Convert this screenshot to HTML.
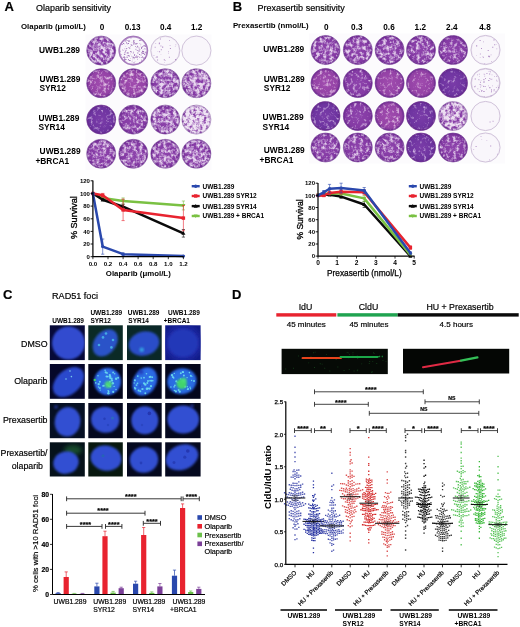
<!DOCTYPE html><html><head><meta charset="utf-8"><title>Figure</title><style>html,body{margin:0;padding:0;background:#fff}svg{display:block}text{font-family:"Liberation Sans",Arial,sans-serif}</style></head><body><svg width="520" height="627" viewBox="0 0 520 627">
<defs>
<filter id="wd0" x="-5%" y="-5%" width="110%" height="110%" color-interpolation-filters="sRGB"><feTurbulence type="fractalNoise" baseFrequency="0.3" numOctaves="3" seed="3" result="n"/><feColorMatrix in="n" type="matrix" values="0 0 0 0 0 0 0 0 0 0 0 0 0 0 0 3.0 0 0 0 -1.750" result="a"/><feComposite in="SourceGraphic" in2="a" operator="in" result="c"/><feGaussianBlur in="c" stdDeviation="0.55"/></filter>
<filter id="wd1" x="-5%" y="-5%" width="110%" height="110%" color-interpolation-filters="sRGB"><feTurbulence type="fractalNoise" baseFrequency="0.3" numOctaves="3" seed="3" result="n"/><feColorMatrix in="n" type="matrix" values="0 0 0 0 0 0 0 0 0 0 0 0 0 0 0 3.0 0 0 0 -1.675" result="a"/><feComposite in="SourceGraphic" in2="a" operator="in" result="c"/><feGaussianBlur in="c" stdDeviation="0.55"/></filter>
<filter id="wd2" x="-5%" y="-5%" width="110%" height="110%" color-interpolation-filters="sRGB"><feTurbulence type="fractalNoise" baseFrequency="0.3" numOctaves="3" seed="3" result="n"/><feColorMatrix in="n" type="matrix" values="0 0 0 0 0 0 0 0 0 0 0 0 0 0 0 3.0 0 0 0 -1.600" result="a"/><feComposite in="SourceGraphic" in2="a" operator="in" result="c"/><feGaussianBlur in="c" stdDeviation="0.55"/></filter>
<filter id="wd3" x="-5%" y="-5%" width="110%" height="110%" color-interpolation-filters="sRGB"><feTurbulence type="fractalNoise" baseFrequency="0.3" numOctaves="3" seed="3" result="n"/><feColorMatrix in="n" type="matrix" values="0 0 0 0 0 0 0 0 0 0 0 0 0 0 0 3.0 0 0 0 -1.525" result="a"/><feComposite in="SourceGraphic" in2="a" operator="in" result="c"/><feGaussianBlur in="c" stdDeviation="0.55"/></filter>
<filter id="wd4" x="-5%" y="-5%" width="110%" height="110%" color-interpolation-filters="sRGB"><feTurbulence type="fractalNoise" baseFrequency="0.3" numOctaves="3" seed="3" result="n"/><feColorMatrix in="n" type="matrix" values="0 0 0 0 0 0 0 0 0 0 0 0 0 0 0 3.0 0 0 0 -1.450" result="a"/><feComposite in="SourceGraphic" in2="a" operator="in" result="c"/><feGaussianBlur in="c" stdDeviation="0.55"/></filter>
<filter id="wd5" x="-5%" y="-5%" width="110%" height="110%" color-interpolation-filters="sRGB"><feTurbulence type="fractalNoise" baseFrequency="0.3" numOctaves="3" seed="3" result="n"/><feColorMatrix in="n" type="matrix" values="0 0 0 0 0 0 0 0 0 0 0 0 0 0 0 3.0 0 0 0 -1.375" result="a"/><feComposite in="SourceGraphic" in2="a" operator="in" result="c"/><feGaussianBlur in="c" stdDeviation="0.55"/></filter>
<filter id="wd6" x="-5%" y="-5%" width="110%" height="110%" color-interpolation-filters="sRGB"><feTurbulence type="fractalNoise" baseFrequency="0.3" numOctaves="3" seed="3" result="n"/><feColorMatrix in="n" type="matrix" values="0 0 0 0 0 0 0 0 0 0 0 0 0 0 0 3.0 0 0 0 -1.300" result="a"/><feComposite in="SourceGraphic" in2="a" operator="in" result="c"/><feGaussianBlur in="c" stdDeviation="0.55"/></filter>
<filter id="wd7" x="-5%" y="-5%" width="110%" height="110%" color-interpolation-filters="sRGB"><feTurbulence type="fractalNoise" baseFrequency="0.3" numOctaves="3" seed="3" result="n"/><feColorMatrix in="n" type="matrix" values="0 0 0 0 0 0 0 0 0 0 0 0 0 0 0 3.0 0 0 0 -1.225" result="a"/><feComposite in="SourceGraphic" in2="a" operator="in" result="c"/><feGaussianBlur in="c" stdDeviation="0.55"/></filter>
<filter id="wd8" x="-5%" y="-5%" width="110%" height="110%" color-interpolation-filters="sRGB"><feTurbulence type="fractalNoise" baseFrequency="0.3" numOctaves="3" seed="3" result="n"/><feColorMatrix in="n" type="matrix" values="0 0 0 0 0 0 0 0 0 0 0 0 0 0 0 3.0 0 0 0 -1.150" result="a"/><feComposite in="SourceGraphic" in2="a" operator="in" result="c"/><feGaussianBlur in="c" stdDeviation="0.55"/></filter>
<filter id="wd9" x="-5%" y="-5%" width="110%" height="110%" color-interpolation-filters="sRGB"><feTurbulence type="fractalNoise" baseFrequency="0.3" numOctaves="3" seed="3" result="n"/><feColorMatrix in="n" type="matrix" values="0 0 0 0 0 0 0 0 0 0 0 0 0 0 0 3.0 0 0 0 -1.075" result="a"/><feComposite in="SourceGraphic" in2="a" operator="in" result="c"/><feGaussianBlur in="c" stdDeviation="0.55"/></filter>
<filter id="wd10" x="-5%" y="-5%" width="110%" height="110%" color-interpolation-filters="sRGB"><feTurbulence type="fractalNoise" baseFrequency="0.3" numOctaves="3" seed="3" result="n"/><feColorMatrix in="n" type="matrix" values="0 0 0 0 0 0 0 0 0 0 0 0 0 0 0 3.0 0 0 0 -1.000" result="a"/><feComposite in="SourceGraphic" in2="a" operator="in" result="c"/><feGaussianBlur in="c" stdDeviation="0.55"/></filter>
<filter id="wd11" x="-5%" y="-5%" width="110%" height="110%" color-interpolation-filters="sRGB"><feTurbulence type="fractalNoise" baseFrequency="0.3" numOctaves="3" seed="3" result="n"/><feColorMatrix in="n" type="matrix" values="0 0 0 0 0 0 0 0 0 0 0 0 0 0 0 3.0 0 0 0 -0.925" result="a"/><feComposite in="SourceGraphic" in2="a" operator="in" result="c"/><feGaussianBlur in="c" stdDeviation="0.55"/></filter>
<filter id="wd12" x="-5%" y="-5%" width="110%" height="110%" color-interpolation-filters="sRGB"><feTurbulence type="fractalNoise" baseFrequency="0.3" numOctaves="3" seed="3" result="n"/><feColorMatrix in="n" type="matrix" values="0 0 0 0 0 0 0 0 0 0 0 0 0 0 0 3.0 0 0 0 -0.850" result="a"/><feComposite in="SourceGraphic" in2="a" operator="in" result="c"/><feGaussianBlur in="c" stdDeviation="0.55"/></filter>
<filter id="wd13" x="-5%" y="-5%" width="110%" height="110%" color-interpolation-filters="sRGB"><feTurbulence type="fractalNoise" baseFrequency="0.3" numOctaves="3" seed="3" result="n"/><feColorMatrix in="n" type="matrix" values="0 0 0 0 0 0 0 0 0 0 0 0 0 0 0 3.0 0 0 0 -0.775" result="a"/><feComposite in="SourceGraphic" in2="a" operator="in" result="c"/><feGaussianBlur in="c" stdDeviation="0.55"/></filter>
<filter id="wd14" x="-5%" y="-5%" width="110%" height="110%" color-interpolation-filters="sRGB"><feTurbulence type="fractalNoise" baseFrequency="0.3" numOctaves="3" seed="3" result="n"/><feColorMatrix in="n" type="matrix" values="0 0 0 0 0 0 0 0 0 0 0 0 0 0 0 3.0 0 0 0 -0.700" result="a"/><feComposite in="SourceGraphic" in2="a" operator="in" result="c"/><feGaussianBlur in="c" stdDeviation="0.55"/></filter>
<filter id="wd15" x="-5%" y="-5%" width="110%" height="110%" color-interpolation-filters="sRGB"><feTurbulence type="fractalNoise" baseFrequency="0.3" numOctaves="3" seed="3" result="n"/><feColorMatrix in="n" type="matrix" values="0 0 0 0 0 0 0 0 0 0 0 0 0 0 0 3.0 0 0 0 -0.625" result="a"/><feComposite in="SourceGraphic" in2="a" operator="in" result="c"/><feGaussianBlur in="c" stdDeviation="0.55"/></filter>
<filter id="wd16" x="-5%" y="-5%" width="110%" height="110%" color-interpolation-filters="sRGB"><feTurbulence type="fractalNoise" baseFrequency="0.3" numOctaves="3" seed="3" result="n"/><feColorMatrix in="n" type="matrix" values="0 0 0 0 0 0 0 0 0 0 0 0 0 0 0 3.0 0 0 0 -0.550" result="a"/><feComposite in="SourceGraphic" in2="a" operator="in" result="c"/><feGaussianBlur in="c" stdDeviation="0.55"/></filter>
<filter id="wd17" x="-5%" y="-5%" width="110%" height="110%" color-interpolation-filters="sRGB"><feTurbulence type="fractalNoise" baseFrequency="0.3" numOctaves="3" seed="3" result="n"/><feColorMatrix in="n" type="matrix" values="0 0 0 0 0 0 0 0 0 0 0 0 0 0 0 3.0 0 0 0 -0.475" result="a"/><feComposite in="SourceGraphic" in2="a" operator="in" result="c"/><feGaussianBlur in="c" stdDeviation="0.55"/></filter>
<filter id="wd18" x="-5%" y="-5%" width="110%" height="110%" color-interpolation-filters="sRGB"><feTurbulence type="fractalNoise" baseFrequency="0.3" numOctaves="3" seed="3" result="n"/><feColorMatrix in="n" type="matrix" values="0 0 0 0 0 0 0 0 0 0 0 0 0 0 0 3.0 0 0 0 -0.400" result="a"/><feComposite in="SourceGraphic" in2="a" operator="in" result="c"/><feGaussianBlur in="c" stdDeviation="0.55"/></filter>
<filter id="wd19" x="-5%" y="-5%" width="110%" height="110%" color-interpolation-filters="sRGB"><feTurbulence type="fractalNoise" baseFrequency="0.3" numOctaves="3" seed="3" result="n"/><feColorMatrix in="n" type="matrix" values="0 0 0 0 0 0 0 0 0 0 0 0 0 0 0 3.0 0 0 0 -0.325" result="a"/><feComposite in="SourceGraphic" in2="a" operator="in" result="c"/><feGaussianBlur in="c" stdDeviation="0.55"/></filter>
<filter id="wd20" x="-5%" y="-5%" width="110%" height="110%" color-interpolation-filters="sRGB"><feTurbulence type="fractalNoise" baseFrequency="0.3" numOctaves="3" seed="3" result="n"/><feColorMatrix in="n" type="matrix" values="0 0 0 0 0 0 0 0 0 0 0 0 0 0 0 3.0 0 0 0 -0.250" result="a"/><feComposite in="SourceGraphic" in2="a" operator="in" result="c"/><feGaussianBlur in="c" stdDeviation="0.55"/></filter>
<radialGradient id="pg" cx="50%" cy="50%" r="50%"><stop offset="0" stop-color="#8e44ac"/><stop offset="0.8" stop-color="#843aa4"/><stop offset="1" stop-color="#723094"/></radialGradient>
<radialGradient id="pgd" cx="50%" cy="50%" r="50%"><stop offset="0" stop-color="#7a3ca8"/><stop offset="0.8" stop-color="#6e34a0"/><stop offset="1" stop-color="#602c92"/></radialGradient>
<radialGradient id="nuc" cx="50%" cy="50%" r="50%"><stop offset="0" stop-color="#3d5cf0"/><stop offset="0.75" stop-color="#3048dc"/><stop offset="1" stop-color="#2233b8"/></radialGradient>
<filter id="b1" x="-20%" y="-20%" width="140%" height="140%"><feGaussianBlur stdDeviation="1"/></filter>
<filter id="b05" x="-20%" y="-20%" width="140%" height="140%"><feGaussianBlur stdDeviation="0.6"/></filter>
<filter id="b2" x="-30%" y="-30%" width="160%" height="160%"><feGaussianBlur stdDeviation="2"/></filter>
</defs>
<defs><radialGradient id="pgm" cx="50%" cy="50%" r="50%"><stop offset="0" stop-color="#a04cae"/><stop offset="0.8" stop-color="#9442a6"/><stop offset="1" stop-color="#7e3698"/></radialGradient></defs>
<rect x="85.5" y="34.5" width="126" height="135.5" fill="#fcfbfd"/>
<circle cx="101.2" cy="50.6" r="14.6" fill="#f9f6fb" stroke="#bfaccb" stroke-width="0.7"/>
<circle cx="101.2" cy="50.6" r="14.299999999999999" fill="#cda6dc" opacity="0.41"/>
<circle cx="101.2" cy="50.6" r="14.4" fill="url(#pg)" filter="url(#wd11)"/>
<circle cx="101.2" cy="50.6" r="14.0" fill="none" stroke="#6c2c90" stroke-width="1.6" opacity="0.39" filter="url(#b05)"/>
<circle cx="133.3" cy="50.6" r="14.6" fill="#f9f6fb" stroke="#bfaccb" stroke-width="0.7"/>
<path d="M144.1 53.9h1.0v1.0h-1.0zM123.9 59.4h0.8v0.8h-0.8zM143.9 47.9h0.6v0.6h-0.6zM132.9 44.3h0.7v0.7h-0.7zM141.4 59.5h0.5v0.5h-0.5zM121.7 43.9h1.0v1.0h-1.0zM143.9 52.7h0.7v0.7h-0.7zM133.5 62.2h1.0v1.0h-1.0zM135.6 49.2h0.7v0.7h-0.7zM138.2 50.6h0.9v0.9h-0.9zM128.9 55.0h0.6v0.6h-0.6zM139.4 48.9h0.9v0.9h-0.9zM136.3 44.4h0.7v0.7h-0.7zM125.5 50.0h0.9v0.9h-0.9zM136.9 46.8h0.7v0.7h-0.7zM120.1 50.8h0.8v0.8h-0.8zM124.9 51.4h0.8v0.8h-0.8zM131.7 61.6h0.7v0.7h-0.7zM124.7 58.9h0.9v0.9h-0.9zM134.5 43.4h1.1v1.1h-1.1zM129.1 40.4h1.0v1.0h-1.0zM126.1 42.2h0.8v0.8h-0.8zM122.7 50.0h0.7v0.7h-0.7zM139.2 62.3h0.8v0.8h-0.8zM146.3 51.7h0.6v0.6h-0.6zM130.7 44.2h1.0v1.0h-1.0zM138.8 47.8h0.7v0.7h-0.7zM135.6 48.7h0.7v0.7h-0.7zM127.7 52.4h1.1v1.1h-1.1zM130.2 51.0h1.0v1.0h-1.0zM136.6 57.0h1.0v1.0h-1.0zM126.6 56.9h1.0v1.0h-1.0zM128.1 59.1h0.8v0.8h-0.8zM142.2 56.0h0.8v0.8h-0.8zM138.6 47.3h0.6v0.6h-0.6zM142.9 52.9h1.0v1.0h-1.0zM132.6 57.7h0.9v0.9h-0.9zM124.5 48.4h0.8v0.8h-0.8zM123.9 53.7h0.9v0.9h-0.9zM139.2 50.6h0.9v0.9h-0.9zM124.3 60.2h1.0v1.0h-1.0zM145.2 51.8h0.9v0.9h-0.9zM124.3 43.7h0.6v0.6h-0.6zM123.0 42.9h1.0v1.0h-1.0zM125.8 61.4h0.5v0.5h-0.5zM133.6 39.9h0.9v0.9h-0.9zM125.6 46.2h0.5v0.5h-0.5zM139.7 39.9h0.9v0.9h-0.9zM141.8 46.2h1.1v1.1h-1.1zM132.8 52.7h0.8v0.8h-0.8zM126.3 39.6h0.7v0.7h-0.7zM140.8 57.1h0.7v0.7h-0.7zM126.4 42.5h0.6v0.6h-0.6zM141.5 52.7h0.8v0.8h-0.8zM128.8 60.1h0.9v0.9h-0.9zM127.0 43.4h0.9v0.9h-0.9zM145.6 52.6h0.9v0.9h-0.9zM141.8 57.1h0.8v0.8h-0.8zM127.5 55.2h1.0v1.0h-1.0zM137.2 43.1h0.7v0.7h-0.7zM137.1 59.3h0.6v0.6h-0.6zM141.2 60.4h0.8v0.8h-0.8zM137.4 46.2h0.8v0.8h-0.8zM142.9 57.4h1.1v1.1h-1.1zM130.4 53.7h0.6v0.6h-0.6zM132.5 56.6h1.0v1.0h-1.0zM139.1 43.5h0.6v0.6h-0.6zM138.5 56.3h0.7v0.7h-0.7zM124.5 53.8h0.9v0.9h-0.9zM134.0 54.3h1.1v1.1h-1.1zM129.4 47.6h0.8v0.8h-0.8zM135.3 43.6h0.7v0.7h-0.7zM140.4 43.7h0.8v0.8h-0.8zM141.7 52.6h1.1v1.1h-1.1zM135.8 43.0h1.0v1.0h-1.0zM125.6 59.0h0.9v0.9h-0.9zM128.4 47.3h0.8v0.8h-0.8zM134.3 57.8h0.6v0.6h-0.6zM139.2 57.2h0.7v0.7h-0.7zM133.2 51.7h0.8v0.8h-0.8zM136.9 57.5h0.7v0.7h-0.7zM128.4 55.1h0.9v0.9h-0.9zM144.4 45.1h1.1v1.1h-1.1zM135.1 45.9h0.9v0.9h-0.9zM138.7 48.7h0.6v0.6h-0.6zM126.6 55.8h0.6v0.6h-0.6zM126.2 48.0h1.0v1.0h-1.0zM124.5 52.2h0.8v0.8h-0.8zM133.3 43.2h0.8v0.8h-0.8zM137.1 45.8h0.8v0.8h-0.8zM139.0 54.1h1.0v1.0h-1.0zM144.9 46.0h0.9v0.9h-0.9zM124.2 57.1h1.1v1.1h-1.1zM121.2 55.8h0.5v0.5h-0.5zM143.1 51.1h1.0v1.0h-1.0zM122.4 48.9h0.7v0.7h-0.7zM122.8 57.0h0.9v0.9h-0.9zM129.7 60.0h0.9v0.9h-0.9zM133.6 42.1h1.1v1.1h-1.1zM133.2 41.5h1.0v1.0h-1.0zM136.5 55.4h0.5v0.5h-0.5zM129.5 48.2h0.7v0.7h-0.7zM139.2 40.3h0.8v0.8h-0.8zM142.8 49.2h0.6v0.6h-0.6zM126.3 48.7h0.6v0.6h-0.6zM141.1 47.0h1.1v1.1h-1.1zM128.8 55.9h0.7v0.7h-0.7zM129.4 48.3h0.5v0.5h-0.5zM126.8 51.9h0.9v0.9h-0.9zM136.2 55.6h1.0v1.0h-1.0zM144.7 57.3h1.1v1.1h-1.1zM144.6 48.6h0.9v0.9h-0.9zM134.7 60.9h0.6v0.6h-0.6zM142.0 50.8h1.1v1.1h-1.1zM128.3 41.1h0.9v0.9h-0.9zM136.8 50.0h0.9v0.9h-0.9zM130.0 45.9h0.7v0.7h-0.7zM125.3 40.2h1.0v1.0h-1.0zM124.1 58.5h1.1v1.1h-1.1zM140.6 40.3h0.7v0.7h-0.7zM131.0 55.8h0.6v0.6h-0.6zM124.2 54.2h0.7v0.7h-0.7zM141.1 48.0h0.9v0.9h-0.9zM139.0 40.2h0.9v0.9h-0.9zM129.4 55.9h0.6v0.6h-0.6zM136.1 47.4h0.6v0.6h-0.6zM130.1 58.0h0.6v0.6h-0.6zM126.4 43.3h0.6v0.6h-0.6zM124.7 41.1h0.7v0.7h-0.7zM133.5 57.1h1.0v1.0h-1.0zM143.3 45.5h1.0v1.0h-1.0zM133.9 58.7h0.5v0.5h-0.5zM128.0 42.9h1.0v1.0h-1.0zM130.5 37.5h0.9v0.9h-0.9zM134.1 55.3h0.6v0.6h-0.6zM126.8 53.0h0.7v0.7h-0.7zM140.0 45.7h0.6v0.6h-0.6zM130.8 51.6h0.9v0.9h-0.9zM137.3 56.3h0.6v0.6h-0.6zM143.0 45.4h0.6v0.6h-0.6zM125.4 51.3h0.6v0.6h-0.6zM135.2 56.6h1.1v1.1h-1.1zM142.7 52.6h1.0v1.0h-1.0zM133.2 40.3h1.1v1.1h-1.1zM123.6 56.2h1.1v1.1h-1.1zM141.3 51.9h0.7v0.7h-0.7zM140.6 54.5h0.9v0.9h-0.9zM132.0 59.7h0.6v0.6h-0.6zM127.5 39.9h1.0v1.0h-1.0zM131.4 44.9h1.0v1.0h-1.0zM139.1 50.5h0.6v0.6h-0.6zM137.3 52.4h1.1v1.1h-1.1zM131.7 42.0h0.5v0.5h-0.5zM120.8 53.9h0.8v0.8h-0.8z" fill="#7e42a0" opacity="0.7" filter="url(#b05)"/>
<circle cx="133.3" cy="50.6" r="14.0" fill="none" stroke="#8a4ea8" stroke-width="1.6" opacity="0.66" filter="url(#b05)"/>
<circle cx="165.3" cy="50.6" r="14.6" fill="#f9f6fb" stroke="#bfaccb" stroke-width="0.7"/>
<path d="M175.5 44.6h0.7v0.7h-0.7zM157.6 51.5h0.6v0.6h-0.6zM175.1 59.1h1.1v1.1h-1.1zM154.7 46.8h0.9v0.9h-0.9zM169.7 45.0h0.7v0.7h-0.7zM158.8 43.2h1.1v1.1h-1.1zM174.9 46.5h0.6v0.6h-0.6zM157.0 56.5h0.9v0.9h-0.9zM160.7 54.6h0.5v0.5h-0.5zM159.9 38.4h1.0v1.0h-1.0zM156.3 56.6h0.8v0.8h-0.8zM158.9 42.6h0.9v0.9h-0.9zM157.1 59.5h1.0v1.0h-1.0zM164.4 62.5h0.5v0.5h-0.5zM163.8 59.2h1.0v1.0h-1.0zM169.0 40.0h0.8v0.8h-0.8zM169.9 47.9h1.0v1.0h-1.0zM168.9 56.8h0.9v0.9h-0.9zM159.1 51.2h1.0v1.0h-1.0zM153.6 55.1h0.7v0.7h-0.7zM155.6 57.4h0.6v0.6h-0.6zM168.0 52.8h0.6v0.6h-0.6zM160.5 45.6h0.9v0.9h-0.9zM155.5 43.1h0.6v0.6h-0.6zM162.1 46.6h1.1v1.1h-1.1zM160.8 49.2h1.0v1.0h-1.0zM168.3 51.3h0.6v0.6h-0.6zM164.8 60.0h0.7v0.7h-0.7z" fill="#7e42a0" opacity="0.6" filter="url(#b05)"/>
<circle cx="165.3" cy="50.6" r="14.0" fill="none" stroke="#9a78b0" stroke-width="0.9" opacity="0.12" filter="url(#b05)"/>
<circle cx="196.4" cy="50.6" r="14.6" fill="#f9f6fb" stroke="#bfaccb" stroke-width="0.7"/>
<circle cx="101.2" cy="83.2" r="14.6" fill="#f9f6fb" stroke="#bfaccb" stroke-width="0.7"/>
<circle cx="101.2" cy="83.2" r="14.299999999999999" fill="#d4a4d8" opacity="0.60"/>
<circle cx="101.2" cy="83.2" r="14.4" fill="url(#pgm)" filter="url(#wd16)"/>
<circle cx="101.2" cy="83.2" r="14.0" fill="none" stroke="#6c2c90" stroke-width="1.6" opacity="0.56" filter="url(#b05)"/>
<circle cx="133.3" cy="83.2" r="14.6" fill="#f9f6fb" stroke="#bfaccb" stroke-width="0.7"/>
<circle cx="133.3" cy="83.2" r="14.299999999999999" fill="#d4a4d8" opacity="0.56"/>
<circle cx="133.3" cy="83.2" r="14.4" fill="url(#pgm)" filter="url(#wd15)"/>
<circle cx="133.3" cy="83.2" r="14.0" fill="none" stroke="#6c2c90" stroke-width="1.6" opacity="0.52" filter="url(#b05)"/>
<circle cx="165.3" cy="83.2" r="14.6" fill="#f9f6fb" stroke="#bfaccb" stroke-width="0.7"/>
<circle cx="165.3" cy="83.2" r="14.299999999999999" fill="#cda6dc" opacity="0.41"/>
<circle cx="165.3" cy="83.2" r="14.4" fill="url(#pg)" filter="url(#wd11)"/>
<circle cx="165.3" cy="83.2" r="14.0" fill="none" stroke="#6c2c90" stroke-width="1.6" opacity="0.39" filter="url(#b05)"/>
<circle cx="196.4" cy="83.2" r="14.6" fill="#f9f6fb" stroke="#bfaccb" stroke-width="0.7"/>
<circle cx="196.4" cy="83.2" r="14.299999999999999" fill="#cda6dc" opacity="0.38"/>
<circle cx="196.4" cy="83.2" r="14.4" fill="url(#pg)" filter="url(#wd10)"/>
<circle cx="196.4" cy="83.2" r="14.0" fill="none" stroke="#6c2c90" stroke-width="1.6" opacity="0.35" filter="url(#b05)"/>
<circle cx="101.2" cy="119.6" r="14.6" fill="#f9f6fb" stroke="#bfaccb" stroke-width="0.7"/>
<circle cx="101.2" cy="119.6" r="14.299999999999999" fill="#b48ad0" opacity="0.68"/>
<circle cx="101.2" cy="119.6" r="14.4" fill="url(#pgd)" filter="url(#wd18)"/>
<circle cx="101.2" cy="119.6" r="14.0" fill="none" stroke="#6c2c90" stroke-width="1.6" opacity="0.63" filter="url(#b05)"/>
<circle cx="133.3" cy="119.6" r="14.6" fill="#f9f6fb" stroke="#bfaccb" stroke-width="0.7"/>
<circle cx="133.3" cy="119.6" r="14.299999999999999" fill="#cda6dc" opacity="0.52"/>
<circle cx="133.3" cy="119.6" r="14.4" fill="url(#pg)" filter="url(#wd14)"/>
<circle cx="133.3" cy="119.6" r="14.0" fill="none" stroke="#6c2c90" stroke-width="1.6" opacity="0.49" filter="url(#b05)"/>
<circle cx="165.3" cy="119.6" r="14.6" fill="#f9f6fb" stroke="#bfaccb" stroke-width="0.7"/>
<circle cx="165.3" cy="119.6" r="14.299999999999999" fill="#cda6dc" opacity="0.41"/>
<circle cx="165.3" cy="119.6" r="14.4" fill="url(#pg)" filter="url(#wd11)"/>
<circle cx="165.3" cy="119.6" r="14.0" fill="none" stroke="#6c2c90" stroke-width="1.6" opacity="0.39" filter="url(#b05)"/>
<circle cx="196.4" cy="119.6" r="14.6" fill="#f9f6fb" stroke="#bfaccb" stroke-width="0.7"/>
<circle cx="196.4" cy="119.6" r="14.299999999999999" fill="#cda6dc" opacity="0.22"/>
<circle cx="196.4" cy="119.6" r="14.4" fill="url(#pg)" filter="url(#wd6)"/>
<circle cx="196.4" cy="119.6" r="14.0" fill="none" stroke="#6c2c90" stroke-width="1.6" opacity="0.21" filter="url(#b05)"/>
<circle cx="101.2" cy="153.8" r="14.6" fill="#f9f6fb" stroke="#bfaccb" stroke-width="0.7"/>
<circle cx="101.2" cy="153.8" r="14.299999999999999" fill="#cda6dc" opacity="0.49"/>
<circle cx="101.2" cy="153.8" r="14.4" fill="url(#pg)" filter="url(#wd13)"/>
<circle cx="101.2" cy="153.8" r="14.0" fill="none" stroke="#6c2c90" stroke-width="1.6" opacity="0.45" filter="url(#b05)"/>
<circle cx="133.3" cy="153.8" r="14.6" fill="#f9f6fb" stroke="#bfaccb" stroke-width="0.7"/>
<circle cx="133.3" cy="153.8" r="14.299999999999999" fill="#cda6dc" opacity="0.49"/>
<circle cx="133.3" cy="153.8" r="14.4" fill="url(#pg)" filter="url(#wd13)"/>
<circle cx="133.3" cy="153.8" r="14.0" fill="none" stroke="#6c2c90" stroke-width="1.6" opacity="0.45" filter="url(#b05)"/>
<circle cx="165.3" cy="153.8" r="14.6" fill="#f9f6fb" stroke="#bfaccb" stroke-width="0.7"/>
<circle cx="165.3" cy="153.8" r="14.299999999999999" fill="#cda6dc" opacity="0.45"/>
<circle cx="165.3" cy="153.8" r="14.4" fill="url(#pg)" filter="url(#wd12)"/>
<circle cx="165.3" cy="153.8" r="14.0" fill="none" stroke="#6c2c90" stroke-width="1.6" opacity="0.42" filter="url(#b05)"/>
<circle cx="196.4" cy="153.8" r="14.6" fill="#f9f6fb" stroke="#bfaccb" stroke-width="0.7"/>
<circle cx="196.4" cy="153.8" r="14.299999999999999" fill="#cda6dc" opacity="0.41"/>
<circle cx="196.4" cy="153.8" r="14.4" fill="url(#pg)" filter="url(#wd11)"/>
<circle cx="196.4" cy="153.8" r="14.0" fill="none" stroke="#6c2c90" stroke-width="1.6" opacity="0.39" filter="url(#b05)"/>
<rect x="309" y="33.5" width="196" height="130" fill="#fcfbfd"/>
<circle cx="325.5" cy="50" r="14.6" fill="#f9f6fb" stroke="#bfaccb" stroke-width="0.7"/>
<circle cx="325.5" cy="50" r="14.299999999999999" fill="#cda6dc" opacity="0.49"/>
<circle cx="325.5" cy="50" r="14.4" fill="url(#pg)" filter="url(#wd13)"/>
<circle cx="325.5" cy="50" r="14.0" fill="none" stroke="#6c2c90" stroke-width="1.6" opacity="0.45" filter="url(#b05)"/>
<circle cx="357.8" cy="50" r="14.6" fill="#f9f6fb" stroke="#bfaccb" stroke-width="0.7"/>
<circle cx="357.8" cy="50" r="14.299999999999999" fill="#cda6dc" opacity="0.49"/>
<circle cx="357.8" cy="50" r="14.4" fill="url(#pg)" filter="url(#wd13)"/>
<circle cx="357.8" cy="50" r="14.0" fill="none" stroke="#6c2c90" stroke-width="1.6" opacity="0.45" filter="url(#b05)"/>
<circle cx="389.6" cy="50" r="14.6" fill="#f9f6fb" stroke="#bfaccb" stroke-width="0.7"/>
<circle cx="389.6" cy="50" r="14.299999999999999" fill="#cda6dc" opacity="0.49"/>
<circle cx="389.6" cy="50" r="14.4" fill="url(#pg)" filter="url(#wd13)"/>
<circle cx="389.6" cy="50" r="14.0" fill="none" stroke="#6c2c90" stroke-width="1.6" opacity="0.45" filter="url(#b05)"/>
<circle cx="421" cy="50" r="14.6" fill="#f9f6fb" stroke="#bfaccb" stroke-width="0.7"/>
<circle cx="421" cy="50" r="14.299999999999999" fill="#cda6dc" opacity="0.52"/>
<circle cx="421" cy="50" r="14.4" fill="url(#pg)" filter="url(#wd14)"/>
<circle cx="421" cy="50" r="14.0" fill="none" stroke="#6c2c90" stroke-width="1.6" opacity="0.49" filter="url(#b05)"/>
<circle cx="453" cy="50" r="14.6" fill="#f9f6fb" stroke="#bfaccb" stroke-width="0.7"/>
<circle cx="453" cy="50" r="14.299999999999999" fill="#cda6dc" opacity="0.56"/>
<circle cx="453" cy="50" r="14.4" fill="url(#pg)" filter="url(#wd15)"/>
<circle cx="453" cy="50" r="14.0" fill="none" stroke="#6c2c90" stroke-width="1.6" opacity="0.52" filter="url(#b05)"/>
<circle cx="485.5" cy="50" r="14.6" fill="#f9f6fb" stroke="#bfaccb" stroke-width="0.7"/>
<path d="M476.1 45.3h1.1v1.1h-1.1zM487.7 50.1h1.0v1.0h-1.0zM484.5 63.2h0.7v0.7h-0.7zM482.5 56.4h0.9v0.9h-0.9zM490.7 54.6h0.7v0.7h-0.7zM495.9 44.2h0.6v0.6h-0.6zM476.3 55.4h0.5v0.5h-0.5zM493.5 39.6h1.0v1.0h-1.0zM479.6 39.9h1.0v1.0h-1.0zM488.8 56.2h1.1v1.1h-1.1zM479.9 53.6h0.8v0.8h-0.8zM479.8 57.4h0.7v0.7h-0.7zM481.0 48.0h0.9v0.9h-0.9zM496.5 48.6h0.7v0.7h-0.7zM492.2 46.7h1.1v1.1h-1.1zM483.3 41.6h0.7v0.7h-0.7zM488.0 55.7h1.1v1.1h-1.1zM491.3 61.3h0.6v0.6h-0.6zM494.2 44.2h1.0v1.0h-1.0zM483.2 57.3h0.7v0.7h-0.7zM489.4 55.7h0.7v0.7h-0.7z" fill="#7e42a0" opacity="0.6" filter="url(#b05)"/>
<circle cx="485.5" cy="50" r="14.0" fill="none" stroke="#9a78b0" stroke-width="0.9" opacity="0.09" filter="url(#b05)"/>
<circle cx="325.5" cy="83" r="14.6" fill="#f9f6fb" stroke="#bfaccb" stroke-width="0.7"/>
<circle cx="325.5" cy="83" r="14.299999999999999" fill="#d4a4d8" opacity="0.64"/>
<circle cx="325.5" cy="83" r="14.4" fill="url(#pgm)" filter="url(#wd17)"/>
<circle cx="325.5" cy="83" r="14.0" fill="none" stroke="#6c2c90" stroke-width="1.6" opacity="0.59" filter="url(#b05)"/>
<circle cx="357.8" cy="83" r="14.6" fill="#f9f6fb" stroke="#bfaccb" stroke-width="0.7"/>
<circle cx="357.8" cy="83" r="14.299999999999999" fill="#cda6dc" opacity="0.64"/>
<circle cx="357.8" cy="83" r="14.4" fill="url(#pg)" filter="url(#wd17)"/>
<circle cx="357.8" cy="83" r="14.0" fill="none" stroke="#6c2c90" stroke-width="1.6" opacity="0.59" filter="url(#b05)"/>
<circle cx="389.6" cy="83" r="14.6" fill="#f9f6fb" stroke="#bfaccb" stroke-width="0.7"/>
<circle cx="389.6" cy="83" r="14.299999999999999" fill="#d4a4d8" opacity="0.68"/>
<circle cx="389.6" cy="83" r="14.4" fill="url(#pgm)" filter="url(#wd18)"/>
<circle cx="389.6" cy="83" r="14.0" fill="none" stroke="#6c2c90" stroke-width="1.6" opacity="0.63" filter="url(#b05)"/>
<circle cx="421" cy="83" r="14.6" fill="#f9f6fb" stroke="#bfaccb" stroke-width="0.7"/>
<circle cx="421" cy="83" r="14.299999999999999" fill="#d4a4d8" opacity="0.68"/>
<circle cx="421" cy="83" r="14.4" fill="url(#pgm)" filter="url(#wd18)"/>
<circle cx="421" cy="83" r="14.0" fill="none" stroke="#6c2c90" stroke-width="1.6" opacity="0.63" filter="url(#b05)"/>
<circle cx="453" cy="83" r="14.6" fill="#f9f6fb" stroke="#bfaccb" stroke-width="0.7"/>
<circle cx="453" cy="83" r="14.299999999999999" fill="#b48ad0" opacity="0.71"/>
<circle cx="453" cy="83" r="14.4" fill="url(#pgd)" filter="url(#wd19)"/>
<circle cx="453" cy="83" r="14.0" fill="none" stroke="#6c2c90" stroke-width="1.6" opacity="0.66" filter="url(#b05)"/>
<circle cx="485.5" cy="83" r="14.6" fill="#f9f6fb" stroke="#bfaccb" stroke-width="0.7"/>
<path d="M492.1 85.6h0.6v0.6h-0.6zM488.7 71.2h0.7v0.7h-0.7zM474.7 78.4h1.1v1.1h-1.1zM490.1 71.4h0.9v0.9h-0.9zM480.6 85.4h0.8v0.8h-0.8zM483.1 86.1h0.8v0.8h-0.8zM491.5 78.7h0.8v0.8h-0.8zM486.3 88.8h0.6v0.6h-0.6zM480.8 79.9h0.6v0.6h-0.6zM484.4 81.7h0.5v0.5h-0.5zM493.7 89.3h0.9v0.9h-0.9zM496.7 80.8h0.8v0.8h-0.8zM496.2 79.8h0.7v0.7h-0.7zM486.5 73.0h0.9v0.9h-0.9zM491.0 89.0h0.8v0.8h-0.8zM479.9 89.1h0.5v0.5h-0.5zM489.4 78.0h0.9v0.9h-0.9zM495.9 87.0h0.8v0.8h-0.8zM478.9 91.2h0.8v0.8h-0.8zM491.3 90.1h0.7v0.7h-0.7zM484.1 95.9h0.6v0.6h-0.6zM491.0 91.2h0.9v0.9h-0.9zM480.1 86.7h0.7v0.7h-0.7zM474.2 86.2h1.0v1.0h-1.0zM484.6 85.9h1.0v1.0h-1.0zM490.9 91.8h0.7v0.7h-0.7zM494.1 76.3h0.6v0.6h-0.6zM482.9 91.3h0.6v0.6h-0.6zM488.8 80.3h0.7v0.7h-0.7zM490.6 94.9h0.9v0.9h-0.9zM481.6 90.2h0.9v0.9h-0.9zM496.3 76.0h0.7v0.7h-0.7zM478.4 78.9h0.5v0.5h-0.5zM477.4 88.4h0.9v0.9h-0.9zM490.6 79.1h0.7v0.7h-0.7zM484.6 74.3h0.5v0.5h-0.5zM479.3 84.4h0.7v0.7h-0.7zM489.1 73.4h1.1v1.1h-1.1zM478.9 73.8h0.8v0.8h-0.8zM483.4 81.7h1.0v1.0h-1.0zM482.7 84.9h0.6v0.6h-0.6zM488.0 85.6h0.6v0.6h-0.6zM497.6 85.7h0.6v0.6h-0.6zM488.0 80.3h0.8v0.8h-0.8zM477.3 74.6h0.7v0.7h-0.7zM483.7 73.7h0.8v0.8h-0.8zM475.1 85.7h0.7v0.7h-0.7zM481.2 89.9h0.8v0.8h-0.8zM483.5 80.7h0.9v0.9h-0.9zM498.2 87.3h0.9v0.9h-0.9zM479.0 76.5h0.6v0.6h-0.6zM481.2 91.3h0.8v0.8h-0.8zM484.4 75.7h0.7v0.7h-0.7zM480.1 81.8h0.9v0.9h-0.9zM480.2 83.9h0.9v0.9h-0.9zM483.4 79.0h1.0v1.0h-1.0zM495.4 91.4h0.9v0.9h-0.9zM493.6 90.5h0.8v0.8h-0.8zM483.7 91.1h0.9v0.9h-0.9zM485.0 78.1h0.8v0.8h-0.8zM478.6 79.4h0.9v0.9h-0.9zM489.3 87.1h1.1v1.1h-1.1zM491.7 74.6h0.6v0.6h-0.6z" fill="#7e42a0" opacity="0.6" filter="url(#b05)"/>
<circle cx="485.5" cy="83" r="14.0" fill="none" stroke="#9a78b0" stroke-width="0.9" opacity="0.27" filter="url(#b05)"/>
<circle cx="325.5" cy="116" r="14.6" fill="#f9f6fb" stroke="#bfaccb" stroke-width="0.7"/>
<circle cx="325.5" cy="116" r="14.299999999999999" fill="#b48ad0" opacity="0.68"/>
<circle cx="325.5" cy="116" r="14.4" fill="url(#pgd)" filter="url(#wd18)"/>
<circle cx="325.5" cy="116" r="14.0" fill="none" stroke="#6c2c90" stroke-width="1.6" opacity="0.63" filter="url(#b05)"/>
<circle cx="357.8" cy="116" r="14.6" fill="#f9f6fb" stroke="#bfaccb" stroke-width="0.7"/>
<circle cx="357.8" cy="116" r="14.299999999999999" fill="#cda6dc" opacity="0.68"/>
<circle cx="357.8" cy="116" r="14.4" fill="url(#pg)" filter="url(#wd18)"/>
<circle cx="357.8" cy="116" r="14.0" fill="none" stroke="#6c2c90" stroke-width="1.6" opacity="0.63" filter="url(#b05)"/>
<circle cx="389.6" cy="116" r="14.6" fill="#f9f6fb" stroke="#bfaccb" stroke-width="0.7"/>
<circle cx="389.6" cy="116" r="14.299999999999999" fill="#d4a4d8" opacity="0.64"/>
<circle cx="389.6" cy="116" r="14.4" fill="url(#pgm)" filter="url(#wd17)"/>
<circle cx="389.6" cy="116" r="14.0" fill="none" stroke="#6c2c90" stroke-width="1.6" opacity="0.59" filter="url(#b05)"/>
<circle cx="421" cy="116" r="14.6" fill="#f9f6fb" stroke="#bfaccb" stroke-width="0.7"/>
<circle cx="421" cy="116" r="14.299999999999999" fill="#b48ad0" opacity="0.71"/>
<circle cx="421" cy="116" r="14.4" fill="url(#pgd)" filter="url(#wd19)"/>
<circle cx="421" cy="116" r="14.0" fill="none" stroke="#6c2c90" stroke-width="1.6" opacity="0.66" filter="url(#b05)"/>
<circle cx="453" cy="116" r="14.6" fill="#f9f6fb" stroke="#bfaccb" stroke-width="0.7"/>
<circle cx="453" cy="116" r="14.299999999999999" fill="#cda6dc" opacity="0.30"/>
<circle cx="453" cy="116" r="14.4" fill="url(#pg)" filter="url(#wd8)"/>
<circle cx="453" cy="116" r="14.0" fill="none" stroke="#6c2c90" stroke-width="1.6" opacity="0.28" filter="url(#b05)"/>
<circle cx="485.5" cy="116" r="14.6" fill="#f9f6fb" stroke="#bfaccb" stroke-width="0.7"/>
<path d="M489.6 121.5h0.9v0.9h-0.9zM492.6 120.8h0.9v0.9h-0.9z" fill="#7e42a0" opacity="0.6" filter="url(#b05)"/>
<circle cx="485.5" cy="116" r="14.0" fill="none" stroke="#9a78b0" stroke-width="0.9" opacity="0.01" filter="url(#b05)"/>
<circle cx="325.5" cy="147.5" r="14.6" fill="#f9f6fb" stroke="#bfaccb" stroke-width="0.7"/>
<circle cx="325.5" cy="147.5" r="14.299999999999999" fill="#cda6dc" opacity="0.52"/>
<circle cx="325.5" cy="147.5" r="14.4" fill="url(#pg)" filter="url(#wd14)"/>
<circle cx="325.5" cy="147.5" r="14.0" fill="none" stroke="#6c2c90" stroke-width="1.6" opacity="0.49" filter="url(#b05)"/>
<circle cx="357.8" cy="147.5" r="14.6" fill="#f9f6fb" stroke="#bfaccb" stroke-width="0.7"/>
<circle cx="357.8" cy="147.5" r="14.299999999999999" fill="#cda6dc" opacity="0.52"/>
<circle cx="357.8" cy="147.5" r="14.4" fill="url(#pg)" filter="url(#wd14)"/>
<circle cx="357.8" cy="147.5" r="14.0" fill="none" stroke="#6c2c90" stroke-width="1.6" opacity="0.49" filter="url(#b05)"/>
<circle cx="389.6" cy="147.5" r="14.6" fill="#f9f6fb" stroke="#bfaccb" stroke-width="0.7"/>
<circle cx="389.6" cy="147.5" r="14.299999999999999" fill="#cda6dc" opacity="0.52"/>
<circle cx="389.6" cy="147.5" r="14.4" fill="url(#pg)" filter="url(#wd14)"/>
<circle cx="389.6" cy="147.5" r="14.0" fill="none" stroke="#6c2c90" stroke-width="1.6" opacity="0.49" filter="url(#b05)"/>
<circle cx="421" cy="147.5" r="14.6" fill="#f9f6fb" stroke="#bfaccb" stroke-width="0.7"/>
<circle cx="421" cy="147.5" r="14.299999999999999" fill="#b48ad0" opacity="0.68"/>
<circle cx="421" cy="147.5" r="14.4" fill="url(#pgd)" filter="url(#wd18)"/>
<circle cx="421" cy="147.5" r="14.0" fill="none" stroke="#6c2c90" stroke-width="1.6" opacity="0.63" filter="url(#b05)"/>
<circle cx="453" cy="147.5" r="14.6" fill="#f9f6fb" stroke="#bfaccb" stroke-width="0.7"/>
<circle cx="453" cy="147.5" r="14.299999999999999" fill="#cda6dc" opacity="0.56"/>
<circle cx="453" cy="147.5" r="14.4" fill="url(#pg)" filter="url(#wd15)"/>
<circle cx="453" cy="147.5" r="14.0" fill="none" stroke="#6c2c90" stroke-width="1.6" opacity="0.52" filter="url(#b05)"/>
<circle cx="485.5" cy="147.5" r="14.6" fill="#f9f6fb" stroke="#bfaccb" stroke-width="0.7"/>
<path d="M473.5 149.1h0.6v0.6h-0.6zM480.6 136.0h0.8v0.8h-0.8zM475.6 145.9h1.0v1.0h-1.0zM489.1 159.5h0.7v0.7h-0.7zM497.3 153.7h0.7v0.7h-0.7zM481.5 139.4h0.6v0.6h-0.6zM486.5 139.9h0.7v0.7h-0.7zM490.2 145.5h1.0v1.0h-1.0z" fill="#7e42a0" opacity="0.6" filter="url(#b05)"/>
<circle cx="485.5" cy="147.5" r="14.0" fill="none" stroke="#9a78b0" stroke-width="0.9" opacity="0.04" filter="url(#b05)"/>
<text x="4.5" y="10.5" font-size="13" text-anchor="start" font-weight="bold" fill="#000" stroke="#000" stroke-width="0.18">A</text>
<text x="36" y="11" font-size="8.95" text-anchor="start" fill="#000" stroke="#000" stroke-width="0.18">Olaparib sensitivity</text>
<text x="21" y="28.6" font-size="7.85" text-anchor="start" font-weight="bold" fill="#000">Olaparib (μmol/L)</text>
<text x="102" y="30.3" font-size="8.2" text-anchor="middle" font-weight="bold" fill="#000">0</text>
<text x="132.6" y="30.3" font-size="8.2" text-anchor="middle" font-weight="bold" fill="#000">0.13</text>
<text x="165.7" y="30.3" font-size="8.2" text-anchor="middle" font-weight="bold" fill="#000">0.4</text>
<text x="196.7" y="30.3" font-size="8.2" text-anchor="middle" font-weight="bold" fill="#000">1.2</text>
<text x="39" y="53.3" font-size="8.4" text-anchor="start" font-weight="bold" fill="#000">UWB1.289</text>
<text x="39.4" y="82" font-size="8.4" text-anchor="start" font-weight="bold" fill="#000">UWB1.289</text>
<text x="39.4" y="90.8" font-size="8.4" text-anchor="start" font-weight="bold" fill="#000">SYR12</text>
<text x="38.4" y="121" font-size="8.4" text-anchor="start" font-weight="bold" fill="#000">UWB1.289</text>
<text x="38.4" y="130.3" font-size="8.4" text-anchor="start" font-weight="bold" fill="#000">SYR14</text>
<text x="39.6" y="154" font-size="8.4" text-anchor="start" font-weight="bold" fill="#000">UWB1.289</text>
<text x="35.4" y="164" font-size="8.4" text-anchor="start" font-weight="bold" fill="#000">+BRCA1</text>
<text x="232.7" y="10.5" font-size="13" text-anchor="start" font-weight="bold" fill="#000" stroke="#000" stroke-width="0.18">B</text>
<text x="257.4" y="11" font-size="9.05" text-anchor="start" fill="#000" stroke="#000" stroke-width="0.18">Prexasertib sensitivity</text>
<text x="232.9" y="28.3" font-size="7.85" text-anchor="start" font-weight="bold" fill="#000">Prexasertib (nmol/L)</text>
<text x="326.3" y="30" font-size="8.2" text-anchor="middle" font-weight="bold" fill="#000">0</text>
<text x="356.8" y="30" font-size="8.2" text-anchor="middle" font-weight="bold" fill="#000">0.3</text>
<text x="389" y="30" font-size="8.2" text-anchor="middle" font-weight="bold" fill="#000">0.6</text>
<text x="420.3" y="30" font-size="8.2" text-anchor="middle" font-weight="bold" fill="#000">1.2</text>
<text x="451.8" y="30" font-size="8.2" text-anchor="middle" font-weight="bold" fill="#000">2.4</text>
<text x="485" y="30" font-size="8.2" text-anchor="middle" font-weight="bold" fill="#000">4.8</text>
<text x="263.3" y="52.3" font-size="8.4" text-anchor="start" font-weight="bold" fill="#000">UWB1.289</text>
<text x="263.8" y="81.8" font-size="8.4" text-anchor="start" font-weight="bold" fill="#000">UWB1.289</text>
<text x="263.8" y="90.5" font-size="8.4" text-anchor="start" font-weight="bold" fill="#000">SYR12</text>
<text x="262.6" y="120.2" font-size="8.4" text-anchor="start" font-weight="bold" fill="#000">UWB1.289</text>
<text x="262.6" y="129.6" font-size="8.4" text-anchor="start" font-weight="bold" fill="#000">SYR14</text>
<text x="263.8" y="153.2" font-size="8.4" text-anchor="start" font-weight="bold" fill="#000">UWB1.289</text>
<text x="259.6" y="163.4" font-size="8.4" text-anchor="start" font-weight="bold" fill="#000">+BRCA1</text>
<path d="M102.7 199.1V196.6M101.1 196.6h3.2M101.1 199.1h3.2" stroke="#7ac143" stroke-width="0.6" fill="none"/>
<path d="M123.1 204.2V197.9M121.5 197.9h3.2M121.5 204.2h3.2" stroke="#7ac143" stroke-width="0.6" fill="none"/>
<path d="M183.4 209.9V201.0M181.8 201.0h3.2M181.8 209.9h3.2" stroke="#7ac143" stroke-width="0.6" fill="none"/>
<path d="M92.9 193.4 L102.7 197.9 L123.1 201.0 L183.4 205.5" stroke="#7ac143" stroke-width="2.5" fill="none" stroke-linejoin="round"/>
<path d="M92.9 195.5l2.04 -3.57h-4.08z" fill="#7ac143"/>
<path d="M102.7 199.9l2.04 -3.57h-4.08z" fill="#7ac143"/>
<path d="M123.1 203.1l2.04 -3.57h-4.08z" fill="#7ac143"/>
<path d="M183.4 207.5l2.04 -3.57h-4.08z" fill="#7ac143"/>
<path d="M102.7 201.0V198.5M101.1 198.5h3.2M101.1 201.0h3.2" stroke="#0a0a0a" stroke-width="0.6" fill="none"/>
<path d="M123.1 209.3V204.2M121.5 204.2h3.2M121.5 209.3h3.2" stroke="#0a0a0a" stroke-width="0.6" fill="none"/>
<path d="M183.4 237.1V229.5M181.8 229.5h3.2M181.8 237.1h3.2" stroke="#0a0a0a" stroke-width="0.6" fill="none"/>
<path d="M92.9 193.4 L102.7 199.8 L123.1 206.7 L183.4 233.3" stroke="#0a0a0a" stroke-width="2.5" fill="none" stroke-linejoin="round"/>
<path d="M92.9 191.4l2.04 3.57h-4.08z" fill="#0a0a0a"/>
<path d="M102.7 197.7l2.04 3.57h-4.08z" fill="#0a0a0a"/>
<path d="M123.1 204.7l2.04 3.57h-4.08z" fill="#0a0a0a"/>
<path d="M183.4 231.3l2.04 3.57h-4.08z" fill="#0a0a0a"/>
<path d="M102.7 197.2V193.4M101.1 193.4h3.2M101.1 197.2h3.2" stroke="#e8232f" stroke-width="0.6" fill="none"/>
<path d="M123.1 220.6V199.1M121.5 199.1h3.2M121.5 220.6h3.2" stroke="#e8232f" stroke-width="0.6" fill="none"/>
<path d="M183.4 230.8V205.5M181.8 205.5h3.2M181.8 230.8h3.2" stroke="#e8232f" stroke-width="0.6" fill="none"/>
<path d="M92.9 193.4 L102.7 195.3 L123.1 209.9 L183.4 218.1" stroke="#e8232f" stroke-width="2.5" fill="none" stroke-linejoin="round"/>
<rect x="91.2" y="191.8" width="3.4" height="3.4" fill="#e8232f"/>
<rect x="101.0" y="193.6" width="3.4" height="3.4" fill="#e8232f"/>
<rect x="121.4" y="208.2" width="3.4" height="3.4" fill="#e8232f"/>
<rect x="181.7" y="216.4" width="3.4" height="3.4" fill="#e8232f"/>
<path d="M102.7 254.2V239.0M101.1 239.0h3.2M101.1 254.2h3.2" stroke="#2a48ad" stroke-width="0.6" fill="none"/>
<path d="M123.1 255.4V252.9M121.5 252.9h3.2M121.5 255.4h3.2" stroke="#2a48ad" stroke-width="0.6" fill="none"/>
<path d="M92.9 193.4 L102.7 246.6 L123.1 254.2 L183.4 256.1" stroke="#2a48ad" stroke-width="2.5" fill="none" stroke-linejoin="round"/>
<circle cx="92.9" cy="193.4" r="1.7" fill="#2a48ad"/>
<circle cx="102.7" cy="246.6" r="1.7" fill="#2a48ad"/>
<circle cx="123.1" cy="254.2" r="1.7" fill="#2a48ad"/>
<circle cx="183.4" cy="256.1" r="1.7" fill="#2a48ad"/>
<path d="M92.9 180.5V256.7H183.7" stroke="#000" stroke-width="1.2" fill="none"/>
<path d="M90.60000000000001 256.7H92.9" stroke="#000" stroke-width="0.9"/>
<text x="89.9" y="258.9" font-size="6.0" text-anchor="end" font-weight="bold" fill="#000">0</text>
<path d="M90.60000000000001 244.0H92.9" stroke="#000" stroke-width="0.9"/>
<text x="89.9" y="246.2" font-size="6.0" text-anchor="end" font-weight="bold" fill="#000">20</text>
<path d="M90.60000000000001 231.4H92.9" stroke="#000" stroke-width="0.9"/>
<text x="89.9" y="233.6" font-size="6.0" text-anchor="end" font-weight="bold" fill="#000">40</text>
<path d="M90.60000000000001 218.8H92.9" stroke="#000" stroke-width="0.9"/>
<text x="89.9" y="220.9" font-size="6.0" text-anchor="end" font-weight="bold" fill="#000">60</text>
<path d="M90.60000000000001 206.1H92.9" stroke="#000" stroke-width="0.9"/>
<text x="89.9" y="208.3" font-size="6.0" text-anchor="end" font-weight="bold" fill="#000">80</text>
<path d="M90.60000000000001 193.4H92.9" stroke="#000" stroke-width="0.9"/>
<text x="89.9" y="195.6" font-size="6.0" text-anchor="end" font-weight="bold" fill="#000">100</text>
<path d="M90.60000000000001 180.8H92.9" stroke="#000" stroke-width="0.9"/>
<text x="89.9" y="183.0" font-size="6.0" text-anchor="end" font-weight="bold" fill="#000">120</text>
<path d="M92.9 256.7v2.5" stroke="#000" stroke-width="0.8"/>
<text x="92.9" y="265.7" font-size="6.1" text-anchor="middle" font-weight="bold" fill="#000">0.0</text>
<path d="M108.0 256.7v2.5" stroke="#000" stroke-width="0.8"/>
<text x="108.0" y="265.7" font-size="6.1" text-anchor="middle" font-weight="bold" fill="#000">0.2</text>
<path d="M123.1 256.7v2.5" stroke="#000" stroke-width="0.8"/>
<text x="123.1" y="265.7" font-size="6.1" text-anchor="middle" font-weight="bold" fill="#000">0.4</text>
<path d="M138.1 256.7v2.5" stroke="#000" stroke-width="0.8"/>
<text x="138.1" y="265.7" font-size="6.1" text-anchor="middle" font-weight="bold" fill="#000">0.6</text>
<path d="M153.2 256.7v2.5" stroke="#000" stroke-width="0.8"/>
<text x="153.2" y="265.7" font-size="6.1" text-anchor="middle" font-weight="bold" fill="#000">0.8</text>
<path d="M168.3 256.7v2.5" stroke="#000" stroke-width="0.8"/>
<text x="168.3" y="265.7" font-size="6.1" text-anchor="middle" font-weight="bold" fill="#000">1.0</text>
<path d="M183.4 256.7v2.5" stroke="#000" stroke-width="0.8"/>
<text x="183.4" y="265.7" font-size="6.1" text-anchor="middle" font-weight="bold" fill="#000">1.2</text>
<text x="77" y="217.6" font-size="9.1" text-anchor="middle" fill="#000" stroke="#000" stroke-width="0.3" transform="rotate(-90 77 217.6)">% Survival</text>
<text x="138.3" y="276.2" font-size="7.85" text-anchor="middle" font-weight="bold" fill="#000">Olaparib (μmol/L)</text>
<path d="M191.7 186.2h8" stroke="#2a48ad" stroke-width="2.4"/>
<circle cx="195.7" cy="186.2" r="1.7" fill="#2a48ad"/>
<text x="202.5" y="188.6" font-size="6.5" text-anchor="start" font-weight="bold" fill="#000">UWB1.289</text>
<path d="M191.7 196h8" stroke="#e8232f" stroke-width="2.4"/>
<rect x="194.0" y="194.3" width="3.4" height="3.4" fill="#e8232f"/>
<text x="202.5" y="198.4" font-size="6.5" text-anchor="start" font-weight="bold" fill="#000">UWB1.289 SYR12</text>
<path d="M191.7 206.1h8" stroke="#0a0a0a" stroke-width="2.4"/>
<path d="M195.7 204.1l2.04 3.57h-4.08z" fill="#0a0a0a"/>
<text x="202.5" y="208.5" font-size="6.5" text-anchor="start" font-weight="bold" fill="#000">UWB1.289 SYR14</text>
<path d="M191.7 216h8" stroke="#7ac143" stroke-width="2.4"/>
<path d="M195.7 218.0l2.04 -3.57h-4.08z" fill="#7ac143"/>
<text x="202.5" y="218.4" font-size="6.5" text-anchor="start" font-weight="bold" fill="#000">UWB1.289 + BRCA1</text>
<path d="M323.8 196.0V193.5M322.2 193.5h3.2M322.2 196.0h3.2" stroke="#0a0a0a" stroke-width="0.6" fill="none"/>
<path d="M329.6 196.0V193.5M327.9 193.5h3.2M327.9 196.0h3.2" stroke="#0a0a0a" stroke-width="0.6" fill="none"/>
<path d="M341.1 198.4V194.7M339.5 194.7h3.2M339.5 198.4h3.2" stroke="#0a0a0a" stroke-width="0.6" fill="none"/>
<path d="M364.2 207.5V201.4M362.6 201.4h3.2M362.6 207.5h3.2" stroke="#0a0a0a" stroke-width="0.6" fill="none"/>
<path d="M318.0 195.4 L323.8 194.7 L329.6 194.7 L341.1 196.6 L364.2 204.5 L410.4 256.1" stroke="#0a0a0a" stroke-width="2.5" fill="none" stroke-linejoin="round"/>
<path d="M318.0 193.3l2.04 3.57h-4.08z" fill="#0a0a0a"/>
<path d="M323.8 192.7l2.04 3.57h-4.08z" fill="#0a0a0a"/>
<path d="M329.6 192.7l2.04 3.57h-4.08z" fill="#0a0a0a"/>
<path d="M341.1 194.5l2.04 3.57h-4.08z" fill="#0a0a0a"/>
<path d="M364.2 202.4l2.04 3.57h-4.08z" fill="#0a0a0a"/>
<path d="M410.4 254.1l2.04 3.57h-4.08z" fill="#0a0a0a"/>
<path d="M323.8 195.4V192.9M322.2 192.9h3.2M322.2 195.4h3.2" stroke="#7ac143" stroke-width="0.6" fill="none"/>
<path d="M329.6 194.7V192.3M327.9 192.3h3.2M327.9 194.7h3.2" stroke="#7ac143" stroke-width="0.6" fill="none"/>
<path d="M341.1 195.4V191.7M339.5 191.7h3.2M339.5 195.4h3.2" stroke="#7ac143" stroke-width="0.6" fill="none"/>
<path d="M364.2 201.4V195.4M362.6 195.4h3.2M362.6 201.4h3.2" stroke="#7ac143" stroke-width="0.6" fill="none"/>
<path d="M318.0 195.4 L323.8 194.1 L329.6 193.5 L341.1 193.5 L364.2 198.4 L410.4 254.9" stroke="#7ac143" stroke-width="2.5" fill="none" stroke-linejoin="round"/>
<path d="M318.0 197.4l2.04 -3.57h-4.08z" fill="#7ac143"/>
<path d="M323.8 196.2l2.04 -3.57h-4.08z" fill="#7ac143"/>
<path d="M329.6 195.6l2.04 -3.57h-4.08z" fill="#7ac143"/>
<path d="M341.1 195.6l2.04 -3.57h-4.08z" fill="#7ac143"/>
<path d="M364.2 200.4l2.04 -3.57h-4.08z" fill="#7ac143"/>
<path d="M410.4 256.9l2.04 -3.57h-4.08z" fill="#7ac143"/>
<path d="M323.8 196.6V194.1M322.2 194.1h3.2M322.2 196.6h3.2" stroke="#e8232f" stroke-width="0.6" fill="none"/>
<path d="M329.6 194.7V191.1M327.9 191.1h3.2M327.9 194.7h3.2" stroke="#e8232f" stroke-width="0.6" fill="none"/>
<path d="M341.1 194.1V189.3M339.5 189.3h3.2M339.5 194.1h3.2" stroke="#e8232f" stroke-width="0.6" fill="none"/>
<path d="M364.2 194.7V189.9M362.6 189.9h3.2M362.6 194.7h3.2" stroke="#e8232f" stroke-width="0.6" fill="none"/>
<path d="M410.4 249.4V245.8M408.8 245.8h3.2M408.8 249.4h3.2" stroke="#e8232f" stroke-width="0.6" fill="none"/>
<path d="M318.0 195.4 L323.8 195.4 L329.6 192.9 L341.1 191.7 L364.2 192.3 L410.4 247.6" stroke="#e8232f" stroke-width="2.5" fill="none" stroke-linejoin="round"/>
<rect x="316.3" y="193.7" width="3.4" height="3.4" fill="#e8232f"/>
<rect x="322.1" y="193.7" width="3.4" height="3.4" fill="#e8232f"/>
<rect x="327.9" y="191.2" width="3.4" height="3.4" fill="#e8232f"/>
<rect x="339.4" y="190.0" width="3.4" height="3.4" fill="#e8232f"/>
<rect x="362.5" y="190.6" width="3.4" height="3.4" fill="#e8232f"/>
<rect x="408.7" y="245.9" width="3.4" height="3.4" fill="#e8232f"/>
<path d="M323.8 194.1V190.5M322.2 190.5h3.2M322.2 194.1h3.2" stroke="#2a48ad" stroke-width="0.6" fill="none"/>
<path d="M329.6 192.9V184.4M327.9 184.4h3.2M327.9 192.9h3.2" stroke="#2a48ad" stroke-width="0.6" fill="none"/>
<path d="M341.1 192.9V183.2M339.5 183.2h3.2M339.5 192.9h3.2" stroke="#2a48ad" stroke-width="0.6" fill="none"/>
<path d="M364.2 193.5V187.5M362.6 187.5h3.2M362.6 193.5h3.2" stroke="#2a48ad" stroke-width="0.6" fill="none"/>
<path d="M410.4 254.3V251.8M408.8 251.8h3.2M408.8 254.3h3.2" stroke="#2a48ad" stroke-width="0.6" fill="none"/>
<path d="M318.0 195.4 L323.8 192.3 L329.6 188.7 L341.1 188.1 L364.2 190.5 L410.4 253.1" stroke="#2a48ad" stroke-width="2.5" fill="none" stroke-linejoin="round"/>
<circle cx="318.0" cy="195.4" r="1.7" fill="#2a48ad"/>
<circle cx="323.8" cy="192.3" r="1.7" fill="#2a48ad"/>
<circle cx="329.6" cy="188.7" r="1.7" fill="#2a48ad"/>
<circle cx="341.1" cy="188.1" r="1.7" fill="#2a48ad"/>
<circle cx="364.2" cy="190.5" r="1.7" fill="#2a48ad"/>
<circle cx="410.4" cy="253.1" r="1.7" fill="#2a48ad"/>
<path d="M318 182.9V256.1H414.6" stroke="#000" stroke-width="1.2" fill="none"/>
<path d="M315.7 256.1H318" stroke="#000" stroke-width="0.9"/>
<text x="315" y="258.3" font-size="6.0" text-anchor="end" font-weight="bold" fill="#000">0</text>
<path d="M315.7 244.0H318" stroke="#000" stroke-width="0.9"/>
<text x="315" y="246.2" font-size="6.0" text-anchor="end" font-weight="bold" fill="#000">20</text>
<path d="M315.7 231.8H318" stroke="#000" stroke-width="0.9"/>
<text x="315" y="234.0" font-size="6.0" text-anchor="end" font-weight="bold" fill="#000">40</text>
<path d="M315.7 219.7H318" stroke="#000" stroke-width="0.9"/>
<text x="315" y="221.9" font-size="6.0" text-anchor="end" font-weight="bold" fill="#000">60</text>
<path d="M315.7 207.5H318" stroke="#000" stroke-width="0.9"/>
<text x="315" y="209.7" font-size="6.0" text-anchor="end" font-weight="bold" fill="#000">80</text>
<path d="M315.7 195.4H318" stroke="#000" stroke-width="0.9"/>
<text x="315" y="197.6" font-size="6.0" text-anchor="end" font-weight="bold" fill="#000">100</text>
<path d="M315.7 183.2H318" stroke="#000" stroke-width="0.9"/>
<text x="315" y="185.4" font-size="6.0" text-anchor="end" font-weight="bold" fill="#000">120</text>
<path d="M318.0 256.1v2.5" stroke="#000" stroke-width="0.8"/>
<text x="318.0" y="265.1" font-size="6.6" text-anchor="middle" font-weight="bold" fill="#000">0</text>
<path d="M337.2 256.1v2.5" stroke="#000" stroke-width="0.8"/>
<text x="337.2" y="265.1" font-size="6.6" text-anchor="middle" font-weight="bold" fill="#000">1</text>
<path d="M356.5 256.1v2.5" stroke="#000" stroke-width="0.8"/>
<text x="356.5" y="265.1" font-size="6.6" text-anchor="middle" font-weight="bold" fill="#000">2</text>
<path d="M375.8 256.1v2.5" stroke="#000" stroke-width="0.8"/>
<text x="375.8" y="265.1" font-size="6.6" text-anchor="middle" font-weight="bold" fill="#000">3</text>
<path d="M395.0 256.1v2.5" stroke="#000" stroke-width="0.8"/>
<text x="395.0" y="265.1" font-size="6.6" text-anchor="middle" font-weight="bold" fill="#000">4</text>
<path d="M414.2 256.1v2.5" stroke="#000" stroke-width="0.8"/>
<text x="414.2" y="265.1" font-size="6.6" text-anchor="middle" font-weight="bold" fill="#000">5</text>
<text x="303" y="219.4" font-size="8.5" text-anchor="middle" fill="#000" stroke="#000" stroke-width="0.3" transform="rotate(-90 303 219.4)">% Survival</text>
<text x="364.4" y="276" font-size="8.3" text-anchor="middle" fill="#000" stroke="#000" stroke-width="0.25">Prexasertib (nmol/L)</text>
<path d="M408.8 186.2h8" stroke="#2a48ad" stroke-width="2.4"/>
<circle cx="412.8" cy="186.2" r="1.7" fill="#2a48ad"/>
<text x="419.5" y="188.6" font-size="6.5" text-anchor="start" font-weight="bold" fill="#000">UWB1.289</text>
<path d="M408.8 196h8" stroke="#e8232f" stroke-width="2.4"/>
<rect x="411.1" y="194.3" width="3.4" height="3.4" fill="#e8232f"/>
<text x="419.5" y="198.4" font-size="6.5" text-anchor="start" font-weight="bold" fill="#000">UWB1.289 SYR12</text>
<path d="M408.8 206.1h8" stroke="#0a0a0a" stroke-width="2.4"/>
<path d="M412.8 204.1l2.04 3.57h-4.08z" fill="#0a0a0a"/>
<text x="419.5" y="208.5" font-size="6.5" text-anchor="start" font-weight="bold" fill="#000">UWB1.289 SYR14</text>
<path d="M408.8 216h8" stroke="#7ac143" stroke-width="2.4"/>
<path d="M412.8 218.0l2.04 -3.57h-4.08z" fill="#7ac143"/>
<text x="419.5" y="218.4" font-size="6.5" text-anchor="start" font-weight="bold" fill="#000">UWB1.289 + BRCA1</text>
<text x="3" y="298.5" font-size="13" text-anchor="start" font-weight="bold" fill="#000" stroke="#000" stroke-width="0.18">C</text>
<text x="52" y="299.3" font-size="9.1" text-anchor="start" fill="#000" stroke="#000" stroke-width="0.18">RAD51 foci</text>
<text x="52.2" y="323.4" font-size="6.5" text-anchor="start" font-weight="bold" fill="#000">UWB1.289</text>
<text x="90.4" y="315" font-size="6.5" text-anchor="start" font-weight="bold" fill="#000">UWB1.289</text>
<text x="90.4" y="323.4" font-size="6.5" text-anchor="start" font-weight="bold" fill="#000">SYR12</text>
<text x="127.7" y="315" font-size="6.5" text-anchor="start" font-weight="bold" fill="#000">UWB1.289</text>
<text x="128.3" y="323.4" font-size="6.5" text-anchor="start" font-weight="bold" fill="#000">SYR14</text>
<text x="168" y="315" font-size="6.5" text-anchor="start" font-weight="bold" fill="#000">UWB1.289</text>
<text x="163.8" y="323.4" font-size="6.5" text-anchor="start" font-weight="bold" fill="#000">+BRCA1</text>
<text x="47.5" y="347" font-size="8.8" text-anchor="end" fill="#000" stroke="#000" stroke-width="0.18">DMSO</text>
<text x="47.5" y="384" font-size="8.8" text-anchor="end" fill="#000" stroke="#000" stroke-width="0.18">Olaparib</text>
<text x="47.5" y="422.5" font-size="8.8" text-anchor="end" fill="#000" stroke="#000" stroke-width="0.18">Prexasertib</text>
<text x="47.5" y="456" font-size="8.8" text-anchor="end" fill="#000" stroke="#000" stroke-width="0.18">Prexasertib/</text>
<text x="43" y="469" font-size="8.8" text-anchor="end" fill="#000" stroke="#000" stroke-width="0.18">olaparib</text>
<clipPath id="cl00"><rect x="49.8" y="325.3" width="35.0" height="34.8"/></clipPath>
<rect x="49.8" y="325.3" width="35.0" height="34.8" fill="#070a38"/>
<g clip-path="url(#cl00)">
<ellipse cx="68.5" cy="343" rx="16.5" ry="16.5" transform="rotate(0 68.5 343)" fill="#304bcf" filter="url(#b1)"/>
</g>
<clipPath id="cl01"><rect x="88.3" y="325.3" width="34.5" height="34.8"/></clipPath>
<rect x="88.3" y="325.3" width="34.5" height="34.8" fill="#0b2a26"/>
<g clip-path="url(#cl01)">
<ellipse cx="105.2" cy="342.8" rx="15" ry="10.8" transform="rotate(-52 105.2 342.8)" fill="#2a52c8" filter="url(#b1)"/>
<circle cx="103.0" cy="337.4" r="1.3" fill="#48b8e8" opacity="0.85" filter="url(#b05)"/>
<circle cx="113.0" cy="340.0" r="1.3" fill="#48b8e8" opacity="0.85" filter="url(#b05)"/>
<circle cx="99.0" cy="345.0" r="1.3" fill="#48b8e8" opacity="0.85" filter="url(#b05)"/>
<circle cx="111.4" cy="347.4" r="1.3" fill="#48b8e8" opacity="0.85" filter="url(#b05)"/>
<circle cx="106.0" cy="333.5" r="1.3" fill="#48b8e8" opacity="0.85" filter="url(#b05)"/>
</g>
<clipPath id="cl02"><rect x="127" y="325.3" width="34.7" height="34.8"/></clipPath>
<rect x="127" y="325.3" width="34.7" height="34.8" fill="#0a2828"/>
<g clip-path="url(#cl02)">
<ellipse cx="144" cy="343.5" rx="15.5" ry="12" transform="rotate(-15 144 343.5)" fill="#2a4ec8" filter="url(#b1)"/>
<circle cx="141.7" cy="349.7" r="2.2" fill="#38b8e8" opacity="0.8" filter="url(#b1)"/>
</g>
<clipPath id="cl03"><rect x="165.2" y="325.3" width="35.4" height="34.8"/></clipPath>
<rect x="165.2" y="325.3" width="35.4" height="34.8" fill="#121c88"/>
<g clip-path="url(#cl03)">
<ellipse cx="183" cy="343" rx="19" ry="18" fill="#1a28a2" filter="url(#b2)"/>
<ellipse cx="183" cy="343" rx="15" ry="14" transform="rotate(0 183 343)" fill="#2438b8" filter="url(#b1)"/>
</g>
<clipPath id="cl10"><rect x="49.8" y="364" width="35.0" height="34.8"/></clipPath>
<rect x="49.8" y="364" width="35.0" height="34.8" fill="#05072a"/>
<g clip-path="url(#cl10)">
<ellipse cx="68.5" cy="382" rx="18" ry="12" transform="rotate(-42 68.5 382)" fill="#2c48cc" filter="url(#b1)"/>
<circle cx="70.0" cy="371.0" r="0.8" fill="#80d8f0" opacity="0.9" filter="url(#b05)"/>
<circle cx="71.4" cy="376.6" r="0.8" fill="#80d8f0" opacity="0.9" filter="url(#b05)"/>
<circle cx="66.0" cy="379.0" r="0.8" fill="#80d8f0" opacity="0.9" filter="url(#b05)"/>
</g>
<clipPath id="cl11"><rect x="88.3" y="364" width="34.5" height="34.8"/></clipPath>
<rect x="88.3" y="364" width="34.5" height="34.8" fill="#04061c"/>
<g clip-path="url(#cl11)">
<ellipse cx="107.5" cy="381.5" rx="13.5" ry="13.8" transform="rotate(0 107.5 381.5)" fill="#2a5ee0" filter="url(#b1)"/>
<ellipse cx="107.5" cy="381.5" rx="11.5" ry="11.8" transform="rotate(0 107.5 381.5)" fill="#2f7ae8" opacity="0.5" filter="url(#b1)"/>
<circle cx="110.1" cy="376.4" r="1.2" fill="#6fe4f0" opacity="0.85" filter="url(#b05)"/>
<circle cx="99.9" cy="381.8" r="1.0" fill="#6fe4f0" opacity="0.85" filter="url(#b05)"/>
<circle cx="110.1" cy="386.4" r="0.9" fill="#6fe4f0" opacity="0.85" filter="url(#b05)"/>
<circle cx="108.7" cy="391.4" r="0.8" fill="#6fe4f0" opacity="0.85" filter="url(#b05)"/>
<circle cx="102.7" cy="385.9" r="0.7" fill="#6fe4f0" opacity="0.85" filter="url(#b05)"/>
<circle cx="105.1" cy="370.2" r="0.8" fill="#6fe4f0" opacity="0.85" filter="url(#b05)"/>
<circle cx="109.8" cy="375.0" r="1.1" fill="#6fe4f0" opacity="0.85" filter="url(#b05)"/>
<circle cx="108.1" cy="390.7" r="0.8" fill="#6fe4f0" opacity="0.85" filter="url(#b05)"/>
<circle cx="114.7" cy="373.8" r="0.7" fill="#6fe4f0" opacity="0.85" filter="url(#b05)"/>
<circle cx="114.1" cy="386.4" r="0.7" fill="#6fe4f0" opacity="0.85" filter="url(#b05)"/>
<circle cx="108.4" cy="393.3" r="1.2" fill="#6fe4f0" opacity="0.85" filter="url(#b05)"/>
<circle cx="109.9" cy="381.8" r="1.0" fill="#6fe4f0" opacity="0.85" filter="url(#b05)"/>
<circle cx="118.1" cy="377.8" r="1.0" fill="#6fe4f0" opacity="0.85" filter="url(#b05)"/>
<circle cx="107.0" cy="373.0" r="0.9" fill="#6fe4f0" opacity="0.85" filter="url(#b05)"/>
<circle cx="110.1" cy="378.1" r="1.0" fill="#6fe4f0" opacity="0.85" filter="url(#b05)"/>
<circle cx="106.6" cy="376.5" r="1.1" fill="#6fe4f0" opacity="0.85" filter="url(#b05)"/>
<circle cx="113.2" cy="391.9" r="1.1" fill="#6fe4f0" opacity="0.85" filter="url(#b05)"/>
<circle cx="98.7" cy="384.1" r="1.2" fill="#6fe4f0" opacity="0.85" filter="url(#b05)"/>
<circle cx="103.8" cy="385.7" r="1.0" fill="#6fe4f0" opacity="0.85" filter="url(#b05)"/>
<circle cx="111.6" cy="378.6" r="1.1" fill="#6fe4f0" opacity="0.85" filter="url(#b05)"/>
<circle cx="99.9" cy="388.0" r="0.9" fill="#6fe4f0" opacity="0.85" filter="url(#b05)"/>
<circle cx="116.1" cy="378.7" r="1.2" fill="#6fe4f0" opacity="0.85" filter="url(#b05)"/>
<circle cx="111.9" cy="380.4" r="1.2" fill="#6fe4f0" opacity="0.85" filter="url(#b05)"/>
<circle cx="107.8" cy="376.6" r="0.9" fill="#6fe4f0" opacity="0.85" filter="url(#b05)"/>
<circle cx="107.1" cy="384.6" r="0.6" fill="#6fe4f0" opacity="0.85" filter="url(#b05)"/>
<circle cx="100.3" cy="390.1" r="0.6" fill="#6fe4f0" opacity="0.85" filter="url(#b05)"/>
<circle cx="98.0" cy="375.7" r="0.8" fill="#6fe4f0" opacity="0.85" filter="url(#b05)"/>
<circle cx="105.7" cy="372.3" r="1.1" fill="#6fe4f0" opacity="0.85" filter="url(#b05)"/>
<circle cx="95.8" cy="382.9" r="0.8" fill="#6fe4f0" opacity="0.85" filter="url(#b05)"/>
<circle cx="108.5" cy="385.9" r="0.8" fill="#6fe4f0" opacity="0.85" filter="url(#b05)"/>
<circle cx="116.0" cy="389.5" r="0.7" fill="#6fe4f0" opacity="0.85" filter="url(#b05)"/>
<circle cx="113.1" cy="372.5" r="0.9" fill="#6fe4f0" opacity="0.85" filter="url(#b05)"/>
<circle cx="112.8" cy="383.3" r="1.2" fill="#6fe4f0" opacity="0.85" filter="url(#b05)"/>
<circle cx="98.5" cy="387.0" r="0.7" fill="#6fe4f0" opacity="0.85" filter="url(#b05)"/>
<circle cx="108.3" cy="384.5" r="3.6" fill="#4fe070" opacity="0.9" filter="url(#b1)"/>
<circle cx="94.8" cy="380.0" r="1.2" fill="#40e060" opacity="0.9" filter="url(#b05)"/>
</g>
<clipPath id="cl12"><rect x="127" y="364" width="34.7" height="34.8"/></clipPath>
<rect x="127" y="364" width="34.7" height="34.8" fill="#04061c"/>
<g clip-path="url(#cl12)">
<ellipse cx="144.8" cy="381.5" rx="15" ry="11.5" transform="rotate(-60 144.8 381.5)" fill="#2a5ee0" filter="url(#b1)"/>
<ellipse cx="144.8" cy="381.5" rx="13" ry="9.5" transform="rotate(-60 144.8 381.5)" fill="#2f7ae8" opacity="0.5" filter="url(#b1)"/>
<circle cx="140.3" cy="391.3" r="1.0" fill="#6fe4f0" opacity="0.85" filter="url(#b05)"/>
<circle cx="134.9" cy="380.3" r="1.1" fill="#6fe4f0" opacity="0.85" filter="url(#b05)"/>
<circle cx="150.1" cy="380.7" r="0.9" fill="#6fe4f0" opacity="0.85" filter="url(#b05)"/>
<circle cx="145.3" cy="393.3" r="1.0" fill="#6fe4f0" opacity="0.85" filter="url(#b05)"/>
<circle cx="141.9" cy="388.9" r="0.7" fill="#6fe4f0" opacity="0.85" filter="url(#b05)"/>
<circle cx="134.7" cy="387.4" r="0.7" fill="#6fe4f0" opacity="0.85" filter="url(#b05)"/>
<circle cx="142.6" cy="388.9" r="1.0" fill="#6fe4f0" opacity="0.85" filter="url(#b05)"/>
<circle cx="147.3" cy="383.1" r="1.0" fill="#6fe4f0" opacity="0.85" filter="url(#b05)"/>
<circle cx="149.6" cy="388.6" r="1.1" fill="#6fe4f0" opacity="0.85" filter="url(#b05)"/>
<circle cx="135.2" cy="388.6" r="1.1" fill="#6fe4f0" opacity="0.85" filter="url(#b05)"/>
<circle cx="149.6" cy="377.1" r="1.0" fill="#6fe4f0" opacity="0.85" filter="url(#b05)"/>
<circle cx="144.0" cy="383.4" r="1.1" fill="#6fe4f0" opacity="0.85" filter="url(#b05)"/>
<circle cx="137.5" cy="383.3" r="0.9" fill="#6fe4f0" opacity="0.85" filter="url(#b05)"/>
<circle cx="152.9" cy="380.7" r="0.7" fill="#6fe4f0" opacity="0.85" filter="url(#b05)"/>
<circle cx="134.2" cy="383.0" r="0.7" fill="#6fe4f0" opacity="0.85" filter="url(#b05)"/>
<circle cx="151.0" cy="386.2" r="1.1" fill="#6fe4f0" opacity="0.85" filter="url(#b05)"/>
<circle cx="151.7" cy="380.8" r="1.0" fill="#6fe4f0" opacity="0.85" filter="url(#b05)"/>
<circle cx="148.0" cy="381.1" r="1.0" fill="#6fe4f0" opacity="0.85" filter="url(#b05)"/>
<circle cx="136.5" cy="385.1" r="0.9" fill="#6fe4f0" opacity="0.85" filter="url(#b05)"/>
<circle cx="152.2" cy="377.2" r="0.9" fill="#6fe4f0" opacity="0.85" filter="url(#b05)"/>
<circle cx="141.7" cy="386.1" r="0.6" fill="#6fe4f0" opacity="0.85" filter="url(#b05)"/>
<circle cx="138.6" cy="390.6" r="1.0" fill="#6fe4f0" opacity="0.85" filter="url(#b05)"/>
<circle cx="146.5" cy="373.8" r="0.8" fill="#6fe4f0" opacity="0.85" filter="url(#b05)"/>
<circle cx="148.0" cy="388.6" r="1.0" fill="#6fe4f0" opacity="0.85" filter="url(#b05)"/>
<circle cx="144.0" cy="377.7" r="0.9" fill="#6fe4f0" opacity="0.85" filter="url(#b05)"/>
<circle cx="137.8" cy="376.1" r="0.9" fill="#6fe4f0" opacity="0.85" filter="url(#b05)"/>
<circle cx="150.5" cy="376.8" r="1.0" fill="#6fe4f0" opacity="0.85" filter="url(#b05)"/>
<circle cx="141.2" cy="378.1" r="0.8" fill="#6fe4f0" opacity="0.85" filter="url(#b05)"/>
<circle cx="145.3" cy="384.5" r="1.2" fill="#6fe4f0" opacity="0.85" filter="url(#b05)"/>
<circle cx="146.9" cy="388.8" r="1.2" fill="#6fe4f0" opacity="0.85" filter="url(#b05)"/>
<circle cx="141.0" cy="372.0" r="2.4" fill="#2038b0" opacity="0.8" filter="url(#b1)"/>
<circle cx="140.5" cy="386.0" r="2.0" fill="#2440c0" opacity="0.7" filter="url(#b1)"/>
</g>
<clipPath id="cl13"><rect x="165.2" y="364" width="35.4" height="34.8"/></clipPath>
<rect x="165.2" y="364" width="35.4" height="34.8" fill="#04061c"/>
<g clip-path="url(#cl13)">
<ellipse cx="181.9" cy="381.2" rx="14.8" ry="13" transform="rotate(-10 181.9 381.2)" fill="#2860dc" filter="url(#b1)"/>
<ellipse cx="181.9" cy="381.2" rx="12.8" ry="11" transform="rotate(-10 181.9 381.2)" fill="#2f7ae8" opacity="0.5" filter="url(#b1)"/>
<circle cx="194.0" cy="381.1" r="1.0" fill="#6fe4f0" opacity="0.85" filter="url(#b05)"/>
<circle cx="191.6" cy="380.5" r="0.7" fill="#6fe4f0" opacity="0.85" filter="url(#b05)"/>
<circle cx="189.4" cy="372.6" r="0.8" fill="#6fe4f0" opacity="0.85" filter="url(#b05)"/>
<circle cx="173.7" cy="377.9" r="0.8" fill="#6fe4f0" opacity="0.85" filter="url(#b05)"/>
<circle cx="174.9" cy="385.4" r="0.9" fill="#6fe4f0" opacity="0.85" filter="url(#b05)"/>
<circle cx="191.9" cy="376.5" r="0.6" fill="#6fe4f0" opacity="0.85" filter="url(#b05)"/>
<circle cx="175.9" cy="391.4" r="1.1" fill="#6fe4f0" opacity="0.85" filter="url(#b05)"/>
<circle cx="172.8" cy="377.0" r="1.0" fill="#6fe4f0" opacity="0.85" filter="url(#b05)"/>
<circle cx="187.3" cy="386.7" r="0.8" fill="#6fe4f0" opacity="0.85" filter="url(#b05)"/>
<circle cx="187.3" cy="389.3" r="0.6" fill="#6fe4f0" opacity="0.85" filter="url(#b05)"/>
<circle cx="188.1" cy="389.0" r="1.1" fill="#6fe4f0" opacity="0.85" filter="url(#b05)"/>
<circle cx="179.8" cy="391.7" r="1.1" fill="#6fe4f0" opacity="0.85" filter="url(#b05)"/>
<circle cx="190.5" cy="388.8" r="0.7" fill="#6fe4f0" opacity="0.85" filter="url(#b05)"/>
<circle cx="178.0" cy="382.5" r="0.7" fill="#6fe4f0" opacity="0.85" filter="url(#b05)"/>
<circle cx="174.3" cy="373.4" r="0.7" fill="#6fe4f0" opacity="0.85" filter="url(#b05)"/>
<circle cx="178.6" cy="389.9" r="1.0" fill="#6fe4f0" opacity="0.85" filter="url(#b05)"/>
<circle cx="190.1" cy="387.2" r="0.7" fill="#6fe4f0" opacity="0.85" filter="url(#b05)"/>
<circle cx="190.8" cy="375.7" r="1.0" fill="#6fe4f0" opacity="0.85" filter="url(#b05)"/>
<circle cx="187.1" cy="377.6" r="0.7" fill="#6fe4f0" opacity="0.85" filter="url(#b05)"/>
<circle cx="172.0" cy="375.1" r="1.2" fill="#6fe4f0" opacity="0.85" filter="url(#b05)"/>
<circle cx="183.2" cy="372.3" r="0.8" fill="#6fe4f0" opacity="0.85" filter="url(#b05)"/>
<circle cx="182.8" cy="372.0" r="1.1" fill="#6fe4f0" opacity="0.85" filter="url(#b05)"/>
<circle cx="180.8" cy="373.2" r="1.0" fill="#6fe4f0" opacity="0.85" filter="url(#b05)"/>
<circle cx="185.0" cy="386.7" r="1.1" fill="#6fe4f0" opacity="0.85" filter="url(#b05)"/>
<circle cx="180.7" cy="379.0" r="0.7" fill="#6fe4f0" opacity="0.85" filter="url(#b05)"/>
<circle cx="174.1" cy="386.9" r="0.8" fill="#6fe4f0" opacity="0.85" filter="url(#b05)"/>
<circle cx="174.5" cy="390.5" r="0.8" fill="#6fe4f0" opacity="0.85" filter="url(#b05)"/>
<circle cx="170.9" cy="387.0" r="0.8" fill="#6fe4f0" opacity="0.85" filter="url(#b05)"/>
<circle cx="176.3" cy="381.3" r="1.1" fill="#6fe4f0" opacity="0.85" filter="url(#b05)"/>
<circle cx="183.9" cy="375.6" r="1.0" fill="#6fe4f0" opacity="0.85" filter="url(#b05)"/>
<circle cx="181.7" cy="383.8" r="5.2" fill="#44e060" opacity="0.9" filter="url(#b1)"/>
<circle cx="184.0" cy="380.0" r="2.5" fill="#50e878" opacity="0.7" filter="url(#b1)"/>
</g>
<clipPath id="cl20"><rect x="49.8" y="403" width="35.0" height="35.2"/></clipPath>
<rect x="49.8" y="403" width="35.0" height="35.2" fill="#061024"/>
<g clip-path="url(#cl20)">
<ellipse cx="67.5" cy="421.8" rx="12.8" ry="14.8" transform="rotate(10 67.5 421.8)" fill="#3350d2" filter="url(#b1)"/>
<circle cx="56.0" cy="407.0" r="2" fill="#2a40b8" opacity="0.6" filter="url(#b1)"/>
</g>
<clipPath id="cl21"><rect x="88.3" y="403" width="34.5" height="35.2"/></clipPath>
<rect x="88.3" y="403" width="34.5" height="35.2" fill="#05091f"/>
<g clip-path="url(#cl21)">
<ellipse cx="105.2" cy="419.8" rx="14.2" ry="13" transform="rotate(10 105.2 419.8)" fill="#3350d2" filter="url(#b1)"/>
<circle cx="104.5" cy="418.8" r="1.3" fill="#2038b0" opacity="0.7" filter="url(#b05)"/>
<circle cx="112.5" cy="418.0" r="1.5" fill="#2a70b8" opacity="0.8" filter="url(#b05)"/>
<circle cx="108.0" cy="425.0" r="1.2" fill="#2440b8" opacity="0.6" filter="url(#b05)"/>
</g>
<clipPath id="cl22"><rect x="127" y="403" width="34.7" height="35.2"/></clipPath>
<rect x="127" y="403" width="34.7" height="35.2" fill="#05091f"/>
<g clip-path="url(#cl22)">
<ellipse cx="144.8" cy="420.3" rx="13.5" ry="14" transform="rotate(0 144.8 420.3)" fill="#3350d2" filter="url(#b1)"/>
<circle cx="149.4" cy="413.4" r="1.8" fill="#2030a8" opacity="0.8" filter="url(#b05)"/>
<circle cx="142.0" cy="425.0" r="1.2" fill="#2840b8" opacity="0.6" filter="url(#b05)"/>
</g>
<clipPath id="cl23"><rect x="165.2" y="403" width="35.4" height="35.2"/></clipPath>
<rect x="165.2" y="403" width="35.4" height="35.2" fill="#05091f"/>
<g clip-path="url(#cl23)">
<ellipse cx="183.2" cy="419.5" rx="15.8" ry="14" transform="rotate(0 183.2 419.5)" fill="#3350d2" filter="url(#b1)"/>
<circle cx="192.0" cy="406.0" r="2" fill="#2a40b8" opacity="0.6" filter="url(#b1)"/>
</g>
<clipPath id="cl30"><rect x="49.8" y="442.3" width="35.0" height="34.2"/></clipPath>
<rect x="49.8" y="442.3" width="35.0" height="34.2" fill="#06121a"/>
<g clip-path="url(#cl30)">
<ellipse cx="73" cy="450" rx="9" ry="5" fill="#1c5a30" opacity="0.8" filter="url(#b2)"/>
<ellipse cx="66" cy="462.6" rx="12.8" ry="11" transform="rotate(-15 66 462.6)" fill="#3350d2" filter="url(#b1)"/>
</g>
<clipPath id="cl31"><rect x="88.3" y="442.3" width="34.5" height="34.2"/></clipPath>
<rect x="88.3" y="442.3" width="34.5" height="34.2" fill="#08180f"/>
<g clip-path="url(#cl31)">
<ellipse cx="106" cy="458.2" rx="15.5" ry="12.6" transform="rotate(10 106 458.2)" fill="#3350d2" filter="url(#b1)"/>
<circle cx="103.0" cy="455.7" r="1.5" fill="#2468b0" opacity="0.8" filter="url(#b05)"/>
</g>
<clipPath id="cl32"><rect x="127" y="442.3" width="34.7" height="34.2"/></clipPath>
<rect x="127" y="442.3" width="34.7" height="34.2" fill="#05091f"/>
<g clip-path="url(#cl32)">
<ellipse cx="144" cy="459.8" rx="14.2" ry="13" transform="rotate(-10 144 459.8)" fill="#3350d2" filter="url(#b1)"/>
<circle cx="141.0" cy="463.0" r="1.4" fill="#2438b0" opacity="0.7" filter="url(#b05)"/>
</g>
<clipPath id="cl33"><rect x="165.2" y="442.3" width="35.4" height="34.2"/></clipPath>
<rect x="165.2" y="442.3" width="35.4" height="34.2" fill="#05091f"/>
<g clip-path="url(#cl33)">
<ellipse cx="181.9" cy="457.4" rx="16.8" ry="12.3" transform="rotate(-22 181.9 457.4)" fill="#3350d2" filter="url(#b1)"/>
<circle cx="187.8" cy="451.0" r="1.8" fill="#2030a8" opacity="0.8" filter="url(#b05)"/>
<circle cx="184.8" cy="457.2" r="1.6" fill="#2236ac" opacity="0.7" filter="url(#b05)"/>
<circle cx="174.0" cy="462.6" r="1.5" fill="#2236ac" opacity="0.7" filter="url(#b05)"/>
</g>
<rect x="55.5" y="593.2" width="5.2" height="1.3" fill="#2a48ad"/>
<path d="M58.1 593.2V592.6M56.5 592.6h3.2" stroke="#2a48ad" stroke-width="0.7" fill="none"/>
<rect x="63.6" y="577.0" width="5.2" height="17.5" fill="#e8232f"/>
<path d="M66.2 577.0V571.9M64.6 571.9h3.2" stroke="#e8232f" stroke-width="0.7" fill="none"/>
<rect x="71.7" y="593.7" width="5.2" height="0.8" fill="#6cc04a"/>
<path d="M74.3 593.7V593.4M72.7 593.4h3.2" stroke="#6cc04a" stroke-width="0.7" fill="none"/>
<rect x="79.8" y="593.7" width="5.2" height="0.8" fill="#7b3f98"/>
<path d="M82.4 593.7V593.4M80.8 593.4h3.2" stroke="#7b3f98" stroke-width="0.7" fill="none"/>
<rect x="94.3" y="586.4" width="5.2" height="8.1" fill="#2a48ad"/>
<path d="M96.9 586.4V583.2M95.3 583.2h3.2" stroke="#2a48ad" stroke-width="0.7" fill="none"/>
<rect x="102.4" y="536.2" width="5.2" height="58.3" fill="#e8232f"/>
<path d="M105.0 536.2V531.2M103.4 531.2h3.2" stroke="#e8232f" stroke-width="0.7" fill="none"/>
<rect x="110.5" y="592.6" width="5.2" height="1.9" fill="#6cc04a"/>
<path d="M113.1 592.6V591.4M111.5 591.4h3.2" stroke="#6cc04a" stroke-width="0.7" fill="none"/>
<rect x="118.6" y="588.2" width="5.2" height="6.3" fill="#7b3f98"/>
<path d="M121.2 588.2V587.2M119.6 587.2h3.2" stroke="#7b3f98" stroke-width="0.7" fill="none"/>
<rect x="133.0" y="583.7" width="5.2" height="10.8" fill="#2a48ad"/>
<path d="M135.6 583.7V581.2M134.0 581.2h3.2" stroke="#2a48ad" stroke-width="0.7" fill="none"/>
<rect x="141.1" y="535.0" width="5.2" height="59.5" fill="#e8232f"/>
<path d="M143.7 535.0V527.5M142.1 527.5h3.2" stroke="#e8232f" stroke-width="0.7" fill="none"/>
<rect x="149.2" y="592.9" width="5.2" height="1.6" fill="#6cc04a"/>
<path d="M151.8 592.9V591.9M150.2 591.9h3.2" stroke="#6cc04a" stroke-width="0.7" fill="none"/>
<rect x="157.3" y="586.4" width="5.2" height="8.1" fill="#7b3f98"/>
<path d="M159.9 586.4V583.5M158.3 583.5h3.2" stroke="#7b3f98" stroke-width="0.7" fill="none"/>
<rect x="171.9" y="575.7" width="5.2" height="18.8" fill="#2a48ad"/>
<path d="M174.5 575.7V570.1M172.9 570.1h3.2" stroke="#2a48ad" stroke-width="0.7" fill="none"/>
<rect x="180.0" y="508.0" width="5.2" height="86.5" fill="#e8232f"/>
<path d="M182.6 508.0V503.9M181.0 503.9h3.2" stroke="#e8232f" stroke-width="0.7" fill="none"/>
<rect x="188.1" y="592.0" width="5.2" height="2.5" fill="#6cc04a"/>
<path d="M190.7 592.0V591.0M189.1 591.0h3.2" stroke="#6cc04a" stroke-width="0.7" fill="none"/>
<rect x="196.2" y="588.9" width="5.2" height="5.6" fill="#7b3f98"/>
<path d="M198.8 588.9V587.2M197.2 587.2h3.2" stroke="#7b3f98" stroke-width="0.7" fill="none"/>
<path d="M52.5 494.0V594.5H205" stroke="#000" stroke-width="1" fill="none"/>
<path d="M50.0 594.5H52.5" stroke="#000" stroke-width="0.8"/>
<text x="49.0" y="596.9" font-size="6.8" text-anchor="end" font-weight="bold" fill="#000" stroke="#000" stroke-width="0.18">0</text>
<path d="M50.0 569.4H52.5" stroke="#000" stroke-width="0.8"/>
<text x="49.0" y="571.8" font-size="6.8" text-anchor="end" font-weight="bold" fill="#000" stroke="#000" stroke-width="0.18">20</text>
<path d="M50.0 544.4H52.5" stroke="#000" stroke-width="0.8"/>
<text x="49.0" y="546.8" font-size="6.8" text-anchor="end" font-weight="bold" fill="#000" stroke="#000" stroke-width="0.18">40</text>
<path d="M50.0 519.3H52.5" stroke="#000" stroke-width="0.8"/>
<text x="49.0" y="521.7" font-size="6.8" text-anchor="end" font-weight="bold" fill="#000" stroke="#000" stroke-width="0.18">60</text>
<path d="M50.0 494.3H52.5" stroke="#000" stroke-width="0.8"/>
<text x="49.0" y="496.7" font-size="6.8" text-anchor="end" font-weight="bold" fill="#000" stroke="#000" stroke-width="0.18">80</text>
<text x="38" y="543.5" font-size="7.75" text-anchor="middle" fill="#000" stroke="#000" stroke-width="0.18" transform="rotate(-90 38 543.5)">% cells with &gt;10 RAD51 foci</text>
<path d="M66.6 498.8H181.2M66.6 496.40000000000003v4.8M181.2 496.40000000000003v4.8" stroke="#222" stroke-width="0.9" fill="none"/>
<text x="130.8" y="499.0" font-size="7.3" text-anchor="middle" font-weight="bold" fill="#000" stroke="#000" stroke-width="0.18">****</text>
<path d="M183 498.8H199.3M183 496.40000000000003v4.8M199.3 496.40000000000003v4.8" stroke="#222" stroke-width="0.9" fill="none"/>
<text x="191.5" y="499.0" font-size="7.3" text-anchor="middle" font-weight="bold" fill="#000" stroke="#000" stroke-width="0.18">****</text>
<path d="M66.6 513.2H145M66.6 510.80000000000007v4.8M145 510.80000000000007v4.8" stroke="#222" stroke-width="0.9" fill="none"/>
<text x="103" y="513.4000000000001" font-size="7.3" text-anchor="middle" font-weight="bold" fill="#000" stroke="#000" stroke-width="0.18">****</text>
<path d="M66.6 526.4H102M66.6 524.0v4.8M102 524.0v4.8" stroke="#222" stroke-width="0.9" fill="none"/>
<text x="85.5" y="526.6" font-size="7.3" text-anchor="middle" font-weight="bold" fill="#000" stroke="#000" stroke-width="0.18">****</text>
<path d="M105.5 526.4H121.9M105.5 524.0v4.8M121.9 524.0v4.8" stroke="#222" stroke-width="0.9" fill="none"/>
<text x="113.8" y="526.6" font-size="7.3" text-anchor="middle" font-weight="bold" fill="#000" stroke="#000" stroke-width="0.18">****</text>
<path d="M143.3 523.3H160.5M143.3 520.9v4.8M160.5 520.9v4.8" stroke="#222" stroke-width="0.9" fill="none"/>
<text x="152" y="523.5" font-size="7.3" text-anchor="middle" font-weight="bold" fill="#000" stroke="#000" stroke-width="0.18">****</text>
<text x="70" y="603.5" font-size="6.8" text-anchor="middle" fill="#000" stroke="#000" stroke-width="0.18">UWB1.289</text>
<text x="93.3" y="603.5" font-size="6.8" text-anchor="start" fill="#000" stroke="#000" stroke-width="0.18">UWB1.289</text>
<text x="93.3" y="611.5" font-size="6.8" text-anchor="start" fill="#000" stroke="#000" stroke-width="0.18">SYR12</text>
<text x="132.5" y="603.5" font-size="6.8" text-anchor="start" fill="#000" stroke="#000" stroke-width="0.18">UWB1.289</text>
<text x="132.5" y="611.5" font-size="6.8" text-anchor="start" fill="#000" stroke="#000" stroke-width="0.18">SYR14</text>
<text x="172.5" y="603.5" font-size="6.8" text-anchor="start" fill="#000" stroke="#000" stroke-width="0.18">UWB1.289</text>
<text x="170" y="611.5" font-size="6.8" text-anchor="start" fill="#000" stroke="#000" stroke-width="0.18">+BRCA1</text>
<rect x="197.4" y="515.2" width="4.6" height="4.6" fill="#2a48ad"/>
<text x="204.5" y="520.1" font-size="7.3" text-anchor="start" fill="#000" stroke="#000" stroke-width="0.18">DMSO</text>
<rect x="197.4" y="524.0" width="4.6" height="4.6" fill="#e8232f"/>
<text x="204.5" y="528.9" font-size="7.3" text-anchor="start" fill="#000" stroke="#000" stroke-width="0.18">Olaparib</text>
<rect x="197.4" y="532.7" width="4.6" height="4.6" fill="#6cc04a"/>
<text x="204.5" y="537.6" font-size="7.3" text-anchor="start" fill="#000" stroke="#000" stroke-width="0.18">Prexasertib</text>
<rect x="197.4" y="541.5" width="4.6" height="4.6" fill="#7b3f98"/>
<text x="204.5" y="546.4" font-size="7.3" text-anchor="start" fill="#000" stroke="#000" stroke-width="0.18">Prexasertib/</text>
<text x="204.5" y="554" font-size="7.3" text-anchor="start" fill="#000" stroke="#000" stroke-width="0.18">Olaparib</text>
<text x="232" y="298.5" font-size="13" text-anchor="start" font-weight="bold" fill="#000" stroke="#000" stroke-width="0.18">D</text>
<rect x="276.3" y="313.2" width="60" height="3.4" fill="#e8232f"/>
<rect x="337.4" y="313.2" width="60.3" height="3.4" fill="#1fa350"/>
<rect x="397.7" y="313.2" width="121" height="3.4" fill="#0a0a0a"/>
<text x="305.5" y="310" font-size="8.8" text-anchor="middle" fill="#000" stroke="#000" stroke-width="0.18">IdU</text>
<text x="368.5" y="310" font-size="8.8" text-anchor="middle" fill="#000" stroke="#000" stroke-width="0.18">CldU</text>
<text x="460" y="310" font-size="8.8" text-anchor="middle" fill="#000" stroke="#000" stroke-width="0.18">HU + Prexasertib</text>
<text x="306.3" y="327.3" font-size="8" text-anchor="middle" fill="#000" stroke="#000" stroke-width="0.18">45 minutes</text>
<text x="369" y="327.3" font-size="8" text-anchor="middle" fill="#000" stroke="#000" stroke-width="0.18">45 minutes</text>
<text x="456.3" y="327.3" font-size="8" text-anchor="middle" fill="#000" stroke="#000" stroke-width="0.18">4.5 hours</text>
<rect x="281.6" y="348.8" width="106.2" height="25.3" fill="#060a06"/>
<path d="M308.3 362.4h0.9v0.9h-0.9zM321.7 363.7h0.9v0.9h-0.9zM347.8 352.4h0.9v0.9h-0.9zM285.3 368.6h0.9v0.9h-0.9zM310.5 355.9h0.9v0.9h-0.9zM385.6 360.9h0.9v0.9h-0.9zM369.3 361.0h0.9v0.9h-0.9zM349.2 354.2h0.9v0.9h-0.9zM348.8 369.2h0.9v0.9h-0.9zM337.4 366.6h0.9v0.9h-0.9zM352.5 352.3h0.9v0.9h-0.9zM361.3 363.4h0.9v0.9h-0.9zM314.7 351.7h0.9v0.9h-0.9zM372.3 360.9h0.9v0.9h-0.9zM357.3 369.5h0.9v0.9h-0.9zM356.8 370.3h0.9v0.9h-0.9zM324.3 367.8h0.9v0.9h-0.9zM329.4 370.6h0.9v0.9h-0.9zM373.6 353.0h0.9v0.9h-0.9zM297.9 355.6h0.9v0.9h-0.9zM382.5 360.2h0.9v0.9h-0.9zM347.9 357.3h0.9v0.9h-0.9zM335.7 359.1h0.9v0.9h-0.9zM319.8 363.3h0.9v0.9h-0.9zM343.6 370.0h0.9v0.9h-0.9zM353.6 370.5h0.9v0.9h-0.9zM371.4 371.8h0.9v0.9h-0.9zM352.5 354.4h0.9v0.9h-0.9zM371.8 371.3h0.9v0.9h-0.9zM376.3 363.0h0.9v0.9h-0.9zM356.8 355.4h0.9v0.9h-0.9zM368.8 363.0h0.9v0.9h-0.9zM313.1 352.3h0.9v0.9h-0.9zM371.1 371.8h0.9v0.9h-0.9zM293.0 367.8h0.9v0.9h-0.9zM325.9 354.2h0.9v0.9h-0.9zM314.0 367.1h0.9v0.9h-0.9zM373.0 351.9h0.9v0.9h-0.9zM346.7 351.9h0.9v0.9h-0.9zM357.3 358.0h0.9v0.9h-0.9z" fill="#1f6a2a" opacity="0.55"/>
<path d="M302.7 358.2L341 357.8" stroke="#e8441e" stroke-width="2.3" stroke-linecap="round" filter="url(#b05)"/>
<path d="M341 357L377.5 356.6" stroke="#1fa848" stroke-width="2.8" stroke-linecap="round" filter="url(#b05)"/>
<path d="M379 356.6h5" stroke="#1fa848" stroke-width="1.5" stroke-dasharray="1.2 1.5" opacity="0.8"/>
<rect x="403" y="348.8" width="106.2" height="24.7" fill="#040604"/>
<path d="M423 367.2L460.5 360.8" stroke="#e02a44" stroke-width="2" stroke-linecap="round" filter="url(#b05)"/>
<path d="M461 360.6L477.4 357.4" stroke="#34c058" stroke-width="2.3" stroke-linecap="round" filter="url(#b05)"/>
<path d="M294.3 538.9h1.4v1.4h-1.4zM296.2 538.2h1.4v1.4h-1.4zM294.3 534.3h1.4v1.4h-1.4zM294.3 528.4h1.4v1.4h-1.4zM296.2 528.3h1.4v1.4h-1.4zM292.4 527.1h1.4v1.4h-1.4zM298.1 526.7h1.4v1.4h-1.4zM294.3 525.6h1.4v1.4h-1.4zM295.2 523.9h1.4v1.4h-1.4zM293.4 523.5h1.4v1.4h-1.4zM297.2 523.1h1.4v1.4h-1.4zM294.3 521.2h1.4v1.4h-1.4zM296.2 521.1h1.4v1.4h-1.4zM292.4 520.0h1.4v1.4h-1.4zM295.2 519.3h1.4v1.4h-1.4zM297.2 519.0h1.4v1.4h-1.4zM290.5 519.0h1.4v1.4h-1.4zM293.4 518.2h1.4v1.4h-1.4zM299.1 518.1h1.4v1.4h-1.4zM288.6 517.9h1.4v1.4h-1.4zM294.3 516.2h1.4v1.4h-1.4zM296.2 515.8h1.4v1.4h-1.4zM292.4 515.8h1.4v1.4h-1.4zM298.1 515.3h1.4v1.4h-1.4zM290.5 515.1h1.4v1.4h-1.4zM300.0 514.8h1.4v1.4h-1.4zM288.6 514.4h1.4v1.4h-1.4zM294.3 514.2h1.4v1.4h-1.4zM296.2 513.0h1.4v1.4h-1.4zM292.4 513.0h1.4v1.4h-1.4zM298.1 512.8h1.4v1.4h-1.4zM290.5 512.8h1.4v1.4h-1.4zM300.0 512.6h1.4v1.4h-1.4zM294.3 511.8h1.4v1.4h-1.4zM288.6 511.3h1.4v1.4h-1.4zM296.2 510.8h1.4v1.4h-1.4zM292.4 510.7h1.4v1.4h-1.4zM298.1 510.2h1.4v1.4h-1.4zM290.5 510.1h1.4v1.4h-1.4zM294.3 508.9h1.4v1.4h-1.4zM295.2 507.2h1.4v1.4h-1.4zM293.4 507.0h1.4v1.4h-1.4zM297.2 506.7h1.4v1.4h-1.4zM291.4 505.7h1.4v1.4h-1.4zM299.1 505.7h1.4v1.4h-1.4zM289.6 505.7h1.4v1.4h-1.4zM300.9 505.4h1.4v1.4h-1.4zM294.3 504.8h1.4v1.4h-1.4zM296.2 504.8h1.4v1.4h-1.4zM287.7 504.6h1.4v1.4h-1.4zM302.9 504.6h1.4v1.4h-1.4zM285.8 504.3h1.4v1.4h-1.4zM292.4 504.0h1.4v1.4h-1.4zM298.1 503.7h1.4v1.4h-1.4zM290.5 503.6h1.4v1.4h-1.4zM300.0 503.3h1.4v1.4h-1.4zM295.2 503.1h1.4v1.4h-1.4zM304.8 503.1h1.4v1.4h-1.4zM283.9 503.1h1.4v1.4h-1.4zM288.6 502.7h1.4v1.4h-1.4zM293.4 502.4h1.4v1.4h-1.4zM301.9 502.0h1.4v1.4h-1.4zM297.2 502.0h1.4v1.4h-1.4zM291.4 501.8h1.4v1.4h-1.4zM299.1 501.5h1.4v1.4h-1.4zM286.7 501.3h1.4v1.4h-1.4zM295.2 501.0h1.4v1.4h-1.4zM289.6 501.0h1.4v1.4h-1.4zM293.4 500.1h1.4v1.4h-1.4zM297.2 499.7h1.4v1.4h-1.4zM295.2 499.1h1.4v1.4h-1.4zM291.4 498.9h1.4v1.4h-1.4zM293.4 497.9h1.4v1.4h-1.4zM297.2 497.4h1.4v1.4h-1.4zM299.1 497.3h1.4v1.4h-1.4zM290.5 497.2h1.4v1.4h-1.4zM295.2 497.0h1.4v1.4h-1.4zM288.6 496.9h1.4v1.4h-1.4zM300.9 496.7h1.4v1.4h-1.4zM286.7 496.3h1.4v1.4h-1.4zM302.9 496.3h1.4v1.4h-1.4zM293.4 495.4h1.4v1.4h-1.4zM296.2 495.2h1.4v1.4h-1.4zM291.4 494.7h1.4v1.4h-1.4zM298.1 494.5h1.4v1.4h-1.4zM289.6 494.4h1.4v1.4h-1.4zM300.0 494.2h1.4v1.4h-1.4zM287.7 493.9h1.4v1.4h-1.4zM294.3 493.8h1.4v1.4h-1.4zM301.9 493.7h1.4v1.4h-1.4zM285.8 493.5h1.4v1.4h-1.4zM303.8 493.3h1.4v1.4h-1.4zM296.2 493.1h1.4v1.4h-1.4zM292.4 493.0h1.4v1.4h-1.4zM298.1 492.5h1.4v1.4h-1.4zM290.5 492.5h1.4v1.4h-1.4zM300.0 492.3h1.4v1.4h-1.4zM288.6 492.1h1.4v1.4h-1.4zM283.9 492.1h1.4v1.4h-1.4zM294.3 491.8h1.4v1.4h-1.4zM301.9 491.5h1.4v1.4h-1.4zM295.2 490.1h1.4v1.4h-1.4zM293.4 490.0h1.4v1.4h-1.4zM297.2 489.8h1.4v1.4h-1.4zM291.4 489.6h1.4v1.4h-1.4zM299.1 488.9h1.4v1.4h-1.4zM289.6 488.5h1.4v1.4h-1.4zM294.3 488.2h1.4v1.4h-1.4zM296.2 488.1h1.4v1.4h-1.4zM292.4 487.1h1.4v1.4h-1.4zM298.1 487.0h1.4v1.4h-1.4zM290.5 486.7h1.4v1.4h-1.4zM300.0 486.5h1.4v1.4h-1.4zM294.3 484.9h1.4v1.4h-1.4zM296.2 484.8h1.4v1.4h-1.4zM292.4 484.7h1.4v1.4h-1.4zM298.1 484.7h1.4v1.4h-1.4zM290.5 484.6h1.4v1.4h-1.4zM300.0 484.6h1.4v1.4h-1.4zM288.6 484.1h1.4v1.4h-1.4zM301.9 483.4h1.4v1.4h-1.4zM294.3 482.7h1.4v1.4h-1.4zM296.2 482.7h1.4v1.4h-1.4zM292.4 482.5h1.4v1.4h-1.4zM298.1 481.2h1.4v1.4h-1.4zM294.3 478.1h1.4v1.4h-1.4zM296.2 476.6h1.4v1.4h-1.4zM292.4 476.5h1.4v1.4h-1.4zM298.1 476.5h1.4v1.4h-1.4zM290.5 476.4h1.4v1.4h-1.4zM294.3 475.6h1.4v1.4h-1.4zM300.0 475.3h1.4v1.4h-1.4zM296.2 474.6h1.4v1.4h-1.4zM292.4 474.4h1.4v1.4h-1.4zM298.1 474.4h1.4v1.4h-1.4zM294.3 473.5h1.4v1.4h-1.4zM296.2 472.3h1.4v1.4h-1.4zM294.3 470.9h1.4v1.4h-1.4zM292.4 470.8h1.4v1.4h-1.4zM296.2 469.6h1.4v1.4h-1.4zM298.1 469.3h1.4v1.4h-1.4zM293.4 469.2h1.4v1.4h-1.4zM294.3 460.9h1.4v1.4h-1.4zM294.3 456.3h1.4v1.4h-1.4zM294.3 451.8h1.4v1.4h-1.4zM294.3 446.6h1.4v1.4h-1.4zM294.3 435.5h1.4v1.4h-1.4z" fill="#2430a0" opacity="0.8"/>
<path d="M284.7 498.0h20.6" stroke="#111" stroke-width="1"/>
<path d="M291.8 495.7h6.4M291.8 500.3h6.4M295 495.7V500.3" stroke="#111" stroke-width="0.5" fill="none"/>
<path d="M312.8 551.9h1.3v1.3h-1.3zM312.8 547.4h1.3v1.3h-1.3zM312.8 540.0h1.3v1.3h-1.3zM314.3 539.9h1.3v1.3h-1.3zM311.2 539.6h1.3v1.3h-1.3zM312.8 537.8h1.3v1.3h-1.3zM314.3 537.5h1.3v1.3h-1.3zM311.2 537.2h1.3v1.3h-1.3zM312.8 535.3h1.3v1.3h-1.3zM314.3 534.9h1.3v1.3h-1.3zM311.2 534.6h1.3v1.3h-1.3zM315.9 534.5h1.3v1.3h-1.3zM309.6 534.0h1.3v1.3h-1.3zM317.4 533.9h1.3v1.3h-1.3zM308.1 533.7h1.3v1.3h-1.3zM312.8 533.6h1.3v1.3h-1.3zM314.3 533.4h1.3v1.3h-1.3zM311.2 532.9h1.3v1.3h-1.3zM315.9 532.8h1.3v1.3h-1.3zM318.9 532.8h1.3v1.3h-1.3zM306.6 532.7h1.3v1.3h-1.3zM320.5 532.7h1.3v1.3h-1.3zM309.6 532.4h1.3v1.3h-1.3zM312.8 532.0h1.3v1.3h-1.3zM317.4 531.9h1.3v1.3h-1.3zM314.3 531.6h1.3v1.3h-1.3zM308.1 531.5h1.3v1.3h-1.3zM305.0 531.5h1.3v1.3h-1.3zM322.1 531.4h1.3v1.3h-1.3zM311.2 531.3h1.3v1.3h-1.3zM315.9 531.1h1.3v1.3h-1.3zM318.9 530.9h1.3v1.3h-1.3zM312.8 530.5h1.3v1.3h-1.3zM309.6 530.4h1.3v1.3h-1.3zM317.4 530.2h1.3v1.3h-1.3zM314.3 530.0h1.3v1.3h-1.3zM308.1 529.9h1.3v1.3h-1.3zM306.6 529.9h1.3v1.3h-1.3zM320.5 529.8h1.3v1.3h-1.3zM311.2 529.7h1.3v1.3h-1.3zM315.9 529.5h1.3v1.3h-1.3zM305.0 529.4h1.3v1.3h-1.3zM318.9 529.4h1.3v1.3h-1.3zM322.1 529.2h1.3v1.3h-1.3zM312.8 528.9h1.3v1.3h-1.3zM309.6 528.9h1.3v1.3h-1.3zM317.4 528.7h1.3v1.3h-1.3zM303.4 528.7h1.3v1.3h-1.3zM317.7 528.6h1.3v1.3h-1.3zM314.3 528.5h1.3v1.3h-1.3zM307.3 528.4h1.3v1.3h-1.3zM308.5 528.3h1.3v1.3h-1.3zM312.5 528.3h1.3v1.3h-1.3zM320.5 528.2h1.3v1.3h-1.3zM313.3 528.1h1.3v1.3h-1.3zM315.9 527.7h1.3v1.3h-1.3zM318.9 527.6h1.3v1.3h-1.3zM311.2 527.3h1.3v1.3h-1.3zM309.6 527.0h1.3v1.3h-1.3zM314.3 526.9h1.3v1.3h-1.3zM312.8 526.6h1.3v1.3h-1.3zM317.4 526.5h1.3v1.3h-1.3zM308.1 526.5h1.3v1.3h-1.3zM306.6 526.5h1.3v1.3h-1.3zM315.9 526.2h1.3v1.3h-1.3zM311.2 525.5h1.3v1.3h-1.3zM318.9 525.5h1.3v1.3h-1.3zM314.3 525.3h1.3v1.3h-1.3zM309.6 525.1h1.3v1.3h-1.3zM312.8 524.9h1.3v1.3h-1.3zM317.4 524.9h1.3v1.3h-1.3zM308.1 524.8h1.3v1.3h-1.3zM306.6 524.8h1.3v1.3h-1.3zM320.5 524.8h1.3v1.3h-1.3zM305.0 524.7h1.3v1.3h-1.3zM315.9 524.6h1.3v1.3h-1.3zM322.1 524.5h1.3v1.3h-1.3zM311.2 524.0h1.3v1.3h-1.3zM314.3 523.7h1.3v1.3h-1.3zM318.9 523.6h1.3v1.3h-1.3zM303.4 523.6h1.3v1.3h-1.3zM312.8 523.2h1.3v1.3h-1.3zM315.9 523.0h1.3v1.3h-1.3zM309.6 522.9h1.3v1.3h-1.3zM317.4 522.9h1.3v1.3h-1.3zM308.1 522.8h1.3v1.3h-1.3zM306.6 522.7h1.3v1.3h-1.3zM311.2 522.4h1.3v1.3h-1.3zM320.5 522.3h1.3v1.3h-1.3zM305.0 522.3h1.3v1.3h-1.3zM314.3 522.1h1.3v1.3h-1.3zM312.8 521.6h1.3v1.3h-1.3zM316.6 521.5h1.3v1.3h-1.3zM308.9 521.4h1.3v1.3h-1.3zM318.2 521.2h1.3v1.3h-1.3zM307.3 521.1h1.3v1.3h-1.3zM310.4 521.0h1.3v1.3h-1.3zM319.7 520.8h1.3v1.3h-1.3zM315.1 520.7h1.3v1.3h-1.3zM305.8 520.4h1.3v1.3h-1.3zM313.5 520.1h1.3v1.3h-1.3zM312.0 519.7h1.3v1.3h-1.3zM309.6 519.6h1.3v1.3h-1.3zM316.6 519.6h1.3v1.3h-1.3zM308.1 519.5h1.3v1.3h-1.3zM318.2 519.3h1.3v1.3h-1.3zM319.7 519.3h1.3v1.3h-1.3zM315.1 519.0h1.3v1.3h-1.3zM306.6 518.9h1.3v1.3h-1.3zM305.0 518.8h1.3v1.3h-1.3zM321.3 518.7h1.3v1.3h-1.3zM303.4 518.6h1.3v1.3h-1.3zM313.5 518.5h1.3v1.3h-1.3zM311.2 518.2h1.3v1.3h-1.3zM322.8 518.2h1.3v1.3h-1.3zM309.6 517.8h1.3v1.3h-1.3zM316.6 517.8h1.3v1.3h-1.3zM308.1 517.7h1.3v1.3h-1.3zM315.1 517.3h1.3v1.3h-1.3zM318.2 517.2h1.3v1.3h-1.3zM312.8 516.2h1.3v1.3h-1.3zM314.3 515.9h1.3v1.3h-1.3zM311.2 515.8h1.3v1.3h-1.3zM315.9 515.5h1.3v1.3h-1.3zM309.6 515.4h1.3v1.3h-1.3zM317.4 515.3h1.3v1.3h-1.3zM312.8 514.5h1.3v1.3h-1.3zM314.3 514.2h1.3v1.3h-1.3zM311.2 513.8h1.3v1.3h-1.3zM315.9 513.6h1.3v1.3h-1.3zM309.6 513.5h1.3v1.3h-1.3zM317.4 513.5h1.3v1.3h-1.3zM308.1 513.5h1.3v1.3h-1.3zM318.9 513.0h1.3v1.3h-1.3zM312.8 512.4h1.3v1.3h-1.3zM314.3 511.2h1.3v1.3h-1.3zM311.2 511.2h1.3v1.3h-1.3zM312.8 510.9h1.3v1.3h-1.3zM315.9 510.3h1.3v1.3h-1.3zM309.6 510.1h1.3v1.3h-1.3zM317.4 510.0h1.3v1.3h-1.3zM312.8 508.1h1.3v1.3h-1.3zM314.3 508.1h1.3v1.3h-1.3zM311.2 508.0h1.3v1.3h-1.3zM315.9 508.0h1.3v1.3h-1.3zM309.6 507.4h1.3v1.3h-1.3zM317.4 507.4h1.3v1.3h-1.3zM308.1 507.3h1.3v1.3h-1.3zM318.9 507.2h1.3v1.3h-1.3zM313.5 506.8h1.3v1.3h-1.3zM312.0 506.7h1.3v1.3h-1.3zM315.1 505.8h1.3v1.3h-1.3zM312.8 505.0h1.3v1.3h-1.3zM311.2 504.9h1.3v1.3h-1.3zM309.6 504.7h1.3v1.3h-1.3zM316.6 504.7h1.3v1.3h-1.3zM314.3 503.9h1.3v1.3h-1.3zM312.0 503.6h1.3v1.3h-1.3zM308.1 503.4h1.3v1.3h-1.3zM312.8 500.8h1.3v1.3h-1.3zM313.5 499.5h1.3v1.3h-1.3zM312.0 499.4h1.3v1.3h-1.3zM315.1 498.3h1.3v1.3h-1.3zM312.8 496.8h1.3v1.3h-1.3zM313.5 495.2h1.3v1.3h-1.3zM312.0 495.0h1.3v1.3h-1.3zM314.3 493.8h1.3v1.3h-1.3zM312.8 486.9h1.3v1.3h-1.3zM312.8 484.3h1.3v1.3h-1.3zM312.8 480.4h1.3v1.3h-1.3z" fill="#2430a0" opacity="1"/>
<path d="M302.5 521.4h21.8" stroke="#111" stroke-width="1"/>
<path d="M310.2 519.9h6.4M310.2 522.9h6.4M313.4 519.9V522.9" stroke="#111" stroke-width="0.5" fill="none"/>
<path d="M331.2 550.6h1.3v1.3h-1.3zM332.9 549.4h1.3v1.3h-1.3zM331.2 544.8h1.3v1.3h-1.3zM332.9 543.8h1.3v1.3h-1.3zM331.2 543.0h1.3v1.3h-1.3zM329.4 542.3h1.3v1.3h-1.3zM331.2 539.9h1.3v1.3h-1.3zM332.9 539.2h1.3v1.3h-1.3zM329.4 538.9h1.3v1.3h-1.3zM334.7 538.6h1.3v1.3h-1.3zM327.7 538.6h1.3v1.3h-1.3zM336.4 538.3h1.3v1.3h-1.3zM331.2 537.8h1.3v1.3h-1.3zM332.9 537.4h1.3v1.3h-1.3zM331.2 536.0h1.3v1.3h-1.3zM332.9 535.3h1.3v1.3h-1.3zM329.4 535.3h1.3v1.3h-1.3zM334.7 535.0h1.3v1.3h-1.3zM327.7 534.7h1.3v1.3h-1.3zM336.4 534.3h1.3v1.3h-1.3zM331.2 533.5h1.3v1.3h-1.3zM332.9 533.4h1.3v1.3h-1.3zM329.4 533.4h1.3v1.3h-1.3zM334.7 533.2h1.3v1.3h-1.3zM326.8 533.0h1.3v1.3h-1.3zM325.0 532.9h1.3v1.3h-1.3zM337.3 532.8h1.3v1.3h-1.3zM339.0 532.7h1.3v1.3h-1.3zM323.3 532.6h1.3v1.3h-1.3zM340.8 532.5h1.3v1.3h-1.3zM321.5 532.4h1.3v1.3h-1.3zM342.5 532.2h1.3v1.3h-1.3zM319.8 532.2h1.3v1.3h-1.3zM332.0 531.9h1.3v1.3h-1.3zM330.3 531.7h1.3v1.3h-1.3zM333.8 531.7h1.3v1.3h-1.3zM328.5 531.5h1.3v1.3h-1.3zM335.5 531.5h1.3v1.3h-1.3zM330.0 531.5h1.3v1.3h-1.3zM325.9 531.3h1.3v1.3h-1.3zM337.3 531.0h1.3v1.3h-1.3zM324.2 530.9h1.3v1.3h-1.3zM339.0 530.7h1.3v1.3h-1.3zM322.4 530.6h1.3v1.3h-1.3zM340.8 530.4h1.3v1.3h-1.3zM320.7 530.4h1.3v1.3h-1.3zM331.2 530.1h1.3v1.3h-1.3zM332.9 530.1h1.3v1.3h-1.3zM329.4 529.7h1.3v1.3h-1.3zM334.7 529.7h1.3v1.3h-1.3zM327.7 529.6h1.3v1.3h-1.3zM336.4 529.5h1.3v1.3h-1.3zM325.9 529.3h1.3v1.3h-1.3zM342.5 529.3h1.3v1.3h-1.3zM338.2 529.1h1.3v1.3h-1.3zM324.2 529.0h1.3v1.3h-1.3zM332.0 528.6h1.3v1.3h-1.3zM330.3 528.1h1.3v1.3h-1.3zM333.8 527.7h1.3v1.3h-1.3zM328.5 527.6h1.3v1.3h-1.3zM332.0 526.7h1.3v1.3h-1.3zM335.5 526.5h1.3v1.3h-1.3zM326.8 526.4h1.3v1.3h-1.3zM330.3 526.2h1.3v1.3h-1.3zM337.3 526.2h1.3v1.3h-1.3zM325.0 526.0h1.3v1.3h-1.3zM333.8 526.0h1.3v1.3h-1.3zM339.0 525.9h1.3v1.3h-1.3zM328.5 525.8h1.3v1.3h-1.3zM323.3 525.6h1.3v1.3h-1.3zM340.8 525.5h1.3v1.3h-1.3zM321.5 525.3h1.3v1.3h-1.3zM342.5 525.1h1.3v1.3h-1.3zM332.0 524.7h1.3v1.3h-1.3zM335.5 524.5h1.3v1.3h-1.3zM330.3 524.3h1.3v1.3h-1.3zM326.8 524.3h1.3v1.3h-1.3zM337.3 524.3h1.3v1.3h-1.3zM333.8 524.2h1.3v1.3h-1.3zM325.0 524.2h1.3v1.3h-1.3zM328.5 524.1h1.3v1.3h-1.3zM339.0 523.6h1.3v1.3h-1.3zM323.3 523.6h1.3v1.3h-1.3zM340.8 523.5h1.3v1.3h-1.3zM321.5 523.1h1.3v1.3h-1.3zM331.2 522.8h1.3v1.3h-1.3zM335.5 522.8h1.3v1.3h-1.3zM332.9 522.5h1.3v1.3h-1.3zM329.4 522.5h1.3v1.3h-1.3zM327.7 522.2h1.3v1.3h-1.3zM325.9 522.1h1.3v1.3h-1.3zM337.3 521.9h1.3v1.3h-1.3zM324.2 521.7h1.3v1.3h-1.3zM339.0 521.6h1.3v1.3h-1.3zM340.8 521.6h1.3v1.3h-1.3zM322.4 521.3h1.3v1.3h-1.3zM331.2 521.0h1.3v1.3h-1.3zM333.8 521.0h1.3v1.3h-1.3zM335.5 520.9h1.3v1.3h-1.3zM329.4 520.6h1.3v1.3h-1.3zM320.7 520.6h1.3v1.3h-1.3zM342.5 520.6h1.3v1.3h-1.3zM326.8 520.5h1.3v1.3h-1.3zM337.3 520.2h1.3v1.3h-1.3zM325.0 520.1h1.3v1.3h-1.3zM339.9 520.0h1.3v1.3h-1.3zM336.8 520.0h1.3v1.3h-1.3zM323.3 519.7h1.3v1.3h-1.3zM332.0 519.3h1.3v1.3h-1.3zM334.7 519.2h1.3v1.3h-1.3zM330.3 518.7h1.3v1.3h-1.3zM328.5 518.6h1.3v1.3h-1.3zM332.0 517.5h1.3v1.3h-1.3zM330.3 516.4h1.3v1.3h-1.3zM333.8 516.3h1.3v1.3h-1.3zM328.5 516.3h1.3v1.3h-1.3zM335.5 516.1h1.3v1.3h-1.3zM332.0 515.5h1.3v1.3h-1.3zM326.8 515.5h1.3v1.3h-1.3zM337.3 515.5h1.3v1.3h-1.3zM325.0 514.8h1.3v1.3h-1.3zM329.4 514.8h1.3v1.3h-1.3zM339.0 514.6h1.3v1.3h-1.3zM333.8 514.6h1.3v1.3h-1.3zM331.2 513.7h1.3v1.3h-1.3zM327.7 513.5h1.3v1.3h-1.3zM335.5 513.5h1.3v1.3h-1.3zM332.9 512.5h1.3v1.3h-1.3zM331.2 511.8h1.3v1.3h-1.3zM332.9 510.4h1.3v1.3h-1.3zM329.4 510.4h1.3v1.3h-1.3zM334.7 510.1h1.3v1.3h-1.3zM331.2 509.6h1.3v1.3h-1.3zM327.7 509.5h1.3v1.3h-1.3zM331.2 507.6h1.3v1.3h-1.3zM332.9 507.4h1.3v1.3h-1.3zM331.2 504.5h1.3v1.3h-1.3zM332.9 504.4h1.3v1.3h-1.3zM329.4 504.4h1.3v1.3h-1.3zM334.7 504.3h1.3v1.3h-1.3zM331.2 502.1h1.3v1.3h-1.3zM332.9 502.0h1.3v1.3h-1.3zM329.4 501.7h1.3v1.3h-1.3zM332.0 500.4h1.3v1.3h-1.3zM330.3 499.8h1.3v1.3h-1.3zM333.8 499.2h1.3v1.3h-1.3zM331.2 497.1h1.3v1.3h-1.3zM331.2 488.9h1.3v1.3h-1.3zM331.2 485.6h1.3v1.3h-1.3zM332.9 484.3h1.3v1.3h-1.3zM331.2 472.6h1.3v1.3h-1.3z" fill="#2430a0" opacity="0.85"/>
<path d="M319.6 525.9h24.4" stroke="#111" stroke-width="1"/>
<path d="M328.6 524.6h6.4M328.6 527.3h6.4M331.8 524.6V527.3" stroke="#111" stroke-width="0.5" fill="none"/>
<path d="M349.5 540.2h1.4v1.4h-1.4zM349.5 536.3h1.4v1.4h-1.4zM349.5 532.6h1.4v1.4h-1.4zM349.5 526.1h1.4v1.4h-1.4zM351.4 525.2h1.4v1.4h-1.4zM347.6 524.9h1.4v1.4h-1.4zM349.5 522.9h1.4v1.4h-1.4zM350.4 521.1h1.4v1.4h-1.4zM348.6 519.9h1.4v1.4h-1.4zM351.4 519.5h1.4v1.4h-1.4zM346.6 519.0h1.4v1.4h-1.4zM349.5 517.2h1.4v1.4h-1.4zM351.4 516.1h1.4v1.4h-1.4zM347.6 516.0h1.4v1.4h-1.4zM353.3 515.7h1.4v1.4h-1.4zM345.7 515.6h1.4v1.4h-1.4zM349.5 514.5h1.4v1.4h-1.4zM351.4 513.6h1.4v1.4h-1.4zM348.6 512.7h1.4v1.4h-1.4zM346.6 512.1h1.4v1.4h-1.4zM353.3 512.0h1.4v1.4h-1.4zM350.4 511.8h1.4v1.4h-1.4zM344.8 511.3h1.4v1.4h-1.4zM355.2 510.9h1.4v1.4h-1.4zM348.6 510.7h1.4v1.4h-1.4zM352.4 510.4h1.4v1.4h-1.4zM350.4 509.9h1.4v1.4h-1.4zM346.6 509.7h1.4v1.4h-1.4zM354.2 509.1h1.4v1.4h-1.4zM344.8 508.9h1.4v1.4h-1.4zM348.6 508.6h1.4v1.4h-1.4zM350.4 507.5h1.4v1.4h-1.4zM352.4 507.2h1.4v1.4h-1.4zM347.6 506.8h1.4v1.4h-1.4zM345.7 506.7h1.4v1.4h-1.4zM354.2 506.6h1.4v1.4h-1.4zM343.8 506.1h1.4v1.4h-1.4zM349.5 505.6h1.4v1.4h-1.4zM356.1 505.6h1.4v1.4h-1.4zM351.4 505.4h1.4v1.4h-1.4zM341.9 505.2h1.4v1.4h-1.4zM347.6 504.0h1.4v1.4h-1.4zM349.5 503.6h1.4v1.4h-1.4zM351.4 502.8h1.4v1.4h-1.4zM353.3 502.7h1.4v1.4h-1.4zM348.6 501.9h1.4v1.4h-1.4zM346.6 501.6h1.4v1.4h-1.4zM344.8 501.2h1.4v1.4h-1.4zM350.4 500.9h1.4v1.4h-1.4zM352.4 500.8h1.4v1.4h-1.4zM354.2 500.5h1.4v1.4h-1.4zM348.6 499.8h1.4v1.4h-1.4zM346.6 499.6h1.4v1.4h-1.4zM351.4 499.1h1.4v1.4h-1.4zM353.3 498.3h1.4v1.4h-1.4zM349.5 498.1h1.4v1.4h-1.4zM344.8 498.1h1.4v1.4h-1.4zM355.2 498.0h1.4v1.4h-1.4zM342.9 498.0h1.4v1.4h-1.4zM347.6 497.7h1.4v1.4h-1.4zM357.1 497.4h1.4v1.4h-1.4zM340.9 497.4h1.4v1.4h-1.4zM351.4 497.2h1.4v1.4h-1.4zM359.0 496.6h1.4v1.4h-1.4zM353.3 496.3h1.4v1.4h-1.4zM349.5 495.8h1.4v1.4h-1.4zM347.6 495.8h1.4v1.4h-1.4zM345.7 495.8h1.4v1.4h-1.4zM355.2 495.7h1.4v1.4h-1.4zM351.4 495.0h1.4v1.4h-1.4zM343.8 494.5h1.4v1.4h-1.4zM348.6 494.0h1.4v1.4h-1.4zM346.6 494.0h1.4v1.4h-1.4zM353.3 493.9h1.4v1.4h-1.4zM355.2 493.5h1.4v1.4h-1.4zM357.1 493.4h1.4v1.4h-1.4zM350.4 493.0h1.4v1.4h-1.4zM341.9 493.0h1.4v1.4h-1.4zM348.6 492.0h1.4v1.4h-1.4zM352.4 492.0h1.4v1.4h-1.4zM346.6 491.4h1.4v1.4h-1.4zM354.2 491.2h1.4v1.4h-1.4zM344.8 491.1h1.4v1.4h-1.4zM350.4 490.6h1.4v1.4h-1.4zM356.1 490.3h1.4v1.4h-1.4zM342.9 490.2h1.4v1.4h-1.4zM358.1 490.2h1.4v1.4h-1.4zM348.6 489.9h1.4v1.4h-1.4zM352.4 489.9h1.4v1.4h-1.4zM340.9 489.9h1.4v1.4h-1.4zM359.9 489.8h1.4v1.4h-1.4zM339.1 489.7h1.4v1.4h-1.4zM346.6 489.2h1.4v1.4h-1.4zM354.2 489.2h1.4v1.4h-1.4zM344.8 489.2h1.4v1.4h-1.4zM361.9 489.0h1.4v1.4h-1.4zM350.4 488.6h1.4v1.4h-1.4zM356.1 488.3h1.4v1.4h-1.4zM342.9 488.1h1.4v1.4h-1.4zM348.6 488.0h1.4v1.4h-1.4zM352.4 487.9h1.4v1.4h-1.4zM358.1 487.6h1.4v1.4h-1.4zM340.9 487.6h1.4v1.4h-1.4zM345.7 487.5h1.4v1.4h-1.4zM349.5 486.0h1.4v1.4h-1.4zM351.4 485.0h1.4v1.4h-1.4zM347.6 484.8h1.4v1.4h-1.4zM353.3 484.7h1.4v1.4h-1.4zM345.7 484.3h1.4v1.4h-1.4zM349.5 483.6h1.4v1.4h-1.4zM355.2 483.4h1.4v1.4h-1.4zM343.8 483.2h1.4v1.4h-1.4zM357.1 483.2h1.4v1.4h-1.4zM351.4 483.1h1.4v1.4h-1.4zM341.9 483.1h1.4v1.4h-1.4zM359.0 483.0h1.4v1.4h-1.4zM340.0 482.9h1.4v1.4h-1.4zM347.6 482.3h1.4v1.4h-1.4zM353.3 481.7h1.4v1.4h-1.4zM349.5 480.9h1.4v1.4h-1.4zM351.4 480.1h1.4v1.4h-1.4zM347.6 480.1h1.4v1.4h-1.4zM349.5 477.4h1.4v1.4h-1.4zM351.4 476.6h1.4v1.4h-1.4zM347.6 476.1h1.4v1.4h-1.4zM353.3 475.7h1.4v1.4h-1.4zM349.5 475.5h1.4v1.4h-1.4zM351.4 474.5h1.4v1.4h-1.4zM345.7 474.5h1.4v1.4h-1.4zM349.5 473.2h1.4v1.4h-1.4zM349.5 471.2h1.4v1.4h-1.4zM351.4 470.4h1.4v1.4h-1.4zM349.5 469.2h1.4v1.4h-1.4zM349.5 463.2h1.4v1.4h-1.4zM351.4 462.3h1.4v1.4h-1.4zM349.5 460.8h1.4v1.4h-1.4zM350.4 459.1h1.4v1.4h-1.4zM349.5 454.4h1.4v1.4h-1.4zM349.5 451.8h1.4v1.4h-1.4zM349.5 447.9h1.4v1.4h-1.4z" fill="#d42a2a" opacity="0.8"/>
<path d="M339.9 496.7h20.6" stroke="#111" stroke-width="1"/>
<path d="M347.0 494.3h6.4M347.0 499.1h6.4M350.2 494.3V499.1" stroke="#111" stroke-width="0.5" fill="none"/>
<path d="M368.1 542.2h1.3v1.3h-1.3zM368.1 538.9h1.3v1.3h-1.3zM368.1 531.7h1.3v1.3h-1.3zM368.1 529.5h1.3v1.3h-1.3zM369.6 529.2h1.3v1.3h-1.3zM367.3 528.1h1.3v1.3h-1.3zM368.8 527.3h1.3v1.3h-1.3zM370.4 527.1h1.3v1.3h-1.3zM368.1 525.0h1.3v1.3h-1.3zM369.6 525.0h1.3v1.3h-1.3zM366.5 525.0h1.3v1.3h-1.3zM371.2 524.9h1.3v1.3h-1.3zM364.9 524.8h1.3v1.3h-1.3zM372.7 524.7h1.3v1.3h-1.3zM363.4 524.3h1.3v1.3h-1.3zM374.2 524.3h1.3v1.3h-1.3zM361.9 524.1h1.3v1.3h-1.3zM368.1 522.1h1.3v1.3h-1.3zM369.6 522.0h1.3v1.3h-1.3zM366.5 521.7h1.3v1.3h-1.3zM371.2 521.6h1.3v1.3h-1.3zM364.9 521.5h1.3v1.3h-1.3zM372.7 521.5h1.3v1.3h-1.3zM363.4 521.4h1.3v1.3h-1.3zM368.8 520.6h1.3v1.3h-1.3zM374.2 520.5h1.3v1.3h-1.3zM367.3 520.3h1.3v1.3h-1.3zM370.4 519.8h1.3v1.3h-1.3zM365.7 519.3h1.3v1.3h-1.3zM368.8 519.0h1.3v1.3h-1.3zM371.9 519.0h1.3v1.3h-1.3zM367.3 518.7h1.3v1.3h-1.3zM364.2 518.3h1.3v1.3h-1.3zM370.4 518.1h1.3v1.3h-1.3zM373.5 517.8h1.3v1.3h-1.3zM365.7 517.5h1.3v1.3h-1.3zM368.1 517.2h1.3v1.3h-1.3zM371.9 517.2h1.3v1.3h-1.3zM369.6 516.4h1.3v1.3h-1.3zM364.2 516.2h1.3v1.3h-1.3zM368.1 515.6h1.3v1.3h-1.3zM366.5 515.6h1.3v1.3h-1.3zM371.2 515.4h1.3v1.3h-1.3zM369.6 514.5h1.3v1.3h-1.3zM364.9 514.5h1.3v1.3h-1.3zM367.3 514.2h1.3v1.3h-1.3zM371.9 514.1h1.3v1.3h-1.3zM363.4 513.8h1.3v1.3h-1.3zM373.5 513.8h1.3v1.3h-1.3zM361.9 513.8h1.3v1.3h-1.3zM375.0 513.7h1.3v1.3h-1.3zM368.8 512.9h1.3v1.3h-1.3zM366.5 512.8h1.3v1.3h-1.3zM370.4 512.7h1.3v1.3h-1.3zM364.9 512.5h1.3v1.3h-1.3zM368.1 511.0h1.3v1.3h-1.3zM369.6 510.7h1.3v1.3h-1.3zM366.5 510.3h1.3v1.3h-1.3zM371.2 510.2h1.3v1.3h-1.3zM364.9 510.0h1.3v1.3h-1.3zM372.7 510.0h1.3v1.3h-1.3zM363.4 510.0h1.3v1.3h-1.3zM374.2 509.5h1.3v1.3h-1.3zM361.9 509.4h1.3v1.3h-1.3zM368.1 509.4h1.3v1.3h-1.3zM369.6 509.1h1.3v1.3h-1.3zM375.8 509.1h1.3v1.3h-1.3zM360.3 509.1h1.3v1.3h-1.3zM377.4 509.0h1.3v1.3h-1.3zM366.5 508.5h1.3v1.3h-1.3zM371.2 508.2h1.3v1.3h-1.3zM364.9 508.2h1.3v1.3h-1.3zM372.7 508.1h1.3v1.3h-1.3zM363.4 508.0h1.3v1.3h-1.3zM368.1 507.9h1.3v1.3h-1.3zM374.2 507.8h1.3v1.3h-1.3zM361.9 507.6h1.3v1.3h-1.3zM369.6 506.5h1.3v1.3h-1.3zM367.3 506.5h1.3v1.3h-1.3zM365.7 506.4h1.3v1.3h-1.3zM371.2 505.7h1.3v1.3h-1.3zM364.2 505.7h1.3v1.3h-1.3zM372.7 505.5h1.3v1.3h-1.3zM362.6 505.4h1.3v1.3h-1.3zM368.1 504.9h1.3v1.3h-1.3zM369.6 504.7h1.3v1.3h-1.3zM366.5 504.6h1.3v1.3h-1.3zM364.9 504.3h1.3v1.3h-1.3zM371.2 504.1h1.3v1.3h-1.3zM363.4 504.0h1.3v1.3h-1.3zM373.5 504.0h1.3v1.3h-1.3zM361.9 504.0h1.3v1.3h-1.3zM375.0 503.8h1.3v1.3h-1.3zM360.3 503.8h1.3v1.3h-1.3zM376.6 503.5h1.3v1.3h-1.3zM368.1 502.5h1.3v1.3h-1.3zM369.6 502.1h1.3v1.3h-1.3zM366.5 501.8h1.3v1.3h-1.3zM371.2 501.4h1.3v1.3h-1.3zM364.9 501.1h1.3v1.3h-1.3zM372.7 501.0h1.3v1.3h-1.3zM368.1 500.3h1.3v1.3h-1.3zM369.6 499.4h1.3v1.3h-1.3zM366.5 499.2h1.3v1.3h-1.3zM371.2 498.9h1.3v1.3h-1.3zM364.9 498.9h1.3v1.3h-1.3zM368.1 498.7h1.3v1.3h-1.3zM372.7 498.5h1.3v1.3h-1.3zM363.4 498.4h1.3v1.3h-1.3zM374.2 498.3h1.3v1.3h-1.3zM369.6 497.6h1.3v1.3h-1.3zM366.5 497.6h1.3v1.3h-1.3zM361.9 497.4h1.3v1.3h-1.3zM368.1 496.7h1.3v1.3h-1.3zM371.2 496.6h1.3v1.3h-1.3zM364.9 496.3h1.3v1.3h-1.3zM372.7 496.2h1.3v1.3h-1.3zM363.4 496.2h1.3v1.3h-1.3zM374.2 496.1h1.3v1.3h-1.3zM369.6 496.0h1.3v1.3h-1.3zM366.5 495.6h1.3v1.3h-1.3zM361.9 495.5h1.3v1.3h-1.3zM368.1 494.6h1.3v1.3h-1.3zM370.4 494.6h1.3v1.3h-1.3zM364.9 494.5h1.3v1.3h-1.3zM366.5 494.0h1.3v1.3h-1.3zM371.9 494.0h1.3v1.3h-1.3zM363.4 493.9h1.3v1.3h-1.3zM373.5 493.7h1.3v1.3h-1.3zM361.9 493.5h1.3v1.3h-1.3zM368.8 493.2h1.3v1.3h-1.3zM370.4 492.9h1.3v1.3h-1.3zM364.9 492.8h1.3v1.3h-1.3zM375.0 492.8h1.3v1.3h-1.3zM367.3 492.6h1.3v1.3h-1.3zM371.9 492.4h1.3v1.3h-1.3zM363.4 492.1h1.3v1.3h-1.3zM368.8 491.6h1.3v1.3h-1.3zM367.3 490.8h1.3v1.3h-1.3zM370.4 490.8h1.3v1.3h-1.3zM365.7 490.4h1.3v1.3h-1.3zM371.9 490.1h1.3v1.3h-1.3zM368.1 489.0h1.3v1.3h-1.3zM369.6 489.0h1.3v1.3h-1.3zM366.5 488.8h1.3v1.3h-1.3zM368.1 487.3h1.3v1.3h-1.3zM369.6 487.0h1.3v1.3h-1.3zM366.5 487.0h1.3v1.3h-1.3zM371.2 486.9h1.3v1.3h-1.3zM364.9 486.7h1.3v1.3h-1.3zM368.1 485.3h1.3v1.3h-1.3zM369.6 484.8h1.3v1.3h-1.3zM366.5 484.6h1.3v1.3h-1.3zM371.2 483.9h1.3v1.3h-1.3zM368.1 482.6h1.3v1.3h-1.3zM369.6 481.9h1.3v1.3h-1.3zM366.5 481.9h1.3v1.3h-1.3zM371.2 481.3h1.3v1.3h-1.3zM368.1 480.6h1.3v1.3h-1.3zM365.7 480.4h1.3v1.3h-1.3zM369.6 479.7h1.3v1.3h-1.3zM371.2 479.4h1.3v1.3h-1.3zM367.3 479.2h1.3v1.3h-1.3zM365.7 478.4h1.3v1.3h-1.3zM368.8 478.3h1.3v1.3h-1.3zM368.1 474.0h1.3v1.3h-1.3zM368.1 470.6h1.3v1.3h-1.3zM368.1 464.8h1.3v1.3h-1.3zM368.1 462.9h1.3v1.3h-1.3zM368.1 456.4h1.3v1.3h-1.3zM368.1 436.9h1.3v1.3h-1.3z" fill="#d42a2a" opacity="1"/>
<path d="M359.4 503.2h18.7" stroke="#111" stroke-width="1"/>
<path d="M365.5 501.1h6.4M365.5 505.3h6.4M368.7 501.1V505.3" stroke="#111" stroke-width="0.5" fill="none"/>
<path d="M386.6 555.2h1.3v1.3h-1.3zM386.6 550.6h1.3v1.3h-1.3zM386.6 546.8h1.3v1.3h-1.3zM388.3 546.1h1.3v1.3h-1.3zM386.6 544.9h1.3v1.3h-1.3zM388.3 544.3h1.3v1.3h-1.3zM384.8 544.1h1.3v1.3h-1.3zM390.1 544.0h1.3v1.3h-1.3zM383.1 543.2h1.3v1.3h-1.3zM386.6 542.3h1.3v1.3h-1.3zM387.4 540.7h1.3v1.3h-1.3zM385.7 540.6h1.3v1.3h-1.3zM389.2 539.5h1.3v1.3h-1.3zM383.9 539.1h1.3v1.3h-1.3zM386.6 539.1h1.3v1.3h-1.3zM390.9 538.6h1.3v1.3h-1.3zM387.4 537.5h1.3v1.3h-1.3zM385.7 537.5h1.3v1.3h-1.3zM389.2 536.8h1.3v1.3h-1.3zM383.9 536.7h1.3v1.3h-1.3zM390.9 536.5h1.3v1.3h-1.3zM382.2 536.4h1.3v1.3h-1.3zM392.7 536.1h1.3v1.3h-1.3zM386.6 534.9h1.3v1.3h-1.3zM388.3 534.8h1.3v1.3h-1.3zM384.8 534.5h1.3v1.3h-1.3zM390.1 534.1h1.3v1.3h-1.3zM383.1 533.7h1.3v1.3h-1.3zM391.8 533.6h1.3v1.3h-1.3zM381.3 533.6h1.3v1.3h-1.3zM393.6 533.5h1.3v1.3h-1.3zM386.6 532.5h1.3v1.3h-1.3zM388.3 532.3h1.3v1.3h-1.3zM384.8 532.0h1.3v1.3h-1.3zM390.1 531.9h1.3v1.3h-1.3zM383.1 531.8h1.3v1.3h-1.3zM391.8 531.1h1.3v1.3h-1.3zM381.3 531.1h1.3v1.3h-1.3zM386.6 530.2h1.3v1.3h-1.3zM388.3 530.1h1.3v1.3h-1.3zM384.8 529.3h1.3v1.3h-1.3zM386.6 528.3h1.3v1.3h-1.3zM388.3 528.2h1.3v1.3h-1.3zM390.1 528.1h1.3v1.3h-1.3zM384.8 526.9h1.3v1.3h-1.3zM383.1 526.9h1.3v1.3h-1.3zM391.8 526.7h1.3v1.3h-1.3zM386.6 526.1h1.3v1.3h-1.3zM388.3 526.0h1.3v1.3h-1.3zM390.1 526.0h1.3v1.3h-1.3zM381.3 525.9h1.3v1.3h-1.3zM383.9 525.4h1.3v1.3h-1.3zM392.7 525.0h1.3v1.3h-1.3zM379.6 525.0h1.3v1.3h-1.3zM394.4 525.0h1.3v1.3h-1.3zM385.7 524.6h1.3v1.3h-1.3zM387.4 524.4h1.3v1.3h-1.3zM389.2 524.3h1.3v1.3h-1.3zM390.9 524.1h1.3v1.3h-1.3zM382.2 524.0h1.3v1.3h-1.3zM377.8 524.0h1.3v1.3h-1.3zM383.9 523.5h1.3v1.3h-1.3zM392.7 523.2h1.3v1.3h-1.3zM380.4 523.0h1.3v1.3h-1.3zM386.6 522.9h1.3v1.3h-1.3zM388.3 522.5h1.3v1.3h-1.3zM390.1 522.2h1.3v1.3h-1.3zM384.8 521.8h1.3v1.3h-1.3zM383.1 521.7h1.3v1.3h-1.3zM394.4 521.7h1.3v1.3h-1.3zM391.8 521.6h1.3v1.3h-1.3zM378.7 521.6h1.3v1.3h-1.3zM381.3 521.5h1.3v1.3h-1.3zM396.2 521.4h1.3v1.3h-1.3zM376.9 521.4h1.3v1.3h-1.3zM386.6 521.1h1.3v1.3h-1.3zM397.9 521.0h1.3v1.3h-1.3zM388.3 520.6h1.3v1.3h-1.3zM383.9 520.2h1.3v1.3h-1.3zM390.1 520.1h1.3v1.3h-1.3zM392.7 520.1h1.3v1.3h-1.3zM385.7 519.4h1.3v1.3h-1.3zM382.2 519.1h1.3v1.3h-1.3zM380.4 519.1h1.3v1.3h-1.3zM387.4 519.0h1.3v1.3h-1.3zM394.4 518.9h1.3v1.3h-1.3zM378.7 518.7h1.3v1.3h-1.3zM389.2 518.2h1.3v1.3h-1.3zM383.9 518.1h1.3v1.3h-1.3zM385.7 517.6h1.3v1.3h-1.3zM390.9 517.5h1.3v1.3h-1.3zM387.4 517.3h1.3v1.3h-1.3zM382.2 516.9h1.3v1.3h-1.3zM392.7 516.8h1.3v1.3h-1.3zM380.4 516.7h1.3v1.3h-1.3zM394.4 516.6h1.3v1.3h-1.3zM389.2 516.3h1.3v1.3h-1.3zM386.6 515.7h1.3v1.3h-1.3zM384.8 515.2h1.3v1.3h-1.3zM383.1 515.2h1.3v1.3h-1.3zM390.9 514.9h1.3v1.3h-1.3zM388.3 514.8h1.3v1.3h-1.3zM381.3 514.8h1.3v1.3h-1.3zM392.7 514.4h1.3v1.3h-1.3zM379.6 514.1h1.3v1.3h-1.3zM386.6 513.3h1.3v1.3h-1.3zM388.3 513.0h1.3v1.3h-1.3zM384.8 512.1h1.3v1.3h-1.3zM390.1 512.1h1.3v1.3h-1.3zM383.1 512.1h1.3v1.3h-1.3zM391.8 512.1h1.3v1.3h-1.3zM381.3 511.9h1.3v1.3h-1.3zM386.6 511.1h1.3v1.3h-1.3zM388.3 510.6h1.3v1.3h-1.3zM383.9 510.6h1.3v1.3h-1.3zM390.1 509.7h1.3v1.3h-1.3zM386.6 509.1h1.3v1.3h-1.3zM384.8 509.0h1.3v1.3h-1.3zM383.1 508.9h1.3v1.3h-1.3zM388.3 508.4h1.3v1.3h-1.3zM390.1 507.8h1.3v1.3h-1.3zM386.6 507.3h1.3v1.3h-1.3zM384.8 507.2h1.3v1.3h-1.3zM383.1 506.9h1.3v1.3h-1.3zM391.8 506.8h1.3v1.3h-1.3zM381.3 506.7h1.3v1.3h-1.3zM388.3 506.4h1.3v1.3h-1.3zM390.1 505.9h1.3v1.3h-1.3zM385.7 505.6h1.3v1.3h-1.3zM383.9 505.2h1.3v1.3h-1.3zM382.2 505.1h1.3v1.3h-1.3zM386.6 503.3h1.3v1.3h-1.3zM388.3 502.8h1.3v1.3h-1.3zM384.8 502.0h1.3v1.3h-1.3zM390.1 501.9h1.3v1.3h-1.3zM383.1 501.8h1.3v1.3h-1.3zM391.8 501.6h1.3v1.3h-1.3zM386.6 500.9h1.3v1.3h-1.3zM386.6 498.7h1.3v1.3h-1.3zM388.3 497.3h1.3v1.3h-1.3zM385.7 497.0h1.3v1.3h-1.3zM383.9 495.9h1.3v1.3h-1.3zM387.4 495.6h1.3v1.3h-1.3zM386.6 492.7h1.3v1.3h-1.3zM388.3 492.7h1.3v1.3h-1.3zM384.8 492.0h1.3v1.3h-1.3zM390.1 491.5h1.3v1.3h-1.3zM386.6 482.4h1.3v1.3h-1.3zM386.6 479.1h1.3v1.3h-1.3zM386.6 471.3h1.3v1.3h-1.3z" fill="#d42a2a" opacity="0.85"/>
<path d="M375.0 523.3h24.4" stroke="#111" stroke-width="1"/>
<path d="M384.0 521.9h6.4M384.0 524.8h6.4M387.2 521.9V524.8" stroke="#111" stroke-width="0.5" fill="none"/>
<path d="M404.9 549.3h1.4v1.4h-1.4zM404.9 537.6h1.4v1.4h-1.4zM404.9 534.3h1.4v1.4h-1.4zM404.9 530.3h1.4v1.4h-1.4zM404.9 525.9h1.4v1.4h-1.4zM406.8 524.8h1.4v1.4h-1.4zM404.9 521.9h1.4v1.4h-1.4zM405.9 520.1h1.4v1.4h-1.4zM404.0 519.4h1.4v1.4h-1.4zM407.8 518.6h1.4v1.4h-1.4zM402.1 518.5h1.4v1.4h-1.4zM409.7 518.4h1.4v1.4h-1.4zM405.9 517.8h1.4v1.4h-1.4zM404.0 516.4h1.4v1.4h-1.4zM405.9 515.6h1.4v1.4h-1.4zM407.8 515.1h1.4v1.4h-1.4zM404.0 514.5h1.4v1.4h-1.4zM402.1 514.1h1.4v1.4h-1.4zM405.9 513.4h1.4v1.4h-1.4zM404.0 512.1h1.4v1.4h-1.4zM405.9 511.1h1.4v1.4h-1.4zM407.8 511.0h1.4v1.4h-1.4zM402.1 510.7h1.4v1.4h-1.4zM404.9 508.2h1.4v1.4h-1.4zM406.8 507.2h1.4v1.4h-1.4zM403.0 507.2h1.4v1.4h-1.4zM404.9 505.8h1.4v1.4h-1.4zM406.8 505.2h1.4v1.4h-1.4zM403.0 505.2h1.4v1.4h-1.4zM408.7 504.5h1.4v1.4h-1.4zM401.1 504.4h1.4v1.4h-1.4zM404.9 503.4h1.4v1.4h-1.4zM406.8 503.1h1.4v1.4h-1.4zM403.0 502.7h1.4v1.4h-1.4zM408.7 502.4h1.4v1.4h-1.4zM401.1 502.1h1.4v1.4h-1.4zM404.9 501.3h1.4v1.4h-1.4zM406.8 501.0h1.4v1.4h-1.4zM403.0 500.8h1.4v1.4h-1.4zM409.7 500.5h1.4v1.4h-1.4zM400.2 500.4h1.4v1.4h-1.4zM411.6 500.3h1.4v1.4h-1.4zM398.3 499.6h1.4v1.4h-1.4zM404.9 498.9h1.4v1.4h-1.4zM406.8 498.2h1.4v1.4h-1.4zM404.9 496.9h1.4v1.4h-1.4zM403.0 496.9h1.4v1.4h-1.4zM408.7 496.9h1.4v1.4h-1.4zM401.1 496.4h1.4v1.4h-1.4zM404.9 494.1h1.4v1.4h-1.4zM406.8 493.8h1.4v1.4h-1.4zM403.0 493.3h1.4v1.4h-1.4zM408.7 493.1h1.4v1.4h-1.4zM401.1 492.9h1.4v1.4h-1.4zM410.6 492.5h1.4v1.4h-1.4zM404.9 492.2h1.4v1.4h-1.4zM406.8 491.5h1.4v1.4h-1.4zM403.0 491.2h1.4v1.4h-1.4zM408.7 491.1h1.4v1.4h-1.4zM401.1 490.8h1.4v1.4h-1.4zM404.9 489.8h1.4v1.4h-1.4zM410.6 489.6h1.4v1.4h-1.4zM406.8 488.9h1.4v1.4h-1.4zM403.0 488.7h1.4v1.4h-1.4zM404.9 487.5h1.4v1.4h-1.4zM408.7 487.3h1.4v1.4h-1.4zM406.8 486.6h1.4v1.4h-1.4zM403.0 486.2h1.4v1.4h-1.4zM401.1 486.0h1.4v1.4h-1.4zM404.9 484.9h1.4v1.4h-1.4zM406.8 484.4h1.4v1.4h-1.4zM403.0 484.2h1.4v1.4h-1.4zM408.7 484.1h1.4v1.4h-1.4zM404.9 482.6h1.4v1.4h-1.4zM406.8 481.6h1.4v1.4h-1.4zM404.9 480.6h1.4v1.4h-1.4zM403.0 480.2h1.4v1.4h-1.4zM408.7 480.1h1.4v1.4h-1.4zM401.1 479.8h1.4v1.4h-1.4zM404.9 476.9h1.4v1.4h-1.4zM406.8 476.6h1.4v1.4h-1.4zM404.0 475.2h1.4v1.4h-1.4zM404.9 472.9h1.4v1.4h-1.4zM406.8 472.5h1.4v1.4h-1.4zM404.0 471.2h1.4v1.4h-1.4zM404.9 467.3h1.4v1.4h-1.4zM405.9 465.6h1.4v1.4h-1.4zM404.9 462.8h1.4v1.4h-1.4zM404.9 456.3h1.4v1.4h-1.4zM404.9 451.8h1.4v1.4h-1.4zM404.9 449.8h1.4v1.4h-1.4zM404.9 440.1h1.4v1.4h-1.4zM404.9 436.8h1.4v1.4h-1.4zM404.9 434.9h1.4v1.4h-1.4zM406.8 433.6h1.4v1.4h-1.4z" fill="#111" opacity="0.8"/>
<path d="M398.2 498.0h14.9" stroke="#111" stroke-width="1"/>
<path d="M402.40000000000003 495.7h6.4M402.40000000000003 500.3h6.4M405.6 495.7V500.3" stroke="#111" stroke-width="0.5" fill="none"/>
<path d="M423.4 532.4h1.3v1.3h-1.3zM423.4 528.6h1.3v1.3h-1.3zM424.9 527.5h1.3v1.3h-1.3zM423.4 526.4h1.3v1.3h-1.3zM424.9 525.4h1.3v1.3h-1.3zM423.4 522.1h1.3v1.3h-1.3zM424.9 521.3h1.3v1.3h-1.3zM423.4 520.5h1.3v1.3h-1.3zM421.8 520.4h1.3v1.3h-1.3zM424.9 519.3h1.3v1.3h-1.3zM426.5 519.2h1.3v1.3h-1.3zM423.4 518.8h1.3v1.3h-1.3zM421.8 518.1h1.3v1.3h-1.3zM424.9 517.7h1.3v1.3h-1.3zM423.4 517.3h1.3v1.3h-1.3zM426.5 517.2h1.3v1.3h-1.3zM420.2 517.1h1.3v1.3h-1.3zM428.0 517.0h1.3v1.3h-1.3zM418.7 516.7h1.3v1.3h-1.3zM429.6 516.7h1.3v1.3h-1.3zM421.8 516.4h1.3v1.3h-1.3zM417.2 516.4h1.3v1.3h-1.3zM431.1 516.4h1.3v1.3h-1.3zM423.4 515.5h1.3v1.3h-1.3zM424.9 515.3h1.3v1.3h-1.3zM421.8 514.8h1.3v1.3h-1.3zM423.4 513.9h1.3v1.3h-1.3zM425.7 513.8h1.3v1.3h-1.3zM420.2 513.7h1.3v1.3h-1.3zM427.2 513.7h1.3v1.3h-1.3zM418.7 513.5h1.3v1.3h-1.3zM428.8 513.3h1.3v1.3h-1.3zM424.1 512.4h1.3v1.3h-1.3zM422.6 512.1h1.3v1.3h-1.3zM425.7 512.1h1.3v1.3h-1.3zM421.0 511.2h1.3v1.3h-1.3zM427.2 511.2h1.3v1.3h-1.3zM419.5 511.0h1.3v1.3h-1.3zM423.4 510.6h1.3v1.3h-1.3zM424.9 510.6h1.3v1.3h-1.3zM428.8 510.5h1.3v1.3h-1.3zM417.9 510.0h1.3v1.3h-1.3zM421.8 509.8h1.3v1.3h-1.3zM426.5 509.6h1.3v1.3h-1.3zM420.2 509.6h1.3v1.3h-1.3zM430.3 509.4h1.3v1.3h-1.3zM423.4 508.8h1.3v1.3h-1.3zM424.9 508.7h1.3v1.3h-1.3zM428.0 508.4h1.3v1.3h-1.3zM422.6 507.5h1.3v1.3h-1.3zM424.1 507.3h1.3v1.3h-1.3zM425.7 506.8h1.3v1.3h-1.3zM421.0 506.7h1.3v1.3h-1.3zM427.2 506.7h1.3v1.3h-1.3zM419.5 506.7h1.3v1.3h-1.3zM423.4 505.8h1.3v1.3h-1.3zM428.8 505.7h1.3v1.3h-1.3zM417.9 505.6h1.3v1.3h-1.3zM424.9 505.3h1.3v1.3h-1.3zM421.8 505.2h1.3v1.3h-1.3zM426.5 504.6h1.3v1.3h-1.3zM420.2 504.5h1.3v1.3h-1.3zM423.4 504.1h1.3v1.3h-1.3zM424.9 503.3h1.3v1.3h-1.3zM421.8 503.1h1.3v1.3h-1.3zM427.2 503.1h1.3v1.3h-1.3zM419.5 503.0h1.3v1.3h-1.3zM428.8 503.0h1.3v1.3h-1.3zM417.9 502.8h1.3v1.3h-1.3zM423.4 502.4h1.3v1.3h-1.3zM430.3 502.2h1.3v1.3h-1.3zM416.4 502.1h1.3v1.3h-1.3zM423.4 500.8h1.3v1.3h-1.3zM424.9 500.7h1.3v1.3h-1.3zM421.8 500.4h1.3v1.3h-1.3zM426.5 500.2h1.3v1.3h-1.3zM420.2 500.1h1.3v1.3h-1.3zM424.1 499.4h1.3v1.3h-1.3zM428.0 499.4h1.3v1.3h-1.3zM418.7 499.3h1.3v1.3h-1.3zM422.6 499.0h1.3v1.3h-1.3zM424.9 498.0h1.3v1.3h-1.3zM421.0 497.7h1.3v1.3h-1.3zM426.5 497.7h1.3v1.3h-1.3zM423.4 497.6h1.3v1.3h-1.3zM419.5 497.1h1.3v1.3h-1.3zM428.0 497.0h1.3v1.3h-1.3zM417.9 496.9h1.3v1.3h-1.3zM429.6 496.9h1.3v1.3h-1.3zM416.4 496.6h1.3v1.3h-1.3zM431.1 496.5h1.3v1.3h-1.3zM414.8 496.4h1.3v1.3h-1.3zM424.1 496.2h1.3v1.3h-1.3zM422.6 494.9h1.3v1.3h-1.3zM425.7 494.9h1.3v1.3h-1.3zM424.1 494.6h1.3v1.3h-1.3zM421.0 494.5h1.3v1.3h-1.3zM427.2 494.2h1.3v1.3h-1.3zM419.5 494.1h1.3v1.3h-1.3zM428.8 494.1h1.3v1.3h-1.3zM423.4 492.3h1.3v1.3h-1.3zM424.9 492.1h1.3v1.3h-1.3zM421.8 492.0h1.3v1.3h-1.3zM426.5 491.6h1.3v1.3h-1.3zM420.2 491.5h1.3v1.3h-1.3zM428.0 491.1h1.3v1.3h-1.3zM418.7 490.8h1.3v1.3h-1.3zM424.1 490.8h1.3v1.3h-1.3zM422.6 490.3h1.3v1.3h-1.3zM425.7 489.6h1.3v1.3h-1.3zM424.1 489.2h1.3v1.3h-1.3zM421.0 489.1h1.3v1.3h-1.3zM427.2 488.8h1.3v1.3h-1.3zM422.6 488.7h1.3v1.3h-1.3zM419.5 488.6h1.3v1.3h-1.3zM428.8 488.6h1.3v1.3h-1.3zM417.9 488.4h1.3v1.3h-1.3zM423.4 487.1h1.3v1.3h-1.3zM424.9 486.9h1.3v1.3h-1.3zM421.8 486.9h1.3v1.3h-1.3zM423.4 485.3h1.3v1.3h-1.3zM424.9 485.3h1.3v1.3h-1.3zM423.4 483.0h1.3v1.3h-1.3zM424.1 481.5h1.3v1.3h-1.3zM423.4 475.6h1.3v1.3h-1.3zM424.9 474.6h1.3v1.3h-1.3zM423.4 467.4h1.3v1.3h-1.3zM424.9 466.1h1.3v1.3h-1.3zM423.4 462.9h1.3v1.3h-1.3zM423.4 459.6h1.3v1.3h-1.3z" fill="#111" opacity="1"/>
<path d="M416.2 504.5h15.6" stroke="#111" stroke-width="1"/>
<path d="M420.8 502.4h6.4M420.8 506.6h6.4M424 502.4V506.6" stroke="#111" stroke-width="0.5" fill="none"/>
<path d="M441.9 550.6h1.3v1.3h-1.3zM441.9 547.4h1.3v1.3h-1.3zM441.9 540.1h1.3v1.3h-1.3zM443.6 540.0h1.3v1.3h-1.3zM440.1 539.8h1.3v1.3h-1.3zM445.4 539.8h1.3v1.3h-1.3zM438.4 539.5h1.3v1.3h-1.3zM441.9 538.1h1.3v1.3h-1.3zM443.6 537.8h1.3v1.3h-1.3zM440.1 537.7h1.3v1.3h-1.3zM445.4 537.5h1.3v1.3h-1.3zM438.4 537.3h1.3v1.3h-1.3zM447.1 537.2h1.3v1.3h-1.3zM441.9 536.1h1.3v1.3h-1.3zM443.6 535.9h1.3v1.3h-1.3zM440.1 535.9h1.3v1.3h-1.3zM436.6 535.8h1.3v1.3h-1.3zM445.4 535.3h1.3v1.3h-1.3zM438.4 535.3h1.3v1.3h-1.3zM447.1 535.2h1.3v1.3h-1.3zM448.9 534.9h1.3v1.3h-1.3zM434.9 534.6h1.3v1.3h-1.3zM450.6 534.6h1.3v1.3h-1.3zM441.9 533.8h1.3v1.3h-1.3zM443.6 533.8h1.3v1.3h-1.3zM440.1 533.7h1.3v1.3h-1.3zM445.4 533.3h1.3v1.3h-1.3zM438.4 533.2h1.3v1.3h-1.3zM447.1 533.1h1.3v1.3h-1.3zM436.6 532.3h1.3v1.3h-1.3zM442.7 532.2h1.3v1.3h-1.3zM441.0 532.0h1.3v1.3h-1.3zM444.5 531.6h1.3v1.3h-1.3zM439.2 531.5h1.3v1.3h-1.3zM446.2 531.1h1.3v1.3h-1.3zM437.5 530.6h1.3v1.3h-1.3zM441.9 530.2h1.3v1.3h-1.3zM443.6 529.8h1.3v1.3h-1.3zM440.1 529.7h1.3v1.3h-1.3zM448.0 529.7h1.3v1.3h-1.3zM445.4 528.9h1.3v1.3h-1.3zM438.4 528.6h1.3v1.3h-1.3zM436.6 528.6h1.3v1.3h-1.3zM434.9 528.5h1.3v1.3h-1.3zM441.9 528.3h1.3v1.3h-1.3zM443.6 527.9h1.3v1.3h-1.3zM440.1 527.4h1.3v1.3h-1.3zM445.4 526.9h1.3v1.3h-1.3zM438.4 526.7h1.3v1.3h-1.3zM447.1 526.6h1.3v1.3h-1.3zM441.9 526.1h1.3v1.3h-1.3zM443.6 526.0h1.3v1.3h-1.3zM436.6 526.0h1.3v1.3h-1.3zM440.1 525.6h1.3v1.3h-1.3zM448.9 525.2h1.3v1.3h-1.3zM445.4 525.1h1.3v1.3h-1.3zM442.7 524.5h1.3v1.3h-1.3zM441.0 523.9h1.3v1.3h-1.3zM439.2 523.7h1.3v1.3h-1.3zM444.5 523.4h1.3v1.3h-1.3zM446.2 523.4h1.3v1.3h-1.3zM437.5 523.3h1.3v1.3h-1.3zM448.0 523.3h1.3v1.3h-1.3zM435.7 523.1h1.3v1.3h-1.3zM449.7 523.0h1.3v1.3h-1.3zM434.0 522.8h1.3v1.3h-1.3zM451.5 522.8h1.3v1.3h-1.3zM442.7 522.7h1.3v1.3h-1.3zM432.2 522.4h1.3v1.3h-1.3zM441.0 522.0h1.3v1.3h-1.3zM439.2 521.9h1.3v1.3h-1.3zM443.6 521.0h1.3v1.3h-1.3zM445.4 520.8h1.3v1.3h-1.3zM437.5 520.8h1.3v1.3h-1.3zM447.1 520.6h1.3v1.3h-1.3zM441.9 520.5h1.3v1.3h-1.3zM440.1 520.4h1.3v1.3h-1.3zM442.7 519.0h1.3v1.3h-1.3zM441.0 518.7h1.3v1.3h-1.3zM444.5 518.5h1.3v1.3h-1.3zM439.2 518.4h1.3v1.3h-1.3zM446.2 517.8h1.3v1.3h-1.3zM437.5 517.4h1.3v1.3h-1.3zM448.0 517.4h1.3v1.3h-1.3zM435.7 517.3h1.3v1.3h-1.3zM441.9 517.2h1.3v1.3h-1.3zM449.7 517.1h1.3v1.3h-1.3zM443.6 516.4h1.3v1.3h-1.3zM440.1 516.0h1.3v1.3h-1.3zM445.4 515.8h1.3v1.3h-1.3zM438.4 515.7h1.3v1.3h-1.3zM447.1 515.5h1.3v1.3h-1.3zM441.9 515.4h1.3v1.3h-1.3zM436.6 515.1h1.3v1.3h-1.3zM448.9 515.1h1.3v1.3h-1.3zM434.9 515.0h1.3v1.3h-1.3zM443.6 514.3h1.3v1.3h-1.3zM441.0 513.8h1.3v1.3h-1.3zM439.2 513.3h1.3v1.3h-1.3zM442.7 512.6h1.3v1.3h-1.3zM441.0 511.7h1.3v1.3h-1.3zM442.7 510.7h1.3v1.3h-1.3zM440.1 510.2h1.3v1.3h-1.3zM444.5 510.1h1.3v1.3h-1.3zM438.4 509.9h1.3v1.3h-1.3zM446.2 509.7h1.3v1.3h-1.3zM441.9 508.8h1.3v1.3h-1.3zM436.6 508.8h1.3v1.3h-1.3zM443.6 508.4h1.3v1.3h-1.3zM440.1 507.8h1.3v1.3h-1.3zM441.9 505.6h1.3v1.3h-1.3zM442.7 503.9h1.3v1.3h-1.3zM441.0 503.2h1.3v1.3h-1.3zM443.6 502.4h1.3v1.3h-1.3zM441.9 496.2h1.3v1.3h-1.3zM443.6 495.7h1.3v1.3h-1.3zM440.1 494.8h1.3v1.3h-1.3zM441.9 488.9h1.3v1.3h-1.3zM441.9 485.6h1.3v1.3h-1.3zM443.6 484.3h1.3v1.3h-1.3zM441.9 482.4h1.3v1.3h-1.3z" fill="#111" opacity="0.85"/>
<path d="M432.1 523.3h20.9" stroke="#111" stroke-width="1"/>
<path d="M439.3 521.9h6.4M439.3 524.8h6.4M442.5 521.9V524.8" stroke="#111" stroke-width="0.5" fill="none"/>
<path d="M460.5 544.1h1.4v1.4h-1.4zM460.5 537.6h1.4v1.4h-1.4zM460.5 530.5h1.4v1.4h-1.4zM460.5 525.8h1.4v1.4h-1.4zM462.4 525.5h1.4v1.4h-1.4zM458.6 524.9h1.4v1.4h-1.4zM460.5 523.4h1.4v1.4h-1.4zM462.4 522.2h1.4v1.4h-1.4zM460.5 521.4h1.4v1.4h-1.4zM458.6 521.3h1.4v1.4h-1.4zM461.4 519.6h1.4v1.4h-1.4zM459.6 519.4h1.4v1.4h-1.4zM460.5 517.3h1.4v1.4h-1.4zM462.4 515.9h1.4v1.4h-1.4zM458.6 515.7h1.4v1.4h-1.4zM460.5 515.0h1.4v1.4h-1.4zM464.3 514.9h1.4v1.4h-1.4zM456.7 514.9h1.4v1.4h-1.4zM466.2 514.9h1.4v1.4h-1.4zM454.8 514.5h1.4v1.4h-1.4zM468.1 514.2h1.4v1.4h-1.4zM452.9 514.2h1.4v1.4h-1.4zM462.4 514.0h1.4v1.4h-1.4zM458.6 513.5h1.4v1.4h-1.4zM460.5 511.7h1.4v1.4h-1.4zM462.4 511.7h1.4v1.4h-1.4zM458.6 511.1h1.4v1.4h-1.4zM464.3 511.1h1.4v1.4h-1.4zM456.7 510.8h1.4v1.4h-1.4zM466.2 510.7h1.4v1.4h-1.4zM454.8 510.5h1.4v1.4h-1.4zM468.1 510.5h1.4v1.4h-1.4zM460.5 509.8h1.4v1.4h-1.4zM462.4 509.6h1.4v1.4h-1.4zM452.9 509.4h1.4v1.4h-1.4zM470.0 509.3h1.4v1.4h-1.4zM458.6 509.2h1.4v1.4h-1.4zM464.3 509.1h1.4v1.4h-1.4zM451.0 509.0h1.4v1.4h-1.4zM456.7 508.7h1.4v1.4h-1.4zM466.2 508.0h1.4v1.4h-1.4zM460.5 507.8h1.4v1.4h-1.4zM462.4 506.8h1.4v1.4h-1.4zM458.6 506.4h1.4v1.4h-1.4zM460.5 505.8h1.4v1.4h-1.4zM464.3 505.6h1.4v1.4h-1.4zM456.7 505.6h1.4v1.4h-1.4zM462.4 504.8h1.4v1.4h-1.4zM459.6 504.1h1.4v1.4h-1.4zM466.2 504.0h1.4v1.4h-1.4zM457.6 503.9h1.4v1.4h-1.4zM455.8 503.8h1.4v1.4h-1.4zM464.3 503.7h1.4v1.4h-1.4zM453.9 503.3h1.4v1.4h-1.4zM460.5 501.9h1.4v1.4h-1.4zM462.4 501.5h1.4v1.4h-1.4zM458.6 501.4h1.4v1.4h-1.4zM464.3 500.9h1.4v1.4h-1.4zM456.7 500.8h1.4v1.4h-1.4zM466.2 500.8h1.4v1.4h-1.4zM454.8 500.6h1.4v1.4h-1.4zM460.5 500.0h1.4v1.4h-1.4zM468.1 500.0h1.4v1.4h-1.4zM452.9 499.7h1.4v1.4h-1.4zM462.4 499.1h1.4v1.4h-1.4zM459.6 498.2h1.4v1.4h-1.4zM457.6 497.8h1.4v1.4h-1.4zM461.4 496.7h1.4v1.4h-1.4zM459.6 496.3h1.4v1.4h-1.4zM463.4 496.0h1.4v1.4h-1.4zM456.7 496.0h1.4v1.4h-1.4zM465.2 495.6h1.4v1.4h-1.4zM454.8 495.5h1.4v1.4h-1.4zM467.1 495.1h1.4v1.4h-1.4zM460.5 494.3h1.4v1.4h-1.4zM462.4 493.3h1.4v1.4h-1.4zM458.6 492.8h1.4v1.4h-1.4zM464.3 492.6h1.4v1.4h-1.4zM460.5 492.2h1.4v1.4h-1.4zM456.7 491.8h1.4v1.4h-1.4zM466.2 491.7h1.4v1.4h-1.4zM462.4 490.9h1.4v1.4h-1.4zM460.5 490.0h1.4v1.4h-1.4zM458.6 489.9h1.4v1.4h-1.4zM463.4 489.1h1.4v1.4h-1.4zM456.7 488.6h1.4v1.4h-1.4zM461.4 488.3h1.4v1.4h-1.4zM459.6 488.3h1.4v1.4h-1.4zM465.2 488.1h1.4v1.4h-1.4zM454.8 487.9h1.4v1.4h-1.4zM467.1 487.4h1.4v1.4h-1.4zM452.9 487.2h1.4v1.4h-1.4zM463.4 487.2h1.4v1.4h-1.4zM457.6 486.7h1.4v1.4h-1.4zM460.5 486.6h1.4v1.4h-1.4zM469.1 486.5h1.4v1.4h-1.4zM465.2 486.2h1.4v1.4h-1.4zM462.4 485.3h1.4v1.4h-1.4zM459.6 484.9h1.4v1.4h-1.4zM457.6 484.1h1.4v1.4h-1.4zM461.4 483.6h1.4v1.4h-1.4zM463.4 483.1h1.4v1.4h-1.4zM465.2 483.0h1.4v1.4h-1.4zM459.6 482.0h1.4v1.4h-1.4zM461.4 481.5h1.4v1.4h-1.4zM463.4 481.1h1.4v1.4h-1.4zM457.6 481.0h1.4v1.4h-1.4zM465.2 480.9h1.4v1.4h-1.4zM455.8 480.8h1.4v1.4h-1.4zM467.1 480.8h1.4v1.4h-1.4zM460.5 479.3h1.4v1.4h-1.4zM462.4 478.8h1.4v1.4h-1.4zM459.6 477.7h1.4v1.4h-1.4zM460.5 475.6h1.4v1.4h-1.4zM460.5 473.0h1.4v1.4h-1.4zM462.4 471.9h1.4v1.4h-1.4zM458.6 471.6h1.4v1.4h-1.4zM460.5 471.0h1.4v1.4h-1.4zM464.3 470.9h1.4v1.4h-1.4zM456.7 470.5h1.4v1.4h-1.4zM462.4 469.9h1.4v1.4h-1.4zM460.5 467.9h1.4v1.4h-1.4zM460.5 465.7h1.4v1.4h-1.4zM462.4 465.5h1.4v1.4h-1.4zM460.5 462.6h1.4v1.4h-1.4zM460.5 460.1h1.4v1.4h-1.4zM460.5 457.4h1.4v1.4h-1.4zM460.5 451.8h1.4v1.4h-1.4zM460.5 446.6h1.4v1.4h-1.4zM460.5 443.3h1.4v1.4h-1.4zM460.5 441.4h1.4v1.4h-1.4z" fill="#38b838" opacity="0.8"/>
<path d="M452.8 498.0h16.8" stroke="#111" stroke-width="1"/>
<path d="M458.0 495.7h6.4M458.0 500.3h6.4M461.2 495.7V500.3" stroke="#111" stroke-width="0.5" fill="none"/>
<path d="M478.7 537.6h1.3v1.3h-1.3zM478.7 531.1h1.3v1.3h-1.3zM478.7 528.0h1.3v1.3h-1.3zM480.2 526.8h1.3v1.3h-1.3zM478.7 525.7h1.3v1.3h-1.3zM478.7 523.0h1.3v1.3h-1.3zM480.2 523.0h1.3v1.3h-1.3zM477.1 522.7h1.3v1.3h-1.3zM481.8 522.5h1.3v1.3h-1.3zM475.6 522.2h1.3v1.3h-1.3zM483.3 522.1h1.3v1.3h-1.3zM479.4 521.6h1.3v1.3h-1.3zM477.9 521.1h1.3v1.3h-1.3zM481.0 521.0h1.3v1.3h-1.3zM476.3 520.1h1.3v1.3h-1.3zM479.4 520.1h1.3v1.3h-1.3zM482.5 519.9h1.3v1.3h-1.3zM474.8 519.6h1.3v1.3h-1.3zM477.9 519.1h1.3v1.3h-1.3zM481.0 518.8h1.3v1.3h-1.3zM479.4 518.3h1.3v1.3h-1.3zM476.3 518.2h1.3v1.3h-1.3zM482.5 518.1h1.3v1.3h-1.3zM474.8 517.9h1.3v1.3h-1.3zM484.1 517.8h1.3v1.3h-1.3zM477.9 517.2h1.3v1.3h-1.3zM479.4 516.3h1.3v1.3h-1.3zM477.9 515.6h1.3v1.3h-1.3zM481.0 515.4h1.3v1.3h-1.3zM476.3 514.8h1.3v1.3h-1.3zM479.4 514.7h1.3v1.3h-1.3zM482.5 514.4h1.3v1.3h-1.3zM474.8 514.2h1.3v1.3h-1.3zM477.9 514.0h1.3v1.3h-1.3zM481.0 513.7h1.3v1.3h-1.3zM484.1 513.6h1.3v1.3h-1.3zM473.2 513.4h1.3v1.3h-1.3zM479.4 512.9h1.3v1.3h-1.3zM476.3 512.8h1.3v1.3h-1.3zM482.5 512.8h1.3v1.3h-1.3zM477.9 512.5h1.3v1.3h-1.3zM474.8 512.2h1.3v1.3h-1.3zM481.0 512.1h1.3v1.3h-1.3zM484.1 511.8h1.3v1.3h-1.3zM478.7 510.4h1.3v1.3h-1.3zM480.2 510.0h1.3v1.3h-1.3zM477.1 509.6h1.3v1.3h-1.3zM481.8 509.5h1.3v1.3h-1.3zM475.6 509.5h1.3v1.3h-1.3zM483.3 509.4h1.3v1.3h-1.3zM478.7 508.9h1.3v1.3h-1.3zM480.2 508.3h1.3v1.3h-1.3zM474.0 508.2h1.3v1.3h-1.3zM476.3 508.1h1.3v1.3h-1.3zM484.9 508.1h1.3v1.3h-1.3zM481.8 507.9h1.3v1.3h-1.3zM483.3 507.8h1.3v1.3h-1.3zM477.9 507.5h1.3v1.3h-1.3zM479.4 506.9h1.3v1.3h-1.3zM475.6 506.8h1.3v1.3h-1.3zM473.2 506.8h1.3v1.3h-1.3zM481.0 506.4h1.3v1.3h-1.3zM478.7 505.6h1.3v1.3h-1.3zM480.2 504.8h1.3v1.3h-1.3zM477.1 504.6h1.3v1.3h-1.3zM481.8 504.5h1.3v1.3h-1.3zM475.6 504.5h1.3v1.3h-1.3zM483.3 504.5h1.3v1.3h-1.3zM474.0 504.3h1.3v1.3h-1.3zM484.9 504.2h1.3v1.3h-1.3zM478.7 504.0h1.3v1.3h-1.3zM472.5 503.8h1.3v1.3h-1.3zM486.4 503.6h1.3v1.3h-1.3zM470.9 503.4h1.3v1.3h-1.3zM480.2 503.0h1.3v1.3h-1.3zM477.1 502.7h1.3v1.3h-1.3zM481.8 502.5h1.3v1.3h-1.3zM478.7 502.3h1.3v1.3h-1.3zM475.6 502.3h1.3v1.3h-1.3zM483.3 501.6h1.3v1.3h-1.3zM474.0 501.6h1.3v1.3h-1.3zM480.2 501.5h1.3v1.3h-1.3zM477.9 501.0h1.3v1.3h-1.3zM476.3 500.9h1.3v1.3h-1.3zM481.8 500.9h1.3v1.3h-1.3zM484.9 500.7h1.3v1.3h-1.3zM472.5 500.7h1.3v1.3h-1.3zM486.4 500.4h1.3v1.3h-1.3zM470.9 500.4h1.3v1.3h-1.3zM474.8 500.2h1.3v1.3h-1.3zM479.4 499.9h1.3v1.3h-1.3zM483.3 499.9h1.3v1.3h-1.3zM488.0 499.7h1.3v1.3h-1.3zM477.9 499.4h1.3v1.3h-1.3zM481.0 499.3h1.3v1.3h-1.3zM476.3 499.2h1.3v1.3h-1.3zM473.2 498.9h1.3v1.3h-1.3zM478.7 498.0h1.3v1.3h-1.3zM480.2 497.7h1.3v1.3h-1.3zM477.1 497.2h1.3v1.3h-1.3zM481.8 496.7h1.3v1.3h-1.3zM475.6 496.6h1.3v1.3h-1.3zM478.7 496.2h1.3v1.3h-1.3zM483.3 496.2h1.3v1.3h-1.3zM480.2 495.8h1.3v1.3h-1.3zM474.0 495.8h1.3v1.3h-1.3zM477.1 495.5h1.3v1.3h-1.3zM484.9 495.2h1.3v1.3h-1.3zM481.8 495.1h1.3v1.3h-1.3zM478.7 494.4h1.3v1.3h-1.3zM480.2 493.4h1.3v1.3h-1.3zM477.1 493.2h1.3v1.3h-1.3zM481.8 493.1h1.3v1.3h-1.3zM475.6 493.0h1.3v1.3h-1.3zM483.3 492.9h1.3v1.3h-1.3zM478.7 492.1h1.3v1.3h-1.3zM480.2 491.8h1.3v1.3h-1.3zM478.7 490.4h1.3v1.3h-1.3zM477.1 490.3h1.3v1.3h-1.3zM480.2 490.2h1.3v1.3h-1.3zM481.8 489.9h1.3v1.3h-1.3zM475.6 489.3h1.3v1.3h-1.3zM483.3 489.2h1.3v1.3h-1.3zM474.0 489.0h1.3v1.3h-1.3zM477.9 489.0h1.3v1.3h-1.3zM479.4 488.8h1.3v1.3h-1.3zM481.0 488.4h1.3v1.3h-1.3zM484.9 488.2h1.3v1.3h-1.3zM472.5 487.9h1.3v1.3h-1.3zM478.7 487.3h1.3v1.3h-1.3zM477.1 487.1h1.3v1.3h-1.3zM480.2 486.5h1.3v1.3h-1.3zM481.8 486.2h1.3v1.3h-1.3zM475.6 486.1h1.3v1.3h-1.3zM483.3 486.1h1.3v1.3h-1.3zM478.7 485.7h1.3v1.3h-1.3zM477.1 485.5h1.3v1.3h-1.3zM474.0 485.2h1.3v1.3h-1.3zM480.2 485.0h1.3v1.3h-1.3zM481.8 484.6h1.3v1.3h-1.3zM475.6 484.5h1.3v1.3h-1.3zM478.7 483.7h1.3v1.3h-1.3zM477.1 483.6h1.3v1.3h-1.3zM483.3 483.5h1.3v1.3h-1.3zM480.2 483.4h1.3v1.3h-1.3zM481.8 482.8h1.3v1.3h-1.3zM475.6 482.6h1.3v1.3h-1.3zM474.0 482.5h1.3v1.3h-1.3zM478.7 481.9h1.3v1.3h-1.3zM480.2 481.2h1.3v1.3h-1.3zM477.1 480.8h1.3v1.3h-1.3zM478.7 480.2h1.3v1.3h-1.3zM480.2 479.4h1.3v1.3h-1.3zM478.7 476.1h1.3v1.3h-1.3zM480.2 476.0h1.3v1.3h-1.3zM477.1 475.0h1.3v1.3h-1.3zM478.7 474.4h1.3v1.3h-1.3zM478.7 469.4h1.3v1.3h-1.3zM478.7 466.1h1.3v1.3h-1.3zM478.7 460.9h1.3v1.3h-1.3z" fill="#38b838" opacity="1"/>
<path d="M470.8 504.5h17.1" stroke="#111" stroke-width="1"/>
<path d="M476.1 502.4h6.4M476.1 506.6h6.4M479.3 502.4V506.6" stroke="#111" stroke-width="0.5" fill="none"/>
<path d="M497.4 555.9h1.3v1.3h-1.3zM497.4 551.9h1.3v1.3h-1.3zM497.4 548.0h1.3v1.3h-1.3zM499.1 547.4h1.3v1.3h-1.3zM495.6 547.2h1.3v1.3h-1.3zM500.9 546.8h1.3v1.3h-1.3zM493.9 546.5h1.3v1.3h-1.3zM497.4 544.2h1.3v1.3h-1.3zM499.1 543.9h1.3v1.3h-1.3zM495.6 543.8h1.3v1.3h-1.3zM497.4 542.0h1.3v1.3h-1.3zM499.1 540.7h1.3v1.3h-1.3zM495.6 540.6h1.3v1.3h-1.3zM500.9 540.3h1.3v1.3h-1.3zM497.4 540.2h1.3v1.3h-1.3zM493.9 539.6h1.3v1.3h-1.3zM502.6 539.1h1.3v1.3h-1.3zM499.1 538.8h1.3v1.3h-1.3zM497.4 538.3h1.3v1.3h-1.3zM495.6 538.2h1.3v1.3h-1.3zM500.9 538.1h1.3v1.3h-1.3zM493.0 538.0h1.3v1.3h-1.3zM491.2 538.0h1.3v1.3h-1.3zM503.5 537.6h1.3v1.3h-1.3zM505.2 537.5h1.3v1.3h-1.3zM489.5 537.2h1.3v1.3h-1.3zM498.2 536.7h1.3v1.3h-1.3zM496.5 536.3h1.3v1.3h-1.3zM500.0 536.1h1.3v1.3h-1.3zM494.7 535.8h1.3v1.3h-1.3zM501.7 535.3h1.3v1.3h-1.3zM493.0 535.2h1.3v1.3h-1.3zM498.2 534.8h1.3v1.3h-1.3zM503.5 534.8h1.3v1.3h-1.3zM491.2 534.6h1.3v1.3h-1.3zM496.5 534.3h1.3v1.3h-1.3zM500.0 533.9h1.3v1.3h-1.3zM494.7 533.7h1.3v1.3h-1.3zM501.7 533.3h1.3v1.3h-1.3zM498.2 533.1h1.3v1.3h-1.3zM493.0 533.0h1.3v1.3h-1.3zM503.5 532.9h1.3v1.3h-1.3zM490.4 532.9h1.3v1.3h-1.3zM496.5 532.4h1.3v1.3h-1.3zM500.0 531.6h1.3v1.3h-1.3zM498.2 531.3h1.3v1.3h-1.3zM494.7 531.3h1.3v1.3h-1.3zM501.7 531.2h1.3v1.3h-1.3zM493.0 531.1h1.3v1.3h-1.3zM496.5 530.5h1.3v1.3h-1.3zM503.5 530.4h1.3v1.3h-1.3zM491.2 530.1h1.3v1.3h-1.3zM505.2 530.1h1.3v1.3h-1.3zM499.1 529.6h1.3v1.3h-1.3zM494.7 529.2h1.3v1.3h-1.3zM500.9 529.0h1.3v1.3h-1.3zM497.4 528.7h1.3v1.3h-1.3zM493.0 528.4h1.3v1.3h-1.3zM502.6 528.3h1.3v1.3h-1.3zM491.2 528.0h1.3v1.3h-1.3zM504.4 528.0h1.3v1.3h-1.3zM499.1 527.5h1.3v1.3h-1.3zM495.6 527.3h1.3v1.3h-1.3zM500.9 527.1h1.3v1.3h-1.3zM489.5 527.0h1.3v1.3h-1.3zM497.4 526.7h1.3v1.3h-1.3zM493.9 526.0h1.3v1.3h-1.3zM502.6 526.0h1.3v1.3h-1.3zM499.1 525.6h1.3v1.3h-1.3zM495.6 525.2h1.3v1.3h-1.3zM497.4 524.8h1.3v1.3h-1.3zM500.9 524.8h1.3v1.3h-1.3zM492.1 524.7h1.3v1.3h-1.3zM504.4 524.7h1.3v1.3h-1.3zM493.9 524.0h1.3v1.3h-1.3zM499.1 523.9h1.3v1.3h-1.3zM502.6 523.7h1.3v1.3h-1.3zM495.6 523.3h1.3v1.3h-1.3zM490.4 523.2h1.3v1.3h-1.3zM505.2 523.1h1.3v1.3h-1.3zM488.6 523.0h1.3v1.3h-1.3zM497.4 522.8h1.3v1.3h-1.3zM500.9 522.4h1.3v1.3h-1.3zM493.9 522.2h1.3v1.3h-1.3zM499.1 522.1h1.3v1.3h-1.3zM502.6 521.7h1.3v1.3h-1.3zM492.1 521.7h1.3v1.3h-1.3zM495.6 521.5h1.3v1.3h-1.3zM504.4 521.5h1.3v1.3h-1.3zM490.4 521.5h1.3v1.3h-1.3zM506.1 521.4h1.3v1.3h-1.3zM488.6 521.3h1.3v1.3h-1.3zM497.4 520.3h1.3v1.3h-1.3zM499.1 519.9h1.3v1.3h-1.3zM495.6 519.1h1.3v1.3h-1.3zM500.9 518.8h1.3v1.3h-1.3zM497.4 517.4h1.3v1.3h-1.3zM499.1 517.3h1.3v1.3h-1.3zM495.6 517.0h1.3v1.3h-1.3zM500.9 516.7h1.3v1.3h-1.3zM493.9 516.4h1.3v1.3h-1.3zM502.6 516.1h1.3v1.3h-1.3zM492.1 515.9h1.3v1.3h-1.3zM497.4 515.6h1.3v1.3h-1.3zM499.1 514.4h1.3v1.3h-1.3zM496.5 514.0h1.3v1.3h-1.3zM494.7 513.4h1.3v1.3h-1.3zM498.2 512.7h1.3v1.3h-1.3zM500.0 512.6h1.3v1.3h-1.3zM496.5 512.1h1.3v1.3h-1.3zM494.7 511.4h1.3v1.3h-1.3zM501.7 511.2h1.3v1.3h-1.3zM498.2 510.7h1.3v1.3h-1.3zM496.5 509.8h1.3v1.3h-1.3zM500.0 509.7h1.3v1.3h-1.3zM493.9 509.6h1.3v1.3h-1.3zM501.7 509.3h1.3v1.3h-1.3zM492.1 509.2h1.3v1.3h-1.3zM498.2 508.4h1.3v1.3h-1.3zM496.5 507.8h1.3v1.3h-1.3zM500.0 507.1h1.3v1.3h-1.3zM498.2 506.4h1.3v1.3h-1.3zM496.5 505.4h1.3v1.3h-1.3zM500.0 505.1h1.3v1.3h-1.3zM497.4 503.8h1.3v1.3h-1.3zM497.4 501.8h1.3v1.3h-1.3zM497.4 499.7h1.3v1.3h-1.3zM499.1 499.0h1.3v1.3h-1.3zM495.6 498.7h1.3v1.3h-1.3zM500.9 498.5h1.3v1.3h-1.3zM493.9 498.0h1.3v1.3h-1.3zM497.4 496.1h1.3v1.3h-1.3zM499.1 496.0h1.3v1.3h-1.3zM495.6 495.7h1.3v1.3h-1.3zM497.4 493.5h1.3v1.3h-1.3zM497.4 489.4h1.3v1.3h-1.3zM499.1 489.4h1.3v1.3h-1.3zM497.4 479.1h1.3v1.3h-1.3zM497.4 472.6h1.3v1.3h-1.3zM497.4 466.1h1.3v1.3h-1.3zM497.4 455.8h1.3v1.3h-1.3z" fill="#38b838" opacity="0.85"/>
<path d="M488.4 524.6h19.1" stroke="#111" stroke-width="1"/>
<path d="M494.8 523.3h6.4M494.8 526.0h6.4M498 523.3V526.0" stroke="#111" stroke-width="0.5" fill="none"/>
<path d="M285.8 401.5V564.3H507.5" stroke="#000" stroke-width="1.2" fill="none"/>
<path d="M284.0 564.3H285.8" stroke="#000" stroke-width="0.8"/>
<text x="283.2" y="566.5" font-size="6.2" text-anchor="end" fill="#000" stroke="#000" stroke-width="0.25">0.0</text>
<path d="M284.0 531.8H285.8" stroke="#000" stroke-width="0.8"/>
<text x="283.2" y="534.0" font-size="6.2" text-anchor="end" fill="#000" stroke="#000" stroke-width="0.25">0.5</text>
<path d="M284.0 499.3H285.8" stroke="#000" stroke-width="0.8"/>
<text x="283.2" y="501.5" font-size="6.2" text-anchor="end" fill="#000" stroke="#000" stroke-width="0.25">1.0</text>
<path d="M284.0 466.8H285.8" stroke="#000" stroke-width="0.8"/>
<text x="283.2" y="469.0" font-size="6.2" text-anchor="end" fill="#000" stroke="#000" stroke-width="0.25">1.5</text>
<path d="M284.0 434.3H285.8" stroke="#000" stroke-width="0.8"/>
<text x="283.2" y="436.5" font-size="6.2" text-anchor="end" fill="#000" stroke="#000" stroke-width="0.25">2.0</text>
<path d="M284.0 401.8H285.8" stroke="#000" stroke-width="0.8"/>
<text x="283.2" y="404.0" font-size="6.2" text-anchor="end" fill="#000" stroke="#000" stroke-width="0.25">2.5</text>
<path d="M295 564.3v3" stroke="#000" stroke-width="0.8"/>
<text x="296.8" y="573.0999999999999" font-size="6.15" text-anchor="end" fill="#000" stroke="#000" stroke-width="0.18" transform="rotate(-45 296.8 573.0999999999999)">DMSO</text>
<path d="M313.4 564.3v3" stroke="#000" stroke-width="0.8"/>
<text x="315.2" y="573.0999999999999" font-size="6.15" text-anchor="end" fill="#000" stroke="#000" stroke-width="0.18" transform="rotate(-45 315.2 573.0999999999999)">HU</text>
<path d="M331.8 564.3v3" stroke="#000" stroke-width="0.8"/>
<text x="333.6" y="573.0999999999999" font-size="6.15" text-anchor="end" fill="#000" stroke="#000" stroke-width="0.18" transform="rotate(-45 333.6 573.0999999999999)">HU + Prexasertib</text>
<path d="M350.2 564.3v3" stroke="#000" stroke-width="0.8"/>
<text x="352.0" y="573.0999999999999" font-size="6.15" text-anchor="end" fill="#000" stroke="#000" stroke-width="0.18" transform="rotate(-45 352.0 573.0999999999999)">DMSO</text>
<path d="M368.7 564.3v3" stroke="#000" stroke-width="0.8"/>
<text x="370.5" y="573.0999999999999" font-size="6.15" text-anchor="end" fill="#000" stroke="#000" stroke-width="0.18" transform="rotate(-45 370.5 573.0999999999999)">HU</text>
<path d="M387.2 564.3v3" stroke="#000" stroke-width="0.8"/>
<text x="389.0" y="573.0999999999999" font-size="6.15" text-anchor="end" fill="#000" stroke="#000" stroke-width="0.18" transform="rotate(-45 389.0 573.0999999999999)">HU + Prexasertib</text>
<path d="M405.6 564.3v3" stroke="#000" stroke-width="0.8"/>
<text x="407.40000000000003" y="573.0999999999999" font-size="6.15" text-anchor="end" fill="#000" stroke="#000" stroke-width="0.18" transform="rotate(-45 407.40000000000003 573.0999999999999)">DMSO</text>
<path d="M424 564.3v3" stroke="#000" stroke-width="0.8"/>
<text x="425.8" y="573.0999999999999" font-size="6.15" text-anchor="end" fill="#000" stroke="#000" stroke-width="0.18" transform="rotate(-45 425.8 573.0999999999999)">HU</text>
<path d="M442.5 564.3v3" stroke="#000" stroke-width="0.8"/>
<text x="444.3" y="573.0999999999999" font-size="6.15" text-anchor="end" fill="#000" stroke="#000" stroke-width="0.18" transform="rotate(-45 444.3 573.0999999999999)">HU + Prexasertib</text>
<path d="M461.2 564.3v3" stroke="#000" stroke-width="0.8"/>
<text x="463.0" y="573.0999999999999" font-size="6.15" text-anchor="end" fill="#000" stroke="#000" stroke-width="0.18" transform="rotate(-45 463.0 573.0999999999999)">DMSO</text>
<path d="M479.3 564.3v3" stroke="#000" stroke-width="0.8"/>
<text x="481.1" y="573.0999999999999" font-size="6.15" text-anchor="end" fill="#000" stroke="#000" stroke-width="0.18" transform="rotate(-45 481.1 573.0999999999999)">HU</text>
<path d="M498 564.3v3" stroke="#000" stroke-width="0.8"/>
<text x="499.8" y="573.0999999999999" font-size="6.15" text-anchor="end" fill="#000" stroke="#000" stroke-width="0.18" transform="rotate(-45 499.8 573.0999999999999)">HU + Prexasertib</text>
<text x="271.3" y="477" font-size="9.6" text-anchor="middle" font-weight="bold" fill="#000" transform="rotate(-90 271.3 477)">CldU/IdU ratio</text>
<path d="M314.5 391.8H423.3M314.5 389.40000000000003v4.8M423.3 389.40000000000003v4.8" stroke="#222" stroke-width="0.85" fill="none"/>
<text x="370.8" y="392.1" font-size="7.4" text-anchor="middle" font-weight="bold" fill="#000" stroke="#000" stroke-width="0.18">****</text>
<path d="M314.5 404.3H368.3M314.5 401.90000000000003v4.8M368.3 401.90000000000003v4.8" stroke="#222" stroke-width="0.85" fill="none"/>
<text x="340.8" y="404.6" font-size="7.4" text-anchor="middle" font-weight="bold" fill="#000" stroke="#000" stroke-width="0.18">****</text>
<path d="M425 401.8H479.3M425 399.40000000000003v4.8M479.3 399.40000000000003v4.8" stroke="#222" stroke-width="0.85" fill="none"/>
<text x="451.8" y="399.8" font-size="5.2" text-anchor="middle" font-weight="bold" fill="#000" stroke="#000" stroke-width="0.18">NS</text>
<path d="M369.3 413.3H478.8M369.3 410.90000000000003v4.8M478.8 410.90000000000003v4.8" stroke="#222" stroke-width="0.85" fill="none"/>
<text x="423.8" y="411.3" font-size="5.2" text-anchor="middle" font-weight="bold" fill="#000" stroke="#000" stroke-width="0.18">NS</text>
<path d="M294.5 430.6H311.3M294.5 428.20000000000005v4.8M311.3 428.20000000000005v4.8" stroke="#222" stroke-width="0.85" fill="none"/>
<text x="302.9" y="430.90000000000003" font-size="7.4" text-anchor="middle" font-weight="bold" fill="#000" stroke="#000" stroke-width="0.18">****</text>
<path d="M314.5 430.6H331.3M314.5 428.20000000000005v4.8M331.3 428.20000000000005v4.8" stroke="#222" stroke-width="0.85" fill="none"/>
<text x="322.9" y="430.90000000000003" font-size="7.4" text-anchor="middle" font-weight="bold" fill="#000" stroke="#000" stroke-width="0.18">**</text>
<path d="M350 430.6H366.3M350 428.20000000000005v4.8M366.3 428.20000000000005v4.8" stroke="#222" stroke-width="0.85" fill="none"/>
<text x="358.15" y="430.90000000000003" font-size="7.4" text-anchor="middle" font-weight="bold" fill="#000" stroke="#000" stroke-width="0.18">*</text>
<path d="M369.3 430.6H386.3M369.3 428.20000000000005v4.8M386.3 428.20000000000005v4.8" stroke="#222" stroke-width="0.85" fill="none"/>
<text x="377.8" y="430.90000000000003" font-size="7.4" text-anchor="middle" font-weight="bold" fill="#000" stroke="#000" stroke-width="0.18">****</text>
<path d="M405 430.6H421.8M405 428.20000000000005v4.8M421.8 428.20000000000005v4.8" stroke="#222" stroke-width="0.85" fill="none"/>
<text x="413.4" y="430.90000000000003" font-size="7.4" text-anchor="middle" font-weight="bold" fill="#000" stroke="#000" stroke-width="0.18">*</text>
<path d="M424.5 430.6H441.3M424.5 428.20000000000005v4.8M441.3 428.20000000000005v4.8" stroke="#222" stroke-width="0.85" fill="none"/>
<text x="432.9" y="430.90000000000003" font-size="7.4" text-anchor="middle" font-weight="bold" fill="#000" stroke="#000" stroke-width="0.18">****</text>
<path d="M461.3 430.6H478M461.3 428.20000000000005v4.8M478 428.20000000000005v4.8" stroke="#222" stroke-width="0.85" fill="none"/>
<text x="469.65" y="430.90000000000003" font-size="7.4" text-anchor="middle" font-weight="bold" fill="#000" stroke="#000" stroke-width="0.18">*</text>
<path d="M480.5 430.6H497.5M480.5 428.20000000000005v4.8M497.5 428.20000000000005v4.8" stroke="#222" stroke-width="0.85" fill="none"/>
<text x="489.0" y="430.90000000000003" font-size="7.4" text-anchor="middle" font-weight="bold" fill="#000" stroke="#000" stroke-width="0.18">****</text>
<path d="M280.5 610H327" stroke="#000" stroke-width="1.3"/>
<text x="303.8" y="618.3" font-size="6.7" text-anchor="middle" font-weight="bold" fill="#000">UWB1.289</text>
<path d="M335 610H382" stroke="#000" stroke-width="1.3"/>
<text x="342.5" y="618.3" font-size="6.7" text-anchor="start" font-weight="bold" fill="#000">UWB1.289</text>
<text x="342.5" y="625.8" font-size="6.7" text-anchor="start" font-weight="bold" fill="#000">SYR12</text>
<path d="M390.5 610H438.8" stroke="#000" stroke-width="1.3"/>
<text x="399.3" y="618.3" font-size="6.7" text-anchor="start" font-weight="bold" fill="#000">UWB1.289</text>
<text x="399.3" y="625.8" font-size="6.7" text-anchor="start" font-weight="bold" fill="#000">SYR14</text>
<path d="M448.8 610H497.5" stroke="#000" stroke-width="1.3"/>
<text x="457.5" y="618.3" font-size="6.7" text-anchor="start" font-weight="bold" fill="#000">UWB1.289</text>
<text x="454.5" y="625.8" font-size="6.7" text-anchor="start" font-weight="bold" fill="#000">+BRCA1</text>
</svg></body></html>
